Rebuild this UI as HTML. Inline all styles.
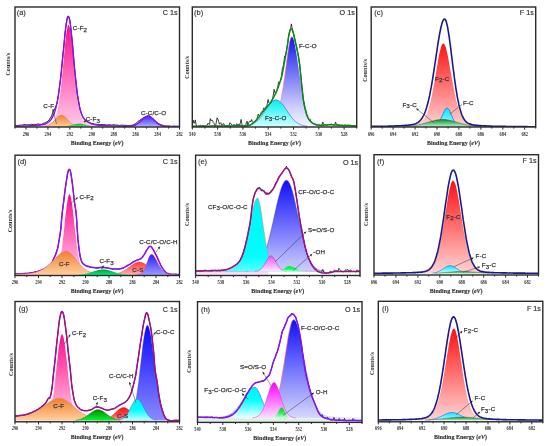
<!DOCTYPE html>
<html><head><meta charset="utf-8"><title>XPS spectra</title>
<style>html,body{margin:0;padding:0;background:#fff;}svg{display:block;}</style></head>
<body><svg width="550" height="446" viewBox="0 0 550 446">
<defs><clipPath id="c0"><rect x="15" y="7" width="164.5" height="120"/></clipPath>
<linearGradient id="g1" x1="0" y1="0" x2="0" y2="1"><stop offset="0" stop-color="#ff0a8c"/><stop offset="1" stop-color="#ffcce8"/></linearGradient>
<linearGradient id="g2" x1="0" y1="0" x2="0" y2="1"><stop offset="0" stop-color="#f08030"/><stop offset="1" stop-color="#ffd0a0"/></linearGradient>
<linearGradient id="g3" x1="0" y1="0" x2="0" y2="1"><stop offset="0" stop-color="#3c32ff"/><stop offset="1" stop-color="#b0b0ff"/></linearGradient>
<linearGradient id="g4" x1="0" y1="0" x2="0" y2="1"><stop offset="0" stop-color="#10b030"/><stop offset="1" stop-color="#50e878"/></linearGradient>
<clipPath id="c5"><rect x="192.3" y="7" width="164.4" height="120"/></clipPath>
<linearGradient id="g5" x1="0" y1="0" x2="0" y2="1"><stop offset="0" stop-color="#1414f0"/><stop offset="0.8" stop-color="#d2d2ff"/><stop offset="1" stop-color="#f4f4ff"/></linearGradient>
<linearGradient id="g6" x1="0" y1="0" x2="0" y2="1"><stop offset="0" stop-color="#00f0f0"/><stop offset="1" stop-color="#d0ffff"/></linearGradient>
<clipPath id="c8"><rect x="371.2" y="7" width="164.5" height="120"/></clipPath>
<linearGradient id="g7" x1="0" y1="0" x2="0" y2="1"><stop offset="0" stop-color="#ff1010"/><stop offset="1" stop-color="#ffd4d4"/></linearGradient>
<linearGradient id="g8" x1="0" y1="0" x2="0" y2="1"><stop offset="0" stop-color="#00e8ff"/><stop offset="1" stop-color="#b0f8ff"/></linearGradient>
<linearGradient id="g9" x1="0" y1="0" x2="0" y2="1"><stop offset="0" stop-color="#108a30"/><stop offset="1" stop-color="#c0f4d0"/></linearGradient>
<clipPath id="c12"><rect x="15" y="155.2" width="164.5" height="120.3"/></clipPath>
<linearGradient id="g10" x1="0" y1="0" x2="0" y2="1"><stop offset="0" stop-color="#ff0a8c"/><stop offset="1" stop-color="#ffcce8"/></linearGradient>
<linearGradient id="g11" x1="0" y1="0" x2="0" y2="1"><stop offset="0" stop-color="#f08030"/><stop offset="1" stop-color="#ffd0a0"/></linearGradient>
<linearGradient id="g12" x1="0" y1="0" x2="0" y2="1"><stop offset="0" stop-color="#ff3838"/><stop offset="1" stop-color="#ffb4b4"/></linearGradient>
<linearGradient id="g13" x1="0" y1="0" x2="0" y2="1"><stop offset="0" stop-color="#00a020"/><stop offset="1" stop-color="#00f090"/></linearGradient>
<linearGradient id="g14" x1="0" y1="0" x2="0" y2="1"><stop offset="0" stop-color="#2a1ef8"/><stop offset="1" stop-color="#9a9aff"/></linearGradient>
<clipPath id="c18"><rect x="195.6" y="155.2" width="164.4" height="120.3"/></clipPath>
<linearGradient id="g15" x1="0" y1="0" x2="0" y2="1"><stop offset="0" stop-color="#0f0ffa"/><stop offset="1" stop-color="#d0d0ff"/></linearGradient>
<linearGradient id="g16" x1="0" y1="0" x2="0" y2="1"><stop offset="0" stop-color="#00f4f4"/><stop offset="0.8" stop-color="#00ffff"/><stop offset="1" stop-color="#60ffff"/></linearGradient>
<linearGradient id="g17" x1="0" y1="0" x2="0" y2="1"><stop offset="0" stop-color="#f050f0"/><stop offset="1" stop-color="#ffe8ff"/></linearGradient>
<linearGradient id="g18" x1="0" y1="0" x2="0" y2="1"><stop offset="0" stop-color="#10f010"/><stop offset="0.5" stop-color="#00ff70"/><stop offset="1" stop-color="#c8ffe0"/></linearGradient>
<clipPath id="c23"><rect x="374" y="154.7" width="164.5" height="120.3"/></clipPath>
<linearGradient id="g19" x1="0" y1="0" x2="0" y2="1"><stop offset="0" stop-color="#ff1010"/><stop offset="1" stop-color="#ffd4d4"/></linearGradient>
<linearGradient id="g20" x1="0" y1="0" x2="0" y2="1"><stop offset="0" stop-color="#00e8ff"/><stop offset="1" stop-color="#d8fcff"/></linearGradient>
<linearGradient id="g21" x1="0" y1="0" x2="0" y2="1"><stop offset="0" stop-color="#208a40"/><stop offset="1" stop-color="#a8e8b8"/></linearGradient>
<clipPath id="c27"><rect x="15" y="301.5" width="164.5" height="120.3"/></clipPath>
<linearGradient id="g22" x1="0" y1="0" x2="0" y2="1"><stop offset="0" stop-color="#ff0a8c"/><stop offset="1" stop-color="#ffcce8"/></linearGradient>
<linearGradient id="g23" x1="0" y1="0" x2="0" y2="1"><stop offset="0" stop-color="#0a0aff"/><stop offset="1" stop-color="#8a8aff"/></linearGradient>
<linearGradient id="g24" x1="0" y1="0" x2="0" y2="1"><stop offset="0" stop-color="#f08030"/><stop offset="1" stop-color="#ffd0a0"/></linearGradient>
<linearGradient id="g25" x1="0" y1="0" x2="0" y2="1"><stop offset="0" stop-color="#ff1010"/><stop offset="0.5" stop-color="#ff4040"/><stop offset="1" stop-color="#ffa8a8"/></linearGradient>
<linearGradient id="g26" x1="0" y1="0" x2="0" y2="1"><stop offset="0" stop-color="#008a00"/><stop offset="1" stop-color="#00f830"/></linearGradient>
<linearGradient id="g27" x1="0" y1="0" x2="0" y2="1"><stop offset="0" stop-color="#00f0f8"/><stop offset="0.5" stop-color="#00ffff"/><stop offset="1" stop-color="#c0ffff"/></linearGradient>
<clipPath id="c34"><rect x="197.5" y="301.7" width="164.5" height="120.7"/></clipPath>
<linearGradient id="g28" x1="0" y1="0" x2="0" y2="1"><stop offset="0" stop-color="#0f0ffa"/><stop offset="1" stop-color="#d8d8ff"/></linearGradient>
<linearGradient id="g29" x1="0" y1="0" x2="0" y2="1"><stop offset="0" stop-color="#00f0f0"/><stop offset="0.4" stop-color="#00ffff"/><stop offset="1" stop-color="#f0ffff"/></linearGradient>
<linearGradient id="g30" x1="0" y1="0" x2="0" y2="1"><stop offset="0" stop-color="#ff00ff"/><stop offset="1" stop-color="#ffe0ff"/></linearGradient>
<linearGradient id="g31" x1="0" y1="0" x2="0" y2="1"><stop offset="0" stop-color="#10d010"/><stop offset="0.5" stop-color="#20f060"/><stop offset="1" stop-color="#d8ffe0"/></linearGradient>
<clipPath id="c39"><rect x="378.3" y="301.3" width="164.5" height="120.5"/></clipPath>
<linearGradient id="g32" x1="0" y1="0" x2="0" y2="1"><stop offset="0" stop-color="#ff1010"/><stop offset="1" stop-color="#ffd4d4"/></linearGradient>
<linearGradient id="g33" x1="0" y1="0" x2="0" y2="1"><stop offset="0" stop-color="#00e8ff"/><stop offset="1" stop-color="#c8faff"/></linearGradient>
<linearGradient id="g34" x1="0" y1="0" x2="0" y2="1"><stop offset="0" stop-color="#208a40"/><stop offset="1" stop-color="#a8e8b8"/></linearGradient></defs>
<rect width="550" height="446" fill="#fff"/>
<g clip-path="url(#c0)">
<path d="M15,126.7 L15,126.3 15.8,126.3 16.5,126.3 17.2,126.2 18,126.2 18.8,126.2 19.5,126.2 20.2,126.2 21,126.2 21.8,126.1 22.5,126.1 23.2,126.1 24,126.1 24.8,126.1 25.5,126 26.2,126 27,126 27.8,126 28.5,125.9 29.2,125.9 30,125.9 30.8,125.9 31.5,125.8 32.2,125.8 33,125.8 33.8,125.7 34.5,125.7 35.2,125.6 36,125.6 36.8,125.5 37.5,125.5 38.2,125.4 39,125.3 39.8,125.3 40.5,125.2 41.2,125.1 42,125 42.8,124.9 43.5,124.8 44.2,124.7 45,124.6 45.8,124.5 46.5,124.3 47.2,124.2 48,124 48.8,123.7 49.5,123.5 50.2,123.2 51,122.8 51.8,122.3 52.5,121.7 53.2,120.9 54,119.9 54.8,118.6 55.5,116.9 56.2,114.8 57,112.2 57.8,109 58.5,105.1 59.2,100.5 60,95.1 60.8,89 61.5,82.1 62.2,74.7 63,66.8 63.8,58.6 64.5,50.6 65.2,42.9 66,36.1 66.8,30.5 67.5,26.7 68.2,24.8 69,25.2 69.8,27.7 70.5,32.2 71.2,38.2 72,45.4 72.8,53.2 73.5,61.4 74.2,69.4 75,77.2 75.8,84.5 76.5,91.1 77.2,97 78,102.1 78.8,106.5 79.5,110.1 80.2,113.1 81,115.6 81.8,117.5 82.5,119 83.2,120.2 84,121.2 84.8,121.9 85.5,122.5 86.2,122.9 87,123.3 87.8,123.6 88.5,123.8 89.2,124 90,124.2 90.8,124.4 91.5,124.5 92.2,124.7 93,124.8 93.8,124.9 94.5,125 95.2,125.1 96,125.2 96.8,125.2 97.5,125.3 98.2,125.4 99,125.4 99.8,125.5 100.5,125.5 101.2,125.6 102,125.6 102.8,125.7 103.5,125.7 104.2,125.8 105,125.8 105.8,125.8 106.5,125.9 107.2,125.9 108,125.9 108.8,126 109.5,126 110.2,126 111,126 111.8,126.1 112.5,126.1 113.2,126.1 114,126.1 114.8,126.1 115.5,126.2 116.2,126.2 117,126.2 117.8,126.2 118.5,126.2 119.2,126.2 120,126.2 120.8,126.3 121.5,126.3 122.2,126.3 123,126.3 123.8,126.3 124.5,126.3 125.2,126.3 126,126.3 126.8,126.3 127.5,126.3 128.2,126.4 129,126.4 129.8,126.4 130.5,126.4 131.2,126.4 132,126.4 132.8,126.4 133.5,126.4 134.2,126.4 135,126.4 135.8,126.4 136.5,126.4 137.2,126.4 138,126.4 138.8,126.5 139.5,126.5 140.2,126.5 141,126.5 141.8,126.5 142.5,126.5 143.2,126.5 144,126.5 144.8,126.5 145.5,126.5 146.2,126.5 147,126.5 147.8,126.5 148.5,126.5 149.2,126.5 150,126.5 150.8,126.5 151.5,126.5 152.2,126.5 153,126.5 153.8,126.5 154.5,126.5 155.2,126.5 156,126.5 156.8,126.5 157.5,126.5 158.2,126.5 159,126.6 159.8,126.6 160.5,126.6 161.2,126.6 162,126.6 162.8,126.6 163.5,126.6 164.2,126.6 165,126.6 165.8,126.6 166.5,126.6 167.2,126.6 168,126.6 168.8,126.6 169.5,126.6 170.2,126.6 171,126.6 171.8,126.6 172.5,126.6 173.2,126.6 174,126.6 174.8,126.6 175.5,126.6 176.2,126.6 177,126.6 177.8,126.6 178.5,126.6 179.2,126.6 L179.2,126.7 Z" fill="url(#g1)"/>
<path d="M27,126.7 L27,126.6 27.8,126.6 28.5,126.6 29.2,126.6 30,126.6 30.8,126.6 31.5,126.6 32.2,126.6 33,126.6 33.8,126.6 34.5,126.6 35.2,126.6 36,126.6 36.8,126.6 37.5,126.6 38.2,126.6 39,126.6 39.8,126.5 40.5,126.5 41.2,126.5 42,126.5 42.8,126.4 43.5,126.3 44.2,126.3 45,126.1 45.8,126 46.5,125.8 47.2,125.6 48,125.3 48.8,125 49.5,124.6 50.2,124.2 51,123.7 51.8,123.1 52.5,122.4 53.2,121.7 54,121 54.8,120.2 55.5,119.4 56.2,118.6 57,117.8 57.8,117.1 58.5,116.4 59.2,115.9 60,115.5 60.8,115.3 61.5,115.2 62.2,115.3 63,115.5 63.8,115.9 64.5,116.4 65.2,117.1 66,117.8 66.8,118.6 67.5,119.4 68.2,120.2 69,121 69.8,121.7 70.5,122.4 71.2,123.1 72,123.7 72.8,124.2 73.5,124.6 74.2,125 75,125.3 75.8,125.6 76.5,125.8 77.2,126 78,126.1 78.8,126.3 79.5,126.3 80.2,126.4 81,126.5 81.8,126.5 82.5,126.5 83.2,126.5 84,126.6 84.8,126.6 85.5,126.6 86.2,126.6 87,126.6 87.8,126.6 88.5,126.6 89.2,126.6 90,126.6 90.8,126.6 91.5,126.6 92.2,126.6 93,126.6 93.8,126.6 94.5,126.6 95.2,126.6 96,126.6 L96,126.7 Z" fill="url(#g2)"/>
<path d="M43.5,126.3 44.2,126.3 45,126.1 45.8,126 46.5,125.8 47.2,125.6 48,125.3 48.8,125 49.5,124.6 50.2,124.2 51,123.7 51.8,123.1 52.5,122.4 53.2,121.7 54,121 54.8,120.2 55.5,119.4 56.2,118.6 57,117.8 57.8,117.1 58.5,116.4 59.2,115.9 60,115.5 60.8,115.3 61.5,115.2 62.2,115.3 63,115.5 63.8,115.9 64.5,116.4 65.2,117.1 66,117.8 66.8,118.6 67.5,119.4 68.2,120.2 69,121 69.8,121.7 70.5,122.4 71.2,123.1 72,123.7 72.8,124.2 73.5,124.6 74.2,125 75,125.3 75.8,125.6 76.5,125.8 77.2,126 78,126.1 78.8,126.3 79.5,126.3" fill="none" stroke="#e07030" stroke-width="0.4"/>
<path d="M115.5,126.7 L115.5,126.6 116.2,126.6 117,126.6 117.8,126.6 118.5,126.6 119.2,126.6 120,126.6 120.8,126.6 121.5,126.6 122.2,126.6 123,126.6 123.8,126.6 124.5,126.6 125.2,126.6 126,126.6 126.8,126.6 127.5,126.5 128.2,126.5 129,126.5 129.8,126.4 130.5,126.3 131.2,126.2 132,126.1 132.8,126 133.5,125.8 134.2,125.6 135,125.3 135.8,125 136.5,124.6 137.2,124.1 138,123.6 138.8,123.1 139.5,122.4 140.2,121.8 141,121.1 141.8,120.4 142.5,119.6 143.2,118.9 144,118.3 144.8,117.7 145.5,117.2 146.2,116.8 147,116.5 147.8,116.4 148.5,116.4 149.2,116.6 150,116.9 150.8,117.3 151.5,117.9 152.2,118.5 153,119.2 153.8,119.9 154.5,120.6 155.2,121.3 156,122 156.8,122.7 157.5,123.3 158.2,123.8 159,124.3 159.8,124.7 160.5,125.1 161.2,125.4 162,125.6 162.8,125.9 163.5,126 164.2,126.2 165,126.3 165.8,126.4 166.5,126.4 167.2,126.5 168,126.5 168.8,126.5 169.5,126.6 170.2,126.6 171,126.6 171.8,126.6 172.5,126.6 173.2,126.6 174,126.6 174.8,126.6 175.5,126.6 176.2,126.6 177,126.6 177.8,126.6 178.5,126.6 179.2,126.6 L179.2,126.7 Z" fill="url(#g3)"/>
<path d="M129.8,126.4 130.5,126.3 131.2,126.2 132,126.1 132.8,126 133.5,125.8 134.2,125.6 135,125.3 135.8,125 136.5,124.6 137.2,124.1 138,123.6 138.8,123.1 139.5,122.4 140.2,121.8 141,121.1 141.8,120.4 142.5,119.6 143.2,118.9 144,118.3 144.8,117.7 145.5,117.2 146.2,116.8 147,116.5 147.8,116.4 148.5,116.4 149.2,116.6 150,116.9 150.8,117.3 151.5,117.9 152.2,118.5 153,119.2 153.8,119.9 154.5,120.6 155.2,121.3 156,122 156.8,122.7 157.5,123.3 158.2,123.8 159,124.3 159.8,124.7 160.5,125.1 161.2,125.4 162,125.6 162.8,125.9 163.5,126 164.2,126.2 165,126.3 165.8,126.4" fill="none" stroke="#3a2ad0" stroke-width="0.5"/>
<path d="M52.5,126.7 L52.5,126.6 53.2,126.6 54,126.6 54.8,126.6 55.5,126.6 56.2,126.6 57,126.6 57.8,126.6 58.5,126.6 59.2,126.6 60,126.6 60.8,126.5 61.5,126.5 62.2,126.5 63,126.4 63.8,126.4 64.5,126.3 65.2,126.2 66,126.2 66.8,126 67.5,125.9 68.2,125.8 69,125.7 69.8,125.5 70.5,125.3 71.2,125.1 72,124.9 72.8,124.8 73.5,124.6 74.2,124.4 75,124.2 75.8,124 76.5,123.9 77.2,123.8 78,123.7 78.8,123.7 79.5,123.7 80.2,123.8 81,123.8 81.8,124 82.5,124.1 83.2,124.3 84,124.4 84.8,124.6 85.5,124.8 86.2,125 87,125.2 87.8,125.4 88.5,125.5 89.2,125.7 90,125.8 90.8,126 91.5,126.1 92.2,126.2 93,126.3 93.8,126.3 94.5,126.4 95.2,126.4 96,126.5 96.8,126.5 97.5,126.5 98.2,126.6 99,126.6 99.8,126.6 100.5,126.6 101.2,126.6 102,126.6 102.8,126.6 103.5,126.6 104.2,126.6 105,126.6 105.8,126.6 L105.8,126.7 Z" fill="url(#g4)"/>
<path d="M15,125.2 15.8,125.3 16.5,125.5 17.2,125.6 18,125.5 18.8,125.3 19.5,125.3 20.2,125.2 21,125.2 21.8,125.2 22.5,125.1 23.2,124.8 24,124.5 24.8,124.5 25.5,124.7 26.2,124.8 27,124.9 27.8,124.9 28.5,124.7 29.2,124.8 30,124.9 30.8,124.6 31.5,124.3 32.2,124.4 33,124.7 33.8,124.6 34.5,124.4 35.2,124.4 36,124.5 36.8,124.3 37.5,124 38.2,123.9 39,124.2 39.8,124.3 40.5,124.3 41.2,124.4 42,124.1 42.8,123.7 43.5,123.3 44.2,123.2 45,123 45.8,122.5 46.5,122.1 47.2,121.8 48,121.1 48.8,120.2 49.5,119.3 50.2,118.2 51,117.1 51.8,115.3 52.5,113.2 53.2,111.3 54,110 54.8,108.5 55.5,107.1 56.2,105.7 57,102.9 57.8,99.1 58.5,94.6 59.2,89.3 60,83.1 60.8,76.5 61.5,69.5 62.2,62.1 63,54.4 63.8,46.6 64.5,39 65.2,31.9 66,25.4 66.8,20.3 67.5,17.3 68.2,16.1 69,17 69.8,20.1 70.5,25.2 71.2,31.8 72,39.4 72.8,47.9 73.5,56.4 74.2,64.7 75,72.8 75.8,80.2 76.5,86.9 77.2,93 78,98.1 78.8,102.5 79.5,106.4 80.2,109.9 81,112.7 81.8,114.6 82.5,116.1 83.2,117.5 84,118.6 84.8,119.4 85.5,120.2 86.2,120.8 87,121.3 87.8,121.9 88.5,122.1 89.2,122.2 90,122.7 90.8,123.3 91.5,123.4 92.2,123.4 93,123.5 93.8,123.8 94.5,124.2 95.2,124.3 96,124.2 96.8,124.3 97.5,124.5 98.2,124.6 99,124.6 99.8,124.6 100.5,124.6 101.2,124.6 102,124.5 102.8,124.6 103.5,124.7 104.2,124.7 105,124.7 105.8,124.8 106.5,125 107.2,125.1 108,124.9 108.8,124.8 109.5,124.8 110.2,124.9 111,125 111.8,125.1 112.5,124.9 113.2,124.6 114,124.8 114.8,125 115.5,125 116.2,125.1 117,125.2 117.8,125.1 118.5,125.3 119.2,125.6 120,125.5 120.8,125.3 121.5,125.2 122.2,125.2 123,125.3 123.8,125.3 124.5,125.3 125.2,125.4 126,125.3 126.8,125.4 127.5,125.5 128.2,125.5 129,125.6 129.8,125.6 130.5,125.4 131.2,125.3 132,125.3 132.8,125.1 133.5,124.7 134.2,124.4 135,124.1 135.8,123.6 136.5,123.1 137.2,122.3 138,121.4 138.8,120.9 139.5,120.6 140.2,119.9 141,119.4 141.8,118.9 142.5,118.3 143.2,118 144,117.6 144.8,117.1 145.5,116.7 146.2,116.6 147,116.3 147.8,115.9 148.5,115.8 149.2,115.9 150,116.1 150.8,116.7 151.5,117.5 152.2,118.3 153,119.2 153.8,119.9 154.5,120.5 155.2,121 156,121.6 156.8,122.5 157.5,123.2 158.2,123.8 159,124.2 159.8,124.4 160.5,124.8 161.2,125.1 162,125.1 162.8,125.3 163.5,125.8 164.2,126.1 165,126.2 165.8,126.2 166.5,126.2 167.2,126.2 168,126.1 168.8,126 169.5,126.1 170.2,126.3 171,126.4 171.8,126.5 172.5,126.4 173.2,126.3 174,126.2 174.8,126.2 175.5,126.4 176.2,126.4 177,126.3 177.8,126.4 178.5,126.5 179.2,126.5" fill="none" stroke="#111" stroke-width="1.0" stroke-linejoin="round"/>
<path d="M15,126.2 15.8,126.2 16.5,126.2 17.2,126.2 18,126.2 18.8,126.2 19.5,126.1 20.2,126.1 21,126.1 21.8,126.1 22.5,126.1 23.2,126 24,126 24.8,126 25.5,126 26.2,125.9 27,125.9 27.8,125.9 28.5,125.9 29.2,125.8 30,125.8 30.8,125.8 31.5,125.7 32.2,125.7 33,125.6 33.8,125.6 34.5,125.6 35.2,125.5 36,125.4 36.8,125.4 37.5,125.3 38.2,125.2 39,125.2 39.8,125.1 40.5,125 41.2,124.9 42,124.7 42.8,124.6 43.5,124.4 44.2,124.2 45,124 45.8,123.7 46.5,123.4 47.2,123 48,122.5 48.8,122 49.5,121.3 50.2,120.5 51,119.6 51.8,118.5 52.5,117.2 53.2,115.7 54,113.9 54.8,111.8 55.5,109.3 56.2,106.4 57,103 57.8,99 58.5,94.4 59.2,89.2 60,83.4 60.8,76.9 61.5,69.9 62.2,62.4 63,54.6 63.8,46.7 64.5,39 65.2,31.9 66,25.6 66.8,20.7 67.5,17.5 68.2,16.3 69,17.3 69.8,20.5 70.5,25.5 71.2,32.1 72,39.7 72.8,48 73.5,56.4 74.2,64.8 75,72.8 75.8,80.3 76.5,87 77.2,93.1 78,98.3 78.8,102.8 79.5,106.6 80.2,109.7 81,112.3 81.8,114.4 82.5,116.1 83.2,117.5 84,118.7 84.8,119.6 85.5,120.4 86.2,121 87,121.6 87.8,122.1 88.5,122.5 89.2,122.9 90,123.2 90.8,123.5 91.5,123.8 92.2,124 93,124.2 93.8,124.4 94.5,124.6 95.2,124.7 96,124.8 96.8,125 97.5,125.1 98.2,125.2 99,125.2 99.8,125.3 100.5,125.4 101.2,125.4 102,125.5 102.8,125.5 103.5,125.6 104.2,125.6 105,125.7 105.8,125.7 106.5,125.7 107.2,125.8 108,125.8 108.8,125.8 109.5,125.9 110.2,125.9 111,125.9 111.8,125.9 112.5,126 113.2,126 114,126 114.8,126 115.5,126 116.2,126.1 117,126.1 117.8,126.1 118.5,126.1 119.2,126.1 120,126.1 120.8,126.1 121.5,126.1 122.2,126.2 123,126.2 123.8,126.2 124.5,126.2 125.2,126.2 126,126.2 126.8,126.2 127.5,126.1 128.2,126.1 129,126.1 129.8,126 130.5,126 131.2,125.9 132,125.8 132.8,125.6 133.5,125.5 134.2,125.2 135,125 135.8,124.6 136.5,124.3 137.2,123.8 138,123.3 138.8,122.8 139.5,122.1 140.2,121.5 141,120.8 141.8,120.1 142.5,119.3 143.2,118.6 144,118 144.8,117.4 145.5,116.9 146.2,116.5 147,116.2 147.8,116.1 148.5,116.1 149.2,116.3 150,116.6 150.8,117.1 151.5,117.6 152.2,118.2 153,118.9 153.8,119.6 154.5,120.4 155.2,121.1 156,121.8 156.8,122.4 157.5,123.1 158.2,123.6 159,124.1 159.8,124.5 160.5,124.9 161.2,125.2 162,125.5 162.8,125.7 163.5,125.9 164.2,126 165,126.1 165.8,126.2 166.5,126.3 167.2,126.3 168,126.4 168.8,126.4 169.5,126.4 170.2,126.4 171,126.5 171.8,126.5 172.5,126.5 173.2,126.5 174,126.5 174.8,126.5 175.5,126.5 176.2,126.5 177,126.5 177.8,126.5 178.5,126.5 179.2,126.5" fill="none" stroke="#8a10f0" stroke-width="1.4" stroke-linejoin="round"/>
</g>
<rect x="15" y="7" width="164.5" height="120" fill="none" stroke="#2a2a2a" stroke-width="1.4"/>
<line x1="15" y1="127" x2="15" y2="128.6" stroke="#2a2a2a" stroke-width="1"/>
<line x1="26" y1="127" x2="26" y2="129.6" stroke="#2a2a2a" stroke-width="1"/>
<text x="26" y="135.5" font-size="5.4" font-family="'Liberation Serif', 'Times New Roman', serif" font-weight="bold" text-anchor="middle" fill="#333" textLength="6.6" lengthAdjust="spacingAndGlyphs">296</text>
<line x1="36.9" y1="127" x2="36.9" y2="128.6" stroke="#2a2a2a" stroke-width="1"/>
<line x1="47.9" y1="127" x2="47.9" y2="129.6" stroke="#2a2a2a" stroke-width="1"/>
<text x="47.9" y="135.5" font-size="5.4" font-family="'Liberation Serif', 'Times New Roman', serif" font-weight="bold" text-anchor="middle" fill="#333" textLength="6.6" lengthAdjust="spacingAndGlyphs">294</text>
<line x1="58.9" y1="127" x2="58.9" y2="128.6" stroke="#2a2a2a" stroke-width="1"/>
<line x1="69.8" y1="127" x2="69.8" y2="129.6" stroke="#2a2a2a" stroke-width="1"/>
<text x="69.8" y="135.5" font-size="5.4" font-family="'Liberation Serif', 'Times New Roman', serif" font-weight="bold" text-anchor="middle" fill="#333" textLength="6.6" lengthAdjust="spacingAndGlyphs">292</text>
<line x1="80.8" y1="127" x2="80.8" y2="128.6" stroke="#2a2a2a" stroke-width="1"/>
<line x1="91.8" y1="127" x2="91.8" y2="129.6" stroke="#2a2a2a" stroke-width="1"/>
<text x="91.8" y="135.5" font-size="5.4" font-family="'Liberation Serif', 'Times New Roman', serif" font-weight="bold" text-anchor="middle" fill="#333" textLength="6.6" lengthAdjust="spacingAndGlyphs">290</text>
<line x1="102.7" y1="127" x2="102.7" y2="128.6" stroke="#2a2a2a" stroke-width="1"/>
<line x1="113.7" y1="127" x2="113.7" y2="129.6" stroke="#2a2a2a" stroke-width="1"/>
<text x="113.7" y="135.5" font-size="5.4" font-family="'Liberation Serif', 'Times New Roman', serif" font-weight="bold" text-anchor="middle" fill="#333" textLength="6.6" lengthAdjust="spacingAndGlyphs">288</text>
<line x1="124.7" y1="127" x2="124.7" y2="128.6" stroke="#2a2a2a" stroke-width="1"/>
<line x1="135.6" y1="127" x2="135.6" y2="129.6" stroke="#2a2a2a" stroke-width="1"/>
<text x="135.6" y="135.5" font-size="5.4" font-family="'Liberation Serif', 'Times New Roman', serif" font-weight="bold" text-anchor="middle" fill="#333" textLength="6.6" lengthAdjust="spacingAndGlyphs">286</text>
<line x1="146.6" y1="127" x2="146.6" y2="128.6" stroke="#2a2a2a" stroke-width="1"/>
<line x1="157.6" y1="127" x2="157.6" y2="129.6" stroke="#2a2a2a" stroke-width="1"/>
<text x="157.6" y="135.5" font-size="5.4" font-family="'Liberation Serif', 'Times New Roman', serif" font-weight="bold" text-anchor="middle" fill="#333" textLength="6.6" lengthAdjust="spacingAndGlyphs">284</text>
<line x1="168.5" y1="127" x2="168.5" y2="128.6" stroke="#2a2a2a" stroke-width="1"/>
<line x1="179.5" y1="127" x2="179.5" y2="129.6" stroke="#2a2a2a" stroke-width="1"/>
<text x="179.5" y="135.5" font-size="5.4" font-family="'Liberation Serif', 'Times New Roman', serif" font-weight="bold" text-anchor="middle" fill="#333" textLength="6.6" lengthAdjust="spacingAndGlyphs">282</text>
<text x="97.2" y="144.5" font-size="5.9" font-family="'Liberation Serif', 'Times New Roman', serif" font-weight="bold" text-anchor="middle" fill="#333" stroke="#333" stroke-width="0.15" letter-spacing="0.06">Binding Energy (<tspan font-style="italic">eV</tspan>)</text>
<text transform="translate(10,64.2) rotate(-90)" font-size="6.1" font-family="'Liberation Serif', 'Times New Roman', serif" font-weight="bold" text-anchor="middle" fill="#333">Counts/s</text>
<text x="16.7" y="15.3" font-size="7.5" font-family="'Liberation Sans', Arial, sans-serif" font-weight="normal" text-anchor="start" fill="#333" stroke="#333" stroke-width="0.15">(a)</text>
<text x="177.6" y="15.1" font-size="7.2" font-family="'Liberation Sans', Arial, sans-serif" font-weight="normal" text-anchor="end" fill="#333" stroke="#333" stroke-width="0.18">C 1s</text>
<text x="72.8" y="30.3" font-size="6.2" font-family="'Liberation Sans', Arial, sans-serif" font-weight="normal" text-anchor="start" fill="#383838" stroke="#383838" stroke-width="0.25" letter-spacing="0.15"><tspan>C-F</tspan><tspan dy="1.5" font-size="6.2">2</tspan></text>
<text x="43.3" y="107.8" font-size="6.2" font-family="'Liberation Sans', Arial, sans-serif" font-weight="normal" text-anchor="start" fill="#383838" stroke="#383838" stroke-width="0.25" letter-spacing="0.15"><tspan>C-F</tspan></text>
<text x="85.7" y="121.2" font-size="6.2" font-family="'Liberation Sans', Arial, sans-serif" font-weight="normal" text-anchor="start" fill="#383838" stroke="#383838" stroke-width="0.25" letter-spacing="0.15"><tspan>C-F</tspan><tspan dy="1.5" font-size="6.2">3</tspan></text>
<text x="141" y="114.8" font-size="6.2" font-family="'Liberation Sans', Arial, sans-serif" font-weight="normal" text-anchor="start" fill="#383838" stroke="#383838" stroke-width="0.25" letter-spacing="0.15"><tspan>C-C/C-O</tspan></text>
<line x1="52.8" y1="109" x2="56.5" y2="124" stroke="#333" stroke-width="0.5"/>
<path d="M52.8,109 L54.4,111 L52.3,111.5 Z" fill="#222"/>
<line x1="85.6" y1="119.8" x2="84.3" y2="122.6" stroke="#333" stroke-width="0.5"/>
<path d="M85.6,119.8 L85.6,122.4 L83.6,121.5 Z" fill="#222"/>
<g clip-path="url(#c5)">
<rect x="235" y="126.3" width="121.7" height="0.3" fill="none"/>
<line x1="235" y1="126.3" x2="356.7" y2="126.3" stroke="#f070c0" stroke-width="0.6"/>
<path d="M192.3,126.5 L192.3,126.3 193.1,126.3 193.8,126.3 194.6,126.3 195.3,126.3 196.1,126.2 196.8,126.2 197.6,126.2 198.3,126.2 199.1,126.2 199.8,126.2 200.6,126.2 201.3,126.2 202.1,126.2 202.8,126.2 203.6,126.2 204.3,126.2 205.1,126.2 205.8,126.2 206.6,126.2 207.3,126.2 208.1,126.2 208.8,126.2 209.6,126.2 210.3,126.2 211.1,126.1 211.8,126.1 212.6,126.1 213.3,126.1 214.1,126.1 214.8,126.1 215.6,126.1 216.3,126.1 217.1,126.1 217.8,126.1 218.6,126.1 219.3,126.1 220.1,126.1 220.8,126 221.6,126 222.3,126 223.1,126 223.8,126 224.6,126 225.3,126 226.1,126 226.8,126 227.6,125.9 228.3,125.9 229.1,125.9 229.8,125.9 230.6,125.9 231.3,125.9 232.1,125.9 232.8,125.8 233.6,125.8 234.3,125.8 235.1,125.8 235.8,125.8 236.6,125.8 237.3,125.7 238.1,125.7 238.8,125.7 239.6,125.7 240.3,125.6 241.1,125.6 241.8,125.6 242.6,125.6 243.3,125.5 244.1,125.5 244.8,125.5 245.6,125.4 246.3,125.4 247.1,125.4 247.8,125.3 248.6,125.3 249.3,125.3 250.1,125.2 250.8,125.2 251.6,125.1 252.3,125.1 253.1,125 253.8,125 254.6,124.9 255.3,124.8 256.1,124.8 256.8,124.7 257.6,124.6 258.3,124.5 259.1,124.5 259.8,124.4 260.6,124.3 261.3,124.2 262.1,124 262.8,123.9 263.6,123.8 264.3,123.6 265.1,123.5 265.8,123.3 266.6,123.1 267.3,122.9 268.1,122.7 268.8,122.4 269.6,122.1 270.3,121.8 271.1,121.4 271.8,120.9 272.6,120.3 273.3,119.6 274.1,118.8 274.8,117.9 275.6,116.7 276.3,115.3 277.1,113.7 277.8,111.7 278.6,109.5 279.3,106.8 280.1,103.8 280.8,100.4 281.6,96.6 282.3,92.3 283.1,87.7 283.8,82.6 284.6,77.3 285.3,71.7 286.1,66 286.8,60.4 287.6,54.8 288.3,49.7 289.1,45.1 289.8,41.3 290.6,38.5 291.3,37 292.1,36.8 292.8,37.7 293.6,39.6 294.3,42.4 295.1,46 295.8,50.2 296.6,54.9 297.3,59.9 298.1,65 298.8,70.1 299.6,75.1 300.3,80 301.1,84.7 301.8,89.1 302.6,93.2 303.3,96.9 304.1,100.4 304.8,103.5 305.6,106.2 306.3,108.7 307.1,110.8 307.8,112.7 308.6,114.3 309.3,115.7 310.1,116.9 310.8,117.9 311.6,118.8 312.3,119.5 313.1,120.2 313.8,120.7 314.6,121.2 315.3,121.6 316.1,121.9 316.8,122.2 317.6,122.5 318.3,122.7 319.1,122.9 319.8,123.1 320.6,123.3 321.3,123.4 322.1,123.6 322.8,123.7 323.6,123.8 324.3,123.9 325.1,124.1 325.8,124.2 326.6,124.3 327.3,124.3 328.1,124.4 328.8,124.5 329.6,124.6 330.3,124.6 331.1,124.7 331.8,124.8 332.6,124.8 333.3,124.9 334.1,124.9 334.8,125 335.6,125 336.3,125.1 337.1,125.1 337.8,125.2 338.6,125.2 339.3,125.3 340.1,125.3 340.8,125.3 341.6,125.4 342.3,125.4 343.1,125.4 343.8,125.5 344.6,125.5 345.3,125.5 346.1,125.5 346.8,125.6 347.6,125.6 348.3,125.6 349.1,125.6 349.8,125.7 350.6,125.7 351.3,125.7 352.1,125.7 352.8,125.7 353.6,125.8 354.3,125.8 355.1,125.8 355.8,125.8 356.6,125.8 L356.6,126.5 Z" fill="url(#g5)"/>
<path d="M204.3,126.2 205.1,126.2 205.8,126.2 206.6,126.2 207.3,126.2 208.1,126.2 208.8,126.2 209.6,126.2 210.3,126.2 211.1,126.1 211.8,126.1 212.6,126.1 213.3,126.1 214.1,126.1 214.8,126.1 215.6,126.1 216.3,126.1 217.1,126.1 217.8,126.1 218.6,126.1 219.3,126.1 220.1,126.1 220.8,126 221.6,126 222.3,126 223.1,126 223.8,126 224.6,126 225.3,126 226.1,126 226.8,126 227.6,125.9 228.3,125.9 229.1,125.9 229.8,125.9 230.6,125.9 231.3,125.9 232.1,125.9 232.8,125.8 233.6,125.8 234.3,125.8 235.1,125.8 235.8,125.8 236.6,125.8 237.3,125.7 238.1,125.7 238.8,125.7 239.6,125.7 240.3,125.6 241.1,125.6 241.8,125.6 242.6,125.6 243.3,125.5 244.1,125.5 244.8,125.5 245.6,125.4 246.3,125.4 247.1,125.4 247.8,125.3 248.6,125.3 249.3,125.3 250.1,125.2 250.8,125.2 251.6,125.1 252.3,125.1 253.1,125 253.8,125 254.6,124.9 255.3,124.8 256.1,124.8 256.8,124.7 257.6,124.6 258.3,124.5 259.1,124.5 259.8,124.4 260.6,124.3 261.3,124.2 262.1,124 262.8,123.9 263.6,123.8 264.3,123.6 265.1,123.5 265.8,123.3 266.6,123.1 267.3,122.9 268.1,122.7 268.8,122.4 269.6,122.1 270.3,121.8 271.1,121.4 271.8,120.9 272.6,120.3 273.3,119.6 274.1,118.8 274.8,117.9 275.6,116.7 276.3,115.3 277.1,113.7 277.8,111.7 278.6,109.5 279.3,106.8 280.1,103.8 280.8,100.4 281.6,96.6 282.3,92.3 283.1,87.7 283.8,82.6 284.6,77.3 285.3,71.7 286.1,66 286.8,60.4 287.6,54.8 288.3,49.7 289.1,45.1 289.8,41.3 290.6,38.5 291.3,37 292.1,36.8 292.8,37.7" fill="none" stroke="#ff7090" stroke-width="0.6"/>
<path d="M238.8,126.5 L238.8,126.4 239.6,126.4 240.3,126.4 241.1,126.4 241.8,126.4 242.6,126.3 243.3,126.3 244.1,126.2 244.8,126.1 245.6,126.1 246.3,126 247.1,125.9 247.8,125.7 248.6,125.6 249.3,125.4 250.1,125.2 250.8,124.9 251.6,124.6 252.3,124.3 253.1,123.9 253.8,123.5 254.6,123 255.3,122.5 256.1,121.9 256.8,121.3 257.6,120.6 258.3,119.9 259.1,119.1 259.8,118.2 260.6,117.3 261.3,116.3 262.1,115.3 262.8,114.2 263.6,113.1 264.3,112 265.1,110.9 265.8,109.7 266.6,108.6 267.3,107.5 268.1,106.4 268.8,105.4 269.6,104.4 270.3,103.5 271.1,102.6 271.8,101.9 272.6,101.3 273.3,100.7 274.1,100.3 274.8,100.1 275.6,99.9 276.3,99.9 277.1,100 277.8,100.3 278.6,100.7 279.3,101.2 280.1,101.8 280.8,102.5 281.6,103.3 282.3,104.2 283.1,105.2 283.8,106.2 284.6,107.3 285.3,108.4 286.1,109.5 286.8,110.6 287.6,111.8 288.3,112.9 289.1,114 289.8,115.1 290.6,116.1 291.3,117.1 292.1,118 292.8,118.9 293.6,119.7 294.3,120.5 295.1,121.2 295.8,121.8 296.6,122.4 297.3,122.9 298.1,123.4 298.8,123.8 299.6,124.2 300.3,124.6 301.1,124.9 301.8,125.1 302.6,125.3 303.3,125.5 304.1,125.7 304.8,125.8 305.6,125.9 306.3,126 307.1,126.1 307.8,126.2 308.6,126.3 309.3,126.3 310.1,126.3 310.8,126.4 311.6,126.4 312.3,126.4 313.1,126.4 L313.1,126.5 Z" fill="url(#g6)"/>
<path d="M244.8,126.1 245.6,126.1 246.3,126 247.1,125.9 247.8,125.7 248.6,125.6 249.3,125.4 250.1,125.2 250.8,124.9 251.6,124.6 252.3,124.3 253.1,123.9 253.8,123.5 254.6,123 255.3,122.5 256.1,121.9 256.8,121.3 257.6,120.6 258.3,119.9 259.1,119.1 259.8,118.2 260.6,117.3 261.3,116.3 262.1,115.3 262.8,114.2 263.6,113.1 264.3,112 265.1,110.9 265.8,109.7 266.6,108.6 267.3,107.5 268.1,106.4 268.8,105.4 269.6,104.4 270.3,103.5 271.1,102.6 271.8,101.9 272.6,101.3 273.3,100.7 274.1,100.3 274.8,100.1 275.6,99.9 276.3,99.9 277.1,100 277.8,100.3 278.6,100.7 279.3,101.2 280.1,101.8 280.8,102.5 281.6,103.3 282.3,104.2 283.1,105.2 283.8,106.2 284.6,107.3 285.3,108.4 286.1,109.5 286.8,110.6 287.6,111.8 288.3,112.9 289.1,114 289.8,115.1 290.6,116.1 291.3,117.1 292.1,118 292.8,118.9 293.6,119.7 294.3,120.5 295.1,121.2 295.8,121.8 296.6,122.4 297.3,122.9 298.1,123.4 298.8,123.8 299.6,124.2 300.3,124.6 301.1,124.9 301.8,125.1 302.6,125.3 303.3,125.5 304.1,125.7 304.8,125.8 305.6,125.9 306.3,126 307.1,126.1" fill="none" stroke="#4848ff" stroke-width="0.6"/>
<path d="M192.3,125 193.1,120 193.8,123.1 194.6,123.1 195.3,119.9 196.1,124.8 196.8,126.6 197.6,126.5 198.3,126.1 199.1,126.1 199.8,125.6 200.6,125.1 201.3,125.9 202.1,125.8 202.8,125.5 203.6,125.8 204.3,126.1 205.1,126.2 205.8,125.8 206.6,125.3 207.3,124.9 208.1,123.2 208.8,124.2 209.6,124.4 210.3,118.6 211.1,120.9 211.8,119.9 212.6,120.7 213.3,122.7 214.1,123.5 214.8,125.8 215.6,126 216.3,122 217.1,117.8 217.8,119 218.6,121.2 219.3,124.1 220.1,123.5 220.8,122.7 221.6,125.2 222.3,125.6 223.1,123.8 223.8,123.6 224.6,125.5 225.3,125.6 226.1,125.7 226.8,126 227.6,125.9 228.3,125.9 229.1,125.6 229.8,122.8 230.6,123.1 231.3,124.4 232.1,124.9 232.8,125.5 233.6,124.7 234.3,124.5 235.1,125.9 235.8,125.5 236.6,123.7 237.3,124.6 238.1,124.2 238.8,124.3 239.6,125.3 240.3,123 241.1,119.4 241.8,123.8 242.6,125.9 243.3,125.8 244.1,125.5 244.8,125.6 245.6,125.9 246.3,122.9 247.1,121.1 247.8,125 248.6,123.2 249.3,121.6 250.1,120.8 250.8,121.8 251.6,119.5 252.3,121.7 253.1,122.8 253.8,122.4 254.6,121.5 255.3,121.2 256.1,120.7 256.8,119.5 257.6,116.5 258.3,114.1 259.1,115.9 259.8,115.5 260.6,114.6 261.3,112.3 262.1,111.3 262.8,111.5 263.6,108.1 264.3,108.5 265.1,107.9 265.8,106.9 266.6,107 267.3,103.6 268.1,99.5 268.8,102.7 269.6,103.6 270.3,103.2 271.1,102.4 271.8,100.7 272.6,98.9 273.3,94.9 274.1,89.4 274.8,92.4 275.6,93.3 276.3,91.7 277.1,89.7 277.8,86.5 278.6,81.8 279.3,82.5 280.1,81.7 280.8,79.6 281.6,76.1 282.3,68.4 283.1,66.5 283.8,63 284.6,56 285.3,55.7 286.1,52.4 286.8,48 287.6,44.4 288.3,38.7 289.1,33.4 289.8,30.1 290.6,28.9 291.3,23.9 292.1,27.7 292.8,31 293.6,33.9 294.3,37.5 295.1,41.1 295.8,44 296.6,47.2 297.3,50.8 298.1,54.5 298.8,58.8 299.6,64.1 300.3,69.5 301.1,77.9 301.8,85.9 302.6,93 303.3,99.3 304.1,103.8 304.8,107.4 305.6,110.4 306.3,113.2 307.1,115.8 307.8,117.6 308.6,119 309.3,119.6 310.1,119.3 310.8,121.7 311.6,122.8 312.3,123.2 313.1,123.6 313.8,124.1 314.6,124.4 315.3,124.7 316.1,125 316.8,124.9 317.6,124.9 318.3,125.2 319.1,125.3 319.8,125.3 320.6,125.6 321.3,125.9 322.1,124.1 322.8,122 323.6,124.4 324.3,124.5 325.1,124.7 325.8,125.1 326.6,125.2 327.3,124.9 328.1,124.5 328.8,124.5 329.6,124.7 330.3,124.6 331.1,124.3 331.8,124.2 332.6,124.6 333.3,125 334.1,125.2 334.8,124.4 335.6,122.1 336.3,124.3 337.1,124.7 337.8,124.7 338.6,124.9 339.3,125.2 340.1,125.3 340.8,125.4 341.6,125.2 342.3,125.1 343.1,125.5 343.8,125.9 344.6,125 345.3,124.7 346.1,126 346.8,125.8 347.6,125.3 348.3,125.2 349.1,125.4 349.8,125.3 350.6,125.4 351.3,125.8 352.1,125.9 352.8,125.7 353.6,125.9 354.3,126.1 355.1,125.9 355.8,125.5 356.6,125.4" fill="none" stroke="#111" stroke-width="0.8" stroke-linejoin="round"/>
<path d="M192.3,126.3 193.1,126.3 193.8,126.3 194.6,126.3 195.3,126.2 196.1,126.2 196.8,126.2 197.6,126.2 198.3,126.2 199.1,126.2 199.8,126.2 200.6,126.2 201.3,126.2 202.1,126.2 202.8,126.2 203.6,126.2 204.3,126.2 205.1,126.2 205.8,126.2 206.6,126.2 207.3,126.2 208.1,126.2 208.8,126.2 209.6,126.2 210.3,126.1 211.1,126.1 211.8,126.1 212.6,126.1 213.3,126.1 214.1,126.1 214.8,126.1 215.6,126.1 216.3,126.1 217.1,126.1 217.8,126.1 218.6,126.1 219.3,126.1 220.1,126 220.8,126 221.6,126 222.3,126 223.1,126 223.8,126 224.6,126 225.3,126 226.1,126 226.8,125.9 227.6,125.9 228.3,125.9 229.1,125.9 229.8,125.9 230.6,125.9 231.3,125.9 232.1,125.8 232.8,125.8 233.6,125.8 234.3,125.8 235.1,125.8 235.8,125.7 236.6,125.7 237.3,125.7 238.1,125.7 238.8,125.6 239.6,125.6 240.3,125.6 241.1,125.8 241.8,125.9 242.6,126 243.3,126 244.1,126 244.8,126 245.6,126 246.3,125.9 247.1,125.8 247.8,125.6 248.6,125.5 249.3,125.2 250.1,125 250.8,124.6 251.6,124.2 252.3,123.7 253.1,123 253.8,122.4 254.6,121.7 255.3,121 256.1,120.3 256.8,119.5 257.6,118.6 258.3,117.8 259.1,116.8 259.8,115.8 260.6,114.8 261.3,113.7 262.1,112.8 262.8,111.9 263.6,111 264.3,110.2 265.1,109.3 265.8,108.4 266.6,107.4 267.3,106.5 268.1,105.6 268.8,104.7 269.6,103.8 270.3,102.8 271.1,101.7 271.8,100.5 272.6,99.2 273.3,97.8 274.1,96.4 274.8,94.9 275.6,93.4 276.3,91.9 277.1,90.2 277.8,88.3 278.6,86.1 279.3,83.8 280.1,81.7 280.8,79.6 281.6,77.1 282.3,73.8 283.1,69.9 283.8,65.6 284.6,61.3 285.3,57.4 286.1,53.7 286.8,49.5 287.6,44 288.3,38.5 289.1,34.4 289.8,31.4 290.6,29.6 291.3,28.9 292.1,29.5 292.8,31.2 293.6,33.8 294.3,37 295.1,40.5 295.8,43.8 296.6,47.2 297.3,51 298.1,54.7 298.8,58.8 299.6,64.2 300.3,71.7 301.1,79 301.8,85.9 302.6,93 303.3,99.5 304.1,104 304.8,107.6 305.6,110.7 306.3,113.4 307.1,115.7 307.8,117.5 308.6,119 309.3,120.1 310.1,121 310.8,121.7 311.6,122.3 312.3,122.8 313.1,123.3 313.8,123.7 314.6,124.1 315.3,124.3 316.1,124.6 316.8,124.8 317.6,124.9 318.3,125 319.1,125.1 319.8,125.2 320.6,125.2 321.3,125.2 322.1,125.2 322.8,125.2 323.6,125.2 324.3,125.1 325.1,125.1 325.8,125 326.6,125 327.3,124.9 328.1,124.8 328.8,124.7 329.6,124.7 330.3,124.6 331.1,124.7 331.8,124.8 332.6,124.8 333.3,124.9 334.1,124.9 334.8,125 335.6,125 336.3,125.1 337.1,125.1 337.8,125.2 338.6,125.2 339.3,125.2 340.1,125.3 340.8,125.3 341.6,125.4 342.3,125.4 343.1,125.4 343.8,125.4 344.6,125.5 345.3,125.5 346.1,125.5 346.8,125.6 347.6,125.6 348.3,125.6 349.1,125.6 349.8,125.6 350.6,125.7 351.3,125.7 352.1,125.7 352.8,125.7 353.6,125.7 354.3,125.8 355.1,125.8 355.8,125.8 356.6,125.8" fill="none" stroke="#0a8a10" stroke-width="1.5" stroke-linejoin="round"/>
</g>
<rect x="192.3" y="7" width="164.4" height="120" fill="none" stroke="#2a2a2a" stroke-width="1.4"/>
<line x1="192.3" y1="127" x2="192.3" y2="129.6" stroke="#2a2a2a" stroke-width="1"/>
<text x="192.3" y="135.5" font-size="5.4" font-family="'Liberation Serif', 'Times New Roman', serif" font-weight="bold" text-anchor="middle" fill="#333" textLength="6.6" lengthAdjust="spacingAndGlyphs">540</text>
<line x1="204.9" y1="127" x2="204.9" y2="128.6" stroke="#2a2a2a" stroke-width="1"/>
<line x1="217.6" y1="127" x2="217.6" y2="129.6" stroke="#2a2a2a" stroke-width="1"/>
<text x="217.6" y="135.5" font-size="5.4" font-family="'Liberation Serif', 'Times New Roman', serif" font-weight="bold" text-anchor="middle" fill="#333" textLength="6.6" lengthAdjust="spacingAndGlyphs">538</text>
<line x1="230.2" y1="127" x2="230.2" y2="128.6" stroke="#2a2a2a" stroke-width="1"/>
<line x1="242.9" y1="127" x2="242.9" y2="129.6" stroke="#2a2a2a" stroke-width="1"/>
<text x="242.9" y="135.5" font-size="5.4" font-family="'Liberation Serif', 'Times New Roman', serif" font-weight="bold" text-anchor="middle" fill="#333" textLength="6.6" lengthAdjust="spacingAndGlyphs">536</text>
<line x1="255.5" y1="127" x2="255.5" y2="128.6" stroke="#2a2a2a" stroke-width="1"/>
<line x1="268.2" y1="127" x2="268.2" y2="129.6" stroke="#2a2a2a" stroke-width="1"/>
<text x="268.2" y="135.5" font-size="5.4" font-family="'Liberation Serif', 'Times New Roman', serif" font-weight="bold" text-anchor="middle" fill="#333" textLength="6.6" lengthAdjust="spacingAndGlyphs">534</text>
<line x1="280.8" y1="127" x2="280.8" y2="128.6" stroke="#2a2a2a" stroke-width="1"/>
<line x1="293.5" y1="127" x2="293.5" y2="129.6" stroke="#2a2a2a" stroke-width="1"/>
<text x="293.5" y="135.5" font-size="5.4" font-family="'Liberation Serif', 'Times New Roman', serif" font-weight="bold" text-anchor="middle" fill="#333" textLength="6.6" lengthAdjust="spacingAndGlyphs">532</text>
<line x1="306.1" y1="127" x2="306.1" y2="128.6" stroke="#2a2a2a" stroke-width="1"/>
<line x1="318.8" y1="127" x2="318.8" y2="129.6" stroke="#2a2a2a" stroke-width="1"/>
<text x="318.8" y="135.5" font-size="5.4" font-family="'Liberation Serif', 'Times New Roman', serif" font-weight="bold" text-anchor="middle" fill="#333" textLength="6.6" lengthAdjust="spacingAndGlyphs">530</text>
<line x1="331.4" y1="127" x2="331.4" y2="128.6" stroke="#2a2a2a" stroke-width="1"/>
<line x1="344.1" y1="127" x2="344.1" y2="129.6" stroke="#2a2a2a" stroke-width="1"/>
<text x="344.1" y="135.5" font-size="5.4" font-family="'Liberation Serif', 'Times New Roman', serif" font-weight="bold" text-anchor="middle" fill="#333" textLength="6.6" lengthAdjust="spacingAndGlyphs">528</text>
<line x1="356.7" y1="127" x2="356.7" y2="128.6" stroke="#2a2a2a" stroke-width="1"/>
<text x="274.5" y="144.5" font-size="5.9" font-family="'Liberation Serif', 'Times New Roman', serif" font-weight="bold" text-anchor="middle" fill="#333" stroke="#333" stroke-width="0.15" letter-spacing="0.06">Binding Energy (<tspan font-style="italic">eV</tspan>)</text>
<text transform="translate(189.1,67.4) rotate(-90)" font-size="6.1" font-family="'Liberation Serif', 'Times New Roman', serif" font-weight="bold" text-anchor="middle" fill="#333">Counts/s</text>
<text x="194.1" y="15.3" font-size="7.5" font-family="'Liberation Sans', Arial, sans-serif" font-weight="normal" text-anchor="start" fill="#333" stroke="#333" stroke-width="0.15">(b)</text>
<text x="354.8" y="15.1" font-size="7.2" font-family="'Liberation Sans', Arial, sans-serif" font-weight="normal" text-anchor="end" fill="#333" stroke="#333" stroke-width="0.18">O 1s</text>
<text x="298.9" y="47.6" font-size="6.2" font-family="'Liberation Sans', Arial, sans-serif" font-weight="normal" text-anchor="start" fill="#383838" stroke="#383838" stroke-width="0.25" letter-spacing="0.15"><tspan>F-C-O</tspan></text>
<text x="264.9" y="119.6" font-size="6.2" font-family="'Liberation Sans', Arial, sans-serif" font-weight="normal" text-anchor="start" fill="#383838" stroke="#383838" stroke-width="0.25" letter-spacing="0.15"><tspan>F</tspan><tspan dy="1.5" font-size="6.2">3</tspan><tspan dy="-1.5">-C-O</tspan></text>
<g clip-path="url(#c8)">
<path d="M371.2,126.9 L371.2,126.4 371.9,126.4 372.7,126.4 373.4,126.4 374.2,126.4 374.9,126.4 375.7,126.4 376.4,126.4 377.2,126.4 377.9,126.3 378.7,126.3 379.4,126.3 380.2,126.3 380.9,126.3 381.7,126.3 382.4,126.3 383.2,126.2 383.9,126.2 384.7,126.2 385.4,126.2 386.2,126.2 386.9,126.2 387.7,126.1 388.4,126.1 389.2,126.1 389.9,126.1 390.7,126 391.4,126 392.2,126 392.9,126 393.7,125.9 394.4,125.9 395.2,125.9 395.9,125.9 396.7,125.8 397.4,125.8 398.2,125.8 398.9,125.7 399.7,125.7 400.4,125.6 401.2,125.6 401.9,125.5 402.7,125.5 403.4,125.4 404.2,125.4 404.9,125.3 405.7,125.3 406.4,125.2 407.2,125.1 407.9,125.1 408.7,125 409.4,124.9 410.2,124.8 410.9,124.7 411.7,124.6 412.4,124.5 413.2,124.4 413.9,124.3 414.7,124.1 415.4,124 416.2,123.8 416.9,123.5 417.7,123.3 418.4,123 419.2,122.7 419.9,122.3 420.7,121.8 421.4,121.3 422.2,120.6 422.9,119.9 423.7,119 424.4,118 425.2,116.8 425.9,115.4 426.7,113.8 427.4,111.9 428.2,109.9 428.9,107.5 429.7,104.9 430.4,102 431.2,98.8 431.9,95.3 432.7,91.6 433.4,87.6 434.2,83.5 434.9,79.1 435.7,74.7 436.4,70.2 437.2,65.7 437.9,61.4 438.7,57.3 439.4,53.5 440.2,50.2 440.9,47.4 441.7,45.3 442.4,43.9 443.2,43.4 443.9,43.7 444.7,44.7 445.4,46.5 446.2,48.9 446.9,51.9 447.7,55.3 448.4,59.1 449.2,63.2 449.9,67.4 450.7,71.7 451.4,76 452.2,80.2 452.9,84.3 453.7,88.3 454.4,92.1 455.2,95.6 455.9,98.9 456.7,102 457.4,104.8 458.2,107.3 458.9,109.6 459.7,111.6 460.4,113.4 461.2,115 461.9,116.4 462.7,117.6 463.4,118.6 464.2,119.5 464.9,120.3 465.7,121 466.4,121.5 467.2,122 467.9,122.4 468.7,122.8 469.4,123.1 470.2,123.4 470.9,123.6 471.7,123.8 472.4,124 473.2,124.1 473.9,124.3 474.7,124.4 475.4,124.5 476.2,124.6 476.9,124.7 477.7,124.8 478.4,124.9 479.2,125 479.9,125.1 480.7,125.1 481.4,125.2 482.2,125.3 482.9,125.3 483.7,125.4 484.4,125.4 485.2,125.5 485.9,125.5 486.7,125.6 487.4,125.6 488.2,125.6 488.9,125.7 489.7,125.7 490.4,125.8 491.2,125.8 491.9,125.8 492.7,125.9 493.4,125.9 494.2,125.9 494.9,125.9 495.7,126 496.4,126 497.2,126 497.9,126 498.7,126.1 499.4,126.1 500.2,126.1 500.9,126.1 501.7,126.1 502.4,126.2 503.2,126.2 503.9,126.2 504.7,126.2 505.4,126.2 506.2,126.2 506.9,126.3 507.7,126.3 508.4,126.3 509.2,126.3 509.9,126.3 510.7,126.3 511.4,126.3 512.2,126.4 513,126.4 513.7,126.4 514.5,126.4 515.2,126.4 516,126.4 516.7,126.4 517.5,126.4 518.2,126.4 519,126.4 519.7,126.5 520.5,126.5 521.2,126.5 522,126.5 522.7,126.5 523.5,126.5 524.2,126.5 525,126.5 525.7,126.5 526.5,126.5 527.2,126.5 528,126.5 528.7,126.5 529.5,126.5 530.2,126.6 531,126.6 531.7,126.6 532.5,126.6 533.2,126.6 534,126.6 534.7,126.6 535.5,126.6 L535.5,126.9 Z" fill="url(#g7)"/>
<path d="M424.4,126.9 L424.4,126.8 425.2,126.8 425.9,126.8 426.7,126.8 427.4,126.8 428.2,126.8 428.9,126.8 429.7,126.8 430.4,126.8 431.2,126.7 431.9,126.7 432.7,126.6 433.4,126.5 434.2,126.3 434.9,126.1 435.7,125.8 436.4,125.3 437.2,124.7 437.9,123.9 438.7,122.9 439.4,121.7 440.2,120.3 440.9,118.7 441.7,117 442.4,115.2 443.2,113.4 443.9,111.7 444.7,110.2 445.4,109 446.2,108.3 446.9,108 447.7,108.2 448.4,108.9 449.2,110 449.9,111.5 450.7,113.1 451.4,114.9 452.2,116.7 452.9,118.5 453.7,120.1 454.4,121.5 455.2,122.8 455.9,123.8 456.7,124.6 457.4,125.2 458.2,125.7 458.9,126.1 459.7,126.3 460.4,126.5 461.2,126.6 461.9,126.7 462.7,126.7 463.4,126.8 464.2,126.8 464.9,126.8 465.7,126.8 466.4,126.8 467.2,126.8 467.9,126.8 468.7,126.8 469.4,126.8 470.2,126.8 L470.2,126.9 Z" fill="url(#g8)"/>
<path d="M433.4,126.5 434.2,126.3 434.9,126.1 435.7,125.8 436.4,125.3 437.2,124.7 437.9,123.9 438.7,122.9 439.4,121.7 440.2,120.3 440.9,118.7 441.7,117 442.4,115.2 443.2,113.4 443.9,111.7 444.7,110.2 445.4,109 446.2,108.3 446.9,108 447.7,108.2 448.4,108.9 449.2,110 449.9,111.5 450.7,113.1 451.4,114.9 452.2,116.7 452.9,118.5 453.7,120.1 454.4,121.5 455.2,122.8 455.9,123.8 456.7,124.6 457.4,125.2 458.2,125.7 458.9,126.1 459.7,126.3 460.4,126.5 461.2,126.6" fill="none" stroke="#2040ff" stroke-width="0.6"/>
<path d="M389.9,126.9 L389.9,126.8 390.7,126.8 391.4,126.8 392.2,126.8 392.9,126.8 393.7,126.8 394.4,126.8 395.2,126.8 395.9,126.8 396.7,126.8 397.4,126.8 398.2,126.8 398.9,126.8 399.7,126.7 400.4,126.7 401.2,126.7 401.9,126.7 402.7,126.6 403.4,126.6 404.2,126.6 404.9,126.5 405.7,126.5 406.4,126.5 407.2,126.4 407.9,126.4 408.7,126.3 409.4,126.2 410.2,126.2 410.9,126.1 411.7,126 412.4,125.9 413.2,125.8 413.9,125.7 414.7,125.6 415.4,125.4 416.2,125.3 416.9,125.2 417.7,125 418.4,124.9 419.2,124.7 419.9,124.5 420.7,124.4 421.4,124.2 422.2,124 422.9,123.8 423.7,123.6 424.4,123.4 425.2,123.1 425.9,122.9 426.7,122.7 427.4,122.5 428.2,122.3 428.9,122 429.7,121.8 430.4,121.6 431.2,121.4 431.9,121.2 432.7,121 433.4,120.8 434.2,120.6 434.9,120.4 435.7,120.2 436.4,120.1 437.2,120 437.9,119.8 438.7,119.7 439.4,119.7 440.2,119.6 440.9,119.5 441.7,119.5 442.4,119.5 443.2,119.5 443.9,119.5 444.7,119.6 445.4,119.6 446.2,119.7 446.9,119.8 447.7,119.9 448.4,120.1 449.2,120.2 449.9,120.4 450.7,120.6 451.4,120.7 452.2,120.9 452.9,121.1 453.7,121.3 454.4,121.6 455.2,121.8 455.9,122 456.7,122.2 457.4,122.4 458.2,122.7 458.9,122.9 459.7,123.1 460.4,123.3 461.2,123.5 461.9,123.7 462.7,123.9 463.4,124.1 464.2,124.3 464.9,124.5 465.7,124.7 466.4,124.9 467.2,125 467.9,125.2 468.7,125.3 469.4,125.4 470.2,125.6 470.9,125.7 471.7,125.8 472.4,125.9 473.2,126 473.9,126.1 474.7,126.1 475.4,126.2 476.2,126.3 476.9,126.3 477.7,126.4 478.4,126.5 479.2,126.5 479.9,126.5 480.7,126.6 481.4,126.6 482.2,126.6 482.9,126.7 483.7,126.7 484.4,126.7 485.2,126.7 485.9,126.8 486.7,126.8 487.4,126.8 488.2,126.8 488.9,126.8 489.7,126.8 490.4,126.8 491.2,126.8 491.9,126.8 492.7,126.8 493.4,126.8 494.2,126.8 494.9,126.8 L494.9,126.9 Z" fill="url(#g9)"/>
<path d="M404.2,126.6 404.9,126.5 405.7,126.5 406.4,126.5 407.2,126.4 407.9,126.4 408.7,126.3 409.4,126.2 410.2,126.2 410.9,126.1 411.7,126 412.4,125.9 413.2,125.8 413.9,125.7 414.7,125.6 415.4,125.4 416.2,125.3 416.9,125.2 417.7,125 418.4,124.9 419.2,124.7 419.9,124.5 420.7,124.4 421.4,124.2 422.2,124 422.9,123.8 423.7,123.6 424.4,123.4 425.2,123.1 425.9,122.9 426.7,122.7 427.4,122.5 428.2,122.3 428.9,122 429.7,121.8 430.4,121.6 431.2,121.4 431.9,121.2 432.7,121 433.4,120.8 434.2,120.6 434.9,120.4 435.7,120.2 436.4,120.1 437.2,120 437.9,119.8 438.7,119.7 439.4,119.7 440.2,119.6 440.9,119.5 441.7,119.5 442.4,119.5 443.2,119.5 443.9,119.5 444.7,119.6 445.4,119.6 446.2,119.7 446.9,119.8 447.7,119.9 448.4,120.1 449.2,120.2 449.9,120.4 450.7,120.6 451.4,120.7 452.2,120.9 452.9,121.1 453.7,121.3 454.4,121.6 455.2,121.8 455.9,122 456.7,122.2 457.4,122.4 458.2,122.7 458.9,122.9 459.7,123.1 460.4,123.3 461.2,123.5 461.9,123.7 462.7,123.9 463.4,124.1 464.2,124.3 464.9,124.5 465.7,124.7 466.4,124.9 467.2,125 467.9,125.2 468.7,125.3 469.4,125.4 470.2,125.6 470.9,125.7 471.7,125.8 472.4,125.9 473.2,126 473.9,126.1 474.7,126.1 475.4,126.2 476.2,126.3 476.9,126.3 477.7,126.4 478.4,126.5 479.2,126.5 479.9,126.5 480.7,126.6" fill="none" stroke="#1a5a20" stroke-width="0.5"/>
<path d="M371.2,126.4 371.9,126.4 372.7,126.4 373.4,126.4 374.2,126.4 374.9,126.4 375.7,126.4 376.4,126.4 377.2,126.4 377.9,126.4 378.7,126.3 379.4,126.3 380.2,126.3 380.9,126.3 381.7,126.3 382.4,126.3 383.2,126.3 383.9,126.2 384.7,126.2 385.4,126.2 386.2,126.2 386.9,126.2 387.7,126.2 388.4,126.1 389.2,126.1 389.9,126.1 390.7,126.1 391.4,126.1 392.2,126 392.9,126 393.7,126 394.4,126 395.2,125.9 395.9,125.9 396.7,125.9 397.4,125.8 398.2,125.8 398.9,125.8 399.7,125.7 400.4,125.7 401.2,125.7 401.9,125.6 402.7,125.6 403.4,125.5 404.2,125.5 404.9,125.4 405.7,125.4 406.4,125.3 407.2,125.2 407.9,125.2 408.7,125.1 409.4,125 410.2,124.9 410.9,124.8 411.7,124.7 412.4,124.5 413.2,124.4 413.9,124.2 414.7,123.9 415.4,123.7 416.2,123.4 416.9,123 417.7,122.6 418.4,122.1 419.2,121.5 419.9,120.8 420.7,120 421.4,119.1 422.2,118 422.9,116.7 423.7,115.3 424.4,113.7 425.2,111.8 425.9,109.7 426.7,107.3 427.4,104.7 428.2,101.8 428.9,98.6 429.7,95.2 430.4,91.4 431.2,87.4 431.9,83.1 432.7,78.6 433.4,73.9 434.2,69 434.9,64 435.7,59 436.4,53.9 437.2,48.9 437.9,44 438.7,39.4 439.4,35 440.2,31 440.9,27.5 441.7,24.4 442.4,22 443.2,20.3 443.9,19.3 444.7,19 445.4,19.7 446.2,21.4 446.9,24.1 447.7,27.7 448.4,32 449.2,37 449.9,42.4 450.7,48.2 451.4,54.2 452.2,60.3 452.9,66.3 453.7,72.2 454.4,77.9 455.2,83.3 455.9,88.3 456.7,93 457.4,97.3 458.2,101.2 458.9,104.7 459.7,107.8 460.4,110.6 461.2,112.9 461.9,115 462.7,116.7 463.4,118.2 464.2,119.4 464.9,120.5 465.7,121.3 466.4,122.1 467.2,122.7 467.9,123.1 468.7,123.5 469.4,123.9 470.2,124.1 470.9,124.4 471.7,124.6 472.4,124.7 473.2,124.9 473.9,125 474.7,125.1 475.4,125.2 476.2,125.3 476.9,125.3 477.7,125.4 478.4,125.5 479.2,125.5 479.9,125.6 480.7,125.6 481.4,125.7 482.2,125.7 482.9,125.8 483.7,125.8 484.4,125.9 485.2,125.9 485.9,125.9 486.7,126 487.4,126 488.2,126 488.9,126.1 489.7,126.1 490.4,126.1 491.2,126.1 491.9,126.2 492.7,126.2 493.4,126.2 494.2,126.2 494.9,126.2 495.7,126.3 496.4,126.3 497.2,126.3 497.9,126.3 498.7,126.3 499.4,126.3 500.2,126.4 500.9,126.4 501.7,126.4 502.4,126.4 503.2,126.4 503.9,126.4 504.7,126.4 505.4,126.4 506.2,126.5 506.9,126.5 507.7,126.5 508.4,126.5 509.2,126.5 509.9,126.5 510.7,126.5 511.4,126.5 512.2,126.5 513,126.5 513.7,126.5 514.5,126.6 515.2,126.6 516,126.6 516.7,126.6 517.5,126.6 518.2,126.6 519,126.6 519.7,126.6 520.5,126.6 521.2,126.6 522,126.6 522.7,126.6 523.5,126.6 524.2,126.6 525,126.6 525.7,126.6 526.5,126.6 527.2,126.6 528,126.7 528.7,126.7 529.5,126.7 530.2,126.7 531,126.7 531.7,126.7 532.5,126.7 533.2,126.7 534,126.7 534.7,126.7 535.5,126.7" fill="none" stroke="#1a1a8c" stroke-width="1.6" stroke-linejoin="round"/>
</g>
<rect x="371.2" y="7" width="164.5" height="120" fill="none" stroke="#2a2a2a" stroke-width="1.4"/>
<line x1="371.2" y1="127" x2="371.2" y2="129.6" stroke="#2a2a2a" stroke-width="1"/>
<text x="371.2" y="135.5" font-size="5.4" font-family="'Liberation Serif', 'Times New Roman', serif" font-weight="bold" text-anchor="middle" fill="#333" textLength="6.6" lengthAdjust="spacingAndGlyphs">696</text>
<line x1="382.2" y1="127" x2="382.2" y2="128.6" stroke="#2a2a2a" stroke-width="1"/>
<line x1="393.1" y1="127" x2="393.1" y2="129.6" stroke="#2a2a2a" stroke-width="1"/>
<text x="393.1" y="135.5" font-size="5.4" font-family="'Liberation Serif', 'Times New Roman', serif" font-weight="bold" text-anchor="middle" fill="#333" textLength="6.6" lengthAdjust="spacingAndGlyphs">694</text>
<line x1="404.1" y1="127" x2="404.1" y2="128.6" stroke="#2a2a2a" stroke-width="1"/>
<line x1="415.1" y1="127" x2="415.1" y2="129.6" stroke="#2a2a2a" stroke-width="1"/>
<text x="415.1" y="135.5" font-size="5.4" font-family="'Liberation Serif', 'Times New Roman', serif" font-weight="bold" text-anchor="middle" fill="#333" textLength="6.6" lengthAdjust="spacingAndGlyphs">692</text>
<line x1="426" y1="127" x2="426" y2="128.6" stroke="#2a2a2a" stroke-width="1"/>
<line x1="437" y1="127" x2="437" y2="129.6" stroke="#2a2a2a" stroke-width="1"/>
<text x="437" y="135.5" font-size="5.4" font-family="'Liberation Serif', 'Times New Roman', serif" font-weight="bold" text-anchor="middle" fill="#333" textLength="6.6" lengthAdjust="spacingAndGlyphs">690</text>
<line x1="448" y1="127" x2="448" y2="128.6" stroke="#2a2a2a" stroke-width="1"/>
<line x1="458.9" y1="127" x2="458.9" y2="129.6" stroke="#2a2a2a" stroke-width="1"/>
<text x="458.9" y="135.5" font-size="5.4" font-family="'Liberation Serif', 'Times New Roman', serif" font-weight="bold" text-anchor="middle" fill="#333" textLength="6.6" lengthAdjust="spacingAndGlyphs">688</text>
<line x1="469.9" y1="127" x2="469.9" y2="128.6" stroke="#2a2a2a" stroke-width="1"/>
<line x1="480.9" y1="127" x2="480.9" y2="129.6" stroke="#2a2a2a" stroke-width="1"/>
<text x="480.9" y="135.5" font-size="5.4" font-family="'Liberation Serif', 'Times New Roman', serif" font-weight="bold" text-anchor="middle" fill="#333" textLength="6.6" lengthAdjust="spacingAndGlyphs">686</text>
<line x1="491.8" y1="127" x2="491.8" y2="128.6" stroke="#2a2a2a" stroke-width="1"/>
<line x1="502.8" y1="127" x2="502.8" y2="129.6" stroke="#2a2a2a" stroke-width="1"/>
<text x="502.8" y="135.5" font-size="5.4" font-family="'Liberation Serif', 'Times New Roman', serif" font-weight="bold" text-anchor="middle" fill="#333" textLength="6.6" lengthAdjust="spacingAndGlyphs">684</text>
<line x1="513.8" y1="127" x2="513.8" y2="128.6" stroke="#2a2a2a" stroke-width="1"/>
<line x1="524.7" y1="127" x2="524.7" y2="129.6" stroke="#2a2a2a" stroke-width="1"/>
<text x="524.7" y="135.5" font-size="5.4" font-family="'Liberation Serif', 'Times New Roman', serif" font-weight="bold" text-anchor="middle" fill="#333" textLength="6.6" lengthAdjust="spacingAndGlyphs">682</text>
<line x1="535.7" y1="127" x2="535.7" y2="128.6" stroke="#2a2a2a" stroke-width="1"/>
<text x="453.5" y="144.5" font-size="5.9" font-family="'Liberation Serif', 'Times New Roman', serif" font-weight="bold" text-anchor="middle" fill="#333" stroke="#333" stroke-width="0.15" letter-spacing="0.06">Binding Energy (<tspan font-style="italic">eV</tspan>)</text>
<text transform="translate(366.6,70.5) rotate(-90)" font-size="6.1" font-family="'Liberation Serif', 'Times New Roman', serif" font-weight="bold" text-anchor="middle" fill="#333">Counts/s</text>
<text x="374.3" y="15.3" font-size="7.5" font-family="'Liberation Sans', Arial, sans-serif" font-weight="normal" text-anchor="start" fill="#333" stroke="#333" stroke-width="0.15">(c)</text>
<text x="533.8" y="15.3" font-size="7.2" font-family="'Liberation Sans', Arial, sans-serif" font-weight="normal" text-anchor="end" fill="#333" stroke="#333" stroke-width="0.18">F 1s</text>
<text x="435" y="80.5" font-size="6.2" font-family="'Liberation Sans', Arial, sans-serif" font-weight="normal" text-anchor="start" fill="#383838" stroke="#383838" stroke-width="0.25" letter-spacing="0.15"><tspan>F</tspan><tspan dy="1.5" font-size="6.2">2</tspan><tspan dy="-1.5">-C</tspan></text>
<text x="462.9" y="105.2" font-size="6.2" font-family="'Liberation Sans', Arial, sans-serif" font-weight="normal" text-anchor="start" fill="#383838" stroke="#383838" stroke-width="0.25" letter-spacing="0.15"><tspan>F-C</tspan></text>
<text x="402.4" y="106.8" font-size="6.2" font-family="'Liberation Sans', Arial, sans-serif" font-weight="normal" text-anchor="start" fill="#383838" stroke="#383838" stroke-width="0.25" letter-spacing="0.15"><tspan>F</tspan><tspan dy="1.5" font-size="6.2">3</tspan><tspan dy="-1.5">-C</tspan></text>
<line x1="462" y1="104.4" x2="449.8" y2="114.2" stroke="#333" stroke-width="0.5"/>
<line x1="416.3" y1="108.5" x2="433.5" y2="122.4" stroke="#333" stroke-width="0.5"/>
<path d="M416.3,108.5 L418.8,109.1 L417.4,110.8 Z" fill="#222"/>
<g clip-path="url(#c12)">
<path d="M15,273.9 15.8,273.9 16.5,273.7 17.2,273.9 18,274.1 18.8,274 19.5,273.9 20.2,273.8 21,273.7 21.8,273.5 22.5,273.6 23.2,273.6 24,273.4 24.8,273.5 25.5,273.4 26.2,273.3 27,273.4 27.8,273.5 28.5,273.5 29.2,273.5 30,273.1 30.8,272.7 31.5,272.8 32.2,272.9 33,272.8 33.8,272.5 34.5,271.9 35.2,271.8 36,271.9 36.8,271.8 37.5,271.7 38.2,271.6 39,271.4 39.8,271 40.5,270.5 41.2,270 42,269.8 42.8,269.7 43.5,269.4 44.2,269 45,268.5 45.8,267.9 46.5,267.3 47.2,266.9 48,266.7 48.8,266.3 49.5,265.3 50.2,264.6 51,264.2 51.8,263.1 52.5,261.5 53.2,259.7 54,257.8 54.8,256.4 55.5,254.9 56.2,252.7 57,250.5 57.8,247.7 58.5,243.9 59.2,239.6 60,234.8 60.8,229.2 61.5,220.7 62.2,213 63,206.8 63.8,200.6 64.5,194.6 65.2,189 66,183.7 66.8,178.5 67.5,174.1 68.2,171.1 69,169.5 69.8,169.5 70.5,171.5 71.2,175.3 72,180.8 72.8,187.3 73.5,193.8 74.2,200.1 75,205.6 75.8,210.6 76.5,217.3 77.2,228.9 78,240.2 78.8,247.1 79.5,252.2 80.2,256.3 81,259.6 81.8,261.9 82.5,263 83.2,263.7 84,264.3 84.8,265 85.5,265.6 86.2,265.9 87,266 87.8,265.9 88.5,266.2 89.2,266.8 90,267.1 90.8,267.2 91.5,267.3 92.2,267.3 93,267.4 93.8,267.4 94.5,267.5 95.2,267.8 96,268.1 96.8,268.2 97.5,268.1 98.2,268.1 99,268 99.8,267.6 100.5,267.4 101.2,267.6 102,267.8 102.8,267.9 103.5,267.6 104.2,267.5 105,267.8 105.8,267.8 106.5,267.7 107.2,267.9 108,268.1 108.8,268.2 109.5,268.5 110.2,268.4 111,268.5 111.8,268.9 112.5,269.1 113.2,268.9 114,268.7 114.8,268.6 115.5,268.8 116.2,269.2 117,269.2 117.8,269 118.5,269 119.2,269.1 120,268.9 120.8,268.5 121.5,268.3 122.2,268.3 123,268.1 123.8,267.8 124.5,267.5 125.2,266.8 126,266 126.8,265.4 127.5,265.3 128.2,265 129,264.7 129.8,264.4 130.5,263.9 131.2,263.3 132,262.5 132.8,261.9 133.5,261.8 134.2,261.4 135,260.8 135.8,260.5 136.5,260.3 137.2,260.1 138,260.1 138.8,259.6 139.5,259.2 140.2,258.9 141,258.5 141.8,257.9 142.5,256.9 143.2,255.9 144,254.9 144.8,253.6 145.5,252.1 146.2,250.6 147,249.5 147.8,248.3 148.5,247.2 149.2,246.4 150,246.2 150.8,246.4 151.5,247.1 152.2,248 153,249.1 153.8,250.4 154.5,252 155.2,253.5 156,254.9 156.8,256.3 157.5,257.9 158.2,259.7 159,261.5 159.8,263.2 160.5,264.6 161.2,265.8 162,267.2 162.8,268.7 163.5,269.9 164.2,270.8 165,271.3 165.8,272 166.5,272.9 167.2,273.5 168,273.7 168.8,274 169.5,274.3 170.2,274.2 171,274.2 171.8,274.5 172.5,274.4 173.2,274.1 174,274.2 174.8,274.3 175.5,274.1 176.2,274.3 177,274.6 177.8,274.6 178.5,274.6 179.2,274.6" fill="none" stroke="#111" stroke-width="0.9" stroke-linejoin="round"/>
<path d="M15,274.2 15.8,274.2 16.5,274.1 17.2,274.1 18,274 18.8,274 19.5,273.9 20.2,273.9 21,273.8 21.8,273.8 22.5,273.7 23.2,273.7 24,273.6 24.8,273.6 25.5,273.5 26.2,273.4 27,273.4 27.8,273.3 28.5,273.2 29.2,273.1 30,273 30.8,272.9 31.5,272.8 32.2,272.7 33,272.5 33.8,272.4 34.5,272.2 35.2,272.1 36,271.9 36.8,271.7 37.5,271.5 38.2,271.3 39,271 39.8,270.8 40.5,270.5 41.2,270.2 42,269.9 42.8,269.5 43.5,269.2 44.2,268.8 45,268.4 45.8,268 46.5,267.5 47.2,267 48,266.5 48.8,266 49.5,265.4 50.2,264.8 51,264.1 51.8,263.1 52.5,261.6 53.2,259.8 54,258 54.8,256.4 55.5,254.8 56.2,252.9 57,250.6 57.8,247.7 58.5,243.8 59.2,239.5 60,234.8 60.8,229.2 61.5,220.6 62.2,213 63,207 63.8,200.7 64.5,194.6 65.2,189 66,183.7 66.8,178.4 67.5,173.9 68.2,170.8 69,169.3 69.8,169.6 70.5,171.7 71.2,175.5 72,180.9 72.8,187 73.5,193.3 74.2,199.9 75,205.6 75.8,210.5 76.5,217.3 77.2,228.9 78,239.9 78.8,246.7 79.5,252.3 80.2,256.7 81,259.8 81.8,261.8 82.5,263.1 83.2,263.9 84,264.5 84.8,264.9 85.5,265.5 86.2,265.9 87,266.2 87.8,266.4 88.5,266.6 89.2,266.8 90,267 90.8,267.1 91.5,267.3 92.2,267.4 93,267.5 93.8,267.6 94.5,267.7 95.2,267.8 96,267.8 96.8,267.8 97.5,267.7 98.2,267.7 99,267.6 99.8,267.5 100.5,267.5 101.2,267.5 102,267.4 102.8,267.5 103.5,267.5 104.2,267.5 105,267.6 105.8,267.7 106.5,267.8 107.2,267.9 108,268.1 108.8,268.2 109.5,268.4 110.2,268.6 111,268.7 111.8,268.8 112.5,268.9 113.2,268.9 114,269 114.8,269 115.5,269 116.2,269 117,269 117.8,269 118.5,269 119.2,268.9 120,268.8 120.8,268.7 121.5,268.5 122.2,268.2 123,268 123.8,267.6 124.5,267.3 125.2,266.9 126,266.5 126.8,266.1 127.5,265.7 128.2,265.2 129,264.8 129.8,264.3 130.5,263.8 131.2,263.3 132,262.9 132.8,262.4 133.5,261.9 134.2,261.5 135,261.1 135.8,260.7 136.5,260.4 137.2,260.1 138,259.9 138.8,259.6 139.5,259.4 140.2,259 141,258.5 141.8,257.8 142.5,257 143.2,256 144,254.9 144.8,253.6 145.5,252.3 146.2,251 147,249.8 147.8,248.6 148.5,247.6 149.2,246.8 150,246.3 150.8,246.4 151.5,247 152.2,248.1 153,249.3 153.8,250.6 154.5,252 155.2,253.4 156,254.9 156.8,256.4 157.5,257.9 158.2,259.6 159,261.3 159.8,263 160.5,264.6 161.2,266.1 162,267.4 162.8,268.6 163.5,269.7 164.2,270.6 165,271.5 165.8,272.2 166.5,272.8 167.2,273.2 168,273.5 168.8,273.8 169.5,273.9 170.2,274.1 171,274.2 171.8,274.3 172.5,274.4 173.2,274.4 174,274.5 174.8,274.5 175.5,274.5 176.2,274.5 177,274.6 177.8,274.6 178.5,274.6 179.2,274.6" fill="none" stroke="#9010f0" stroke-width="1.5" stroke-linejoin="round"/>
<path d="M15,275 L15,274.9 15.8,274.9 16.5,274.9 17.2,274.9 18,274.9 18.8,274.9 19.5,274.9 20.2,274.9 21,274.9 21.8,274.8 22.5,274.8 23.2,274.8 24,274.8 24.8,274.8 25.5,274.8 26.2,274.8 27,274.8 27.8,274.8 28.5,274.8 29.2,274.8 30,274.8 30.8,274.8 31.5,274.8 32.2,274.8 33,274.7 33.8,274.7 34.5,274.7 35.2,274.7 36,274.7 36.8,274.7 37.5,274.7 38.2,274.7 39,274.6 39.8,274.6 40.5,274.6 41.2,274.6 42,274.6 42.8,274.5 43.5,274.5 44.2,274.5 45,274.5 45.8,274.4 46.5,274.4 47.2,274.3 48,274.3 48.8,274.2 49.5,274.2 50.2,274.1 51,274 51.8,273.8 52.5,273.7 53.2,273.4 54,273 54.8,272.5 55.5,271.9 56.2,270.9 57,269.7 57.8,268 58.5,265.9 59.2,263.1 60,259.7 60.8,255.6 61.5,250.8 62.2,245.2 63,239 63.8,232.3 64.5,225.3 65.2,218.3 66,211.6 66.8,205.5 67.5,200.4 68.2,196.7 69,194.6 69.8,194.3 70.5,195.8 71.2,199 72,203.7 72.8,209.5 73.5,216 74.2,223 75,230 75.8,236.8 76.5,243.2 77.2,249 78,254.1 78.8,258.4 79.5,262.1 80.2,265 81,267.4 81.8,269.2 82.5,270.6 83.2,271.6 84,272.3 84.8,272.9 85.5,273.3 86.2,273.6 87,273.8 87.8,273.9 88.5,274.1 89.2,274.1 90,274.2 90.8,274.3 91.5,274.3 92.2,274.4 93,274.4 93.8,274.4 94.5,274.5 95.2,274.5 96,274.5 96.8,274.6 97.5,274.6 98.2,274.6 99,274.6 99.8,274.6 100.5,274.6 101.2,274.7 102,274.7 102.8,274.7 103.5,274.7 104.2,274.7 105,274.7 105.8,274.7 106.5,274.8 107.2,274.8 108,274.8 108.8,274.8 109.5,274.8 110.2,274.8 111,274.8 111.8,274.8 112.5,274.8 113.2,274.8 114,274.8 114.8,274.8 115.5,274.8 116.2,274.8 117,274.8 117.8,274.9 118.5,274.9 119.2,274.9 120,274.9 120.8,274.9 121.5,274.9 122.2,274.9 123,274.9 123.8,274.9 124.5,274.9 125.2,274.9 126,274.9 126.8,274.9 127.5,274.9 128.2,274.9 129,274.9 129.8,274.9 130.5,274.9 131.2,274.9 132,274.9 132.8,274.9 133.5,274.9 134.2,274.9 135,274.9 135.8,274.9 136.5,274.9 137.2,274.9 138,274.9 138.8,274.9 139.5,274.9 140.2,274.9 141,274.9 141.8,274.9 142.5,274.9 143.2,274.9 144,274.9 144.8,274.9 145.5,274.9 146.2,274.9 147,274.9 147.8,274.9 148.5,274.9 149.2,274.9 150,274.9 150.8,274.9 151.5,274.9 152.2,274.9 L152.2,275 Z" fill="url(#g10)"/>
<path d="M15,275 L15,274.3 15.8,274.3 16.5,274.3 17.2,274.3 18,274.2 18.8,274.2 19.5,274.2 20.2,274.2 21,274.1 21.8,274.1 22.5,274.1 23.2,274 24,274 24.8,273.9 25.5,273.9 26.2,273.8 27,273.7 27.8,273.7 28.5,273.6 29.2,273.5 30,273.4 30.8,273.3 31.5,273.2 32.2,273 33,272.9 33.8,272.7 34.5,272.6 35.2,272.4 36,272.2 36.8,271.9 37.5,271.7 38.2,271.4 39,271.1 39.8,270.8 40.5,270.5 41.2,270.1 42,269.7 42.8,269.3 43.5,268.8 44.2,268.3 45,267.8 45.8,267.2 46.5,266.7 47.2,266.1 48,265.4 48.8,264.8 49.5,264.1 50.2,263.4 51,262.7 51.8,261.9 52.5,261.2 53.2,260.4 54,259.6 54.8,258.9 55.5,258.1 56.2,257.3 57,256.6 57.8,255.9 58.5,255.2 59.2,254.5 60,253.9 60.8,253.3 61.5,252.8 62.2,252.4 63,252 63.8,251.7 64.5,251.5 65.2,251.3 66,251.3 66.8,251.4 67.5,251.6 68.2,251.9 69,252.3 69.8,252.8 70.5,253.5 71.2,254.2 72,255 72.8,255.8 73.5,256.7 74.2,257.6 75,258.5 75.8,259.5 76.5,260.4 77.2,261.3 78,262.3 78.8,263.1 79.5,264 80.2,264.8 81,265.6 81.8,266.4 82.5,267.1 83.2,267.8 84,268.4 84.8,269 85.5,269.5 86.2,270 87,270.5 87.8,270.9 88.5,271.3 89.2,271.6 90,271.9 90.8,272.2 91.5,272.4 92.2,272.7 93,272.9 93.8,273 94.5,273.2 95.2,273.3 96,273.5 96.8,273.6 97.5,273.7 98.2,273.8 99,273.8 99.8,273.9 100.5,274 101.2,274 102,274.1 102.8,274.1 103.5,274.2 104.2,274.2 105,274.2 105.8,274.3 106.5,274.3 107.2,274.3 108,274.3 108.8,274.4 109.5,274.4 110.2,274.4 111,274.4 111.8,274.4 112.5,274.5 113.2,274.5 114,274.5 114.8,274.5 115.5,274.5 116.2,274.5 117,274.5 117.8,274.6 118.5,274.6 119.2,274.6 120,274.6 120.8,274.6 121.5,274.6 122.2,274.6 123,274.6 123.8,274.6 124.5,274.6 125.2,274.7 126,274.7 126.8,274.7 127.5,274.7 128.2,274.7 129,274.7 129.8,274.7 130.5,274.7 131.2,274.7 132,274.7 132.8,274.7 133.5,274.7 134.2,274.7 135,274.7 135.8,274.7 136.5,274.8 137.2,274.8 138,274.8 138.8,274.8 139.5,274.8 140.2,274.8 141,274.8 141.8,274.8 142.5,274.8 143.2,274.8 144,274.8 144.8,274.8 145.5,274.8 146.2,274.8 147,274.8 147.8,274.8 148.5,274.8 149.2,274.8 150,274.8 150.8,274.8 151.5,274.8 152.2,274.8 153,274.8 153.8,274.8 154.5,274.8 155.2,274.8 156,274.8 156.8,274.8 157.5,274.9 158.2,274.9 159,274.9 159.8,274.9 160.5,274.9 161.2,274.9 162,274.9 162.8,274.9 163.5,274.9 164.2,274.9 165,274.9 165.8,274.9 166.5,274.9 167.2,274.9 168,274.9 168.8,274.9 169.5,274.9 170.2,274.9 171,274.9 171.8,274.9 172.5,274.9 173.2,274.9 174,274.9 174.8,274.9 175.5,274.9 176.2,274.9 177,274.9 177.8,274.9 178.5,274.9 179.2,274.9 L179.2,275 Z" fill="url(#g11)"/>
<path d="M15,274.3 15.8,274.3 16.5,274.3 17.2,274.3 18,274.2 18.8,274.2 19.5,274.2 20.2,274.2 21,274.1 21.8,274.1 22.5,274.1 23.2,274 24,274 24.8,273.9 25.5,273.9 26.2,273.8 27,273.7 27.8,273.7 28.5,273.6 29.2,273.5 30,273.4 30.8,273.3 31.5,273.2 32.2,273 33,272.9 33.8,272.7 34.5,272.6 35.2,272.4 36,272.2 36.8,271.9 37.5,271.7 38.2,271.4 39,271.1 39.8,270.8 40.5,270.5 41.2,270.1 42,269.7 42.8,269.3 43.5,268.8 44.2,268.3 45,267.8 45.8,267.2 46.5,266.7 47.2,266.1 48,265.4 48.8,264.8 49.5,264.1 50.2,263.4 51,262.7 51.8,261.9 52.5,261.2 53.2,260.4 54,259.6 54.8,258.9 55.5,258.1 56.2,257.3 57,256.6 57.8,255.9 58.5,255.2 59.2,254.5 60,253.9 60.8,253.3 61.5,252.8 62.2,252.4 63,252 63.8,251.7 64.5,251.5 65.2,251.3 66,251.3 66.8,251.4 67.5,251.6 68.2,251.9 69,252.3 69.8,252.8 70.5,253.5 71.2,254.2 72,255 72.8,255.8 73.5,256.7 74.2,257.6 75,258.5 75.8,259.5 76.5,260.4 77.2,261.3 78,262.3 78.8,263.1 79.5,264 80.2,264.8 81,265.6 81.8,266.4 82.5,267.1 83.2,267.8 84,268.4 84.8,269 85.5,269.5 86.2,270 87,270.5 87.8,270.9 88.5,271.3 89.2,271.6 90,271.9 90.8,272.2 91.5,272.4 92.2,272.7 93,272.9 93.8,273 94.5,273.2 95.2,273.3 96,273.5 96.8,273.6 97.5,273.7 98.2,273.8 99,273.8 99.8,273.9 100.5,274 101.2,274 102,274.1 102.8,274.1 103.5,274.2 104.2,274.2 105,274.2 105.8,274.3 106.5,274.3 107.2,274.3 108,274.3 108.8,274.4 109.5,274.4 110.2,274.4 111,274.4 111.8,274.4 112.5,274.5 113.2,274.5 114,274.5 114.8,274.5 115.5,274.5 116.2,274.5 117,274.5 117.8,274.6 118.5,274.6 119.2,274.6 120,274.6 120.8,274.6 121.5,274.6 122.2,274.6 123,274.6 123.8,274.6 124.5,274.6 125.2,274.7 126,274.7 126.8,274.7 127.5,274.7 128.2,274.7 129,274.7 129.8,274.7" fill="none" stroke="#f06070" stroke-width="0.5"/>
<path d="M79.5,275 L79.5,274.9 80.2,274.9 81,274.9 81.8,274.9 82.5,274.9 83.2,274.9 84,274.9 84.8,274.9 85.5,274.9 86.2,274.9 87,274.9 87.8,274.9 88.5,274.9 89.2,274.9 90,274.9 90.8,274.9 91.5,274.9 92.2,274.9 93,274.9 93.8,274.9 94.5,274.9 95.2,274.9 96,274.9 96.8,274.9 97.5,274.9 98.2,274.9 99,274.9 99.8,274.9 100.5,274.9 101.2,274.9 102,274.9 102.8,274.9 103.5,274.8 104.2,274.8 105,274.8 105.8,274.8 106.5,274.8 107.2,274.8 108,274.7 108.8,274.7 109.5,274.7 110.2,274.6 111,274.5 111.8,274.5 112.5,274.4 113.2,274.3 114,274.2 114.8,274.1 115.5,274 116.2,273.8 117,273.6 117.8,273.4 118.5,273.2 119.2,272.9 120,272.7 120.8,272.4 121.5,272 122.2,271.7 123,271.3 123.8,270.8 124.5,270.4 125.2,269.9 126,269.4 126.8,268.9 127.5,268.3 128.2,267.8 129,267.2 129.8,266.7 130.5,266.1 131.2,265.5 132,265 132.8,264.5 133.5,264 134.2,263.6 135,263.2 135.8,262.8 136.5,262.6 137.2,262.3 138,262.2 138.8,262.1 139.5,262.1 140.2,262.2 141,262.3 141.8,262.5 142.5,262.8 143.2,263.1 144,263.5 144.8,263.9 145.5,264.4 146.2,264.9 147,265.4 147.8,266 148.5,266.5 149.2,267.1 150,267.7 150.8,268.2 151.5,268.8 152.2,269.3 153,269.8 153.8,270.3 154.5,270.7 155.2,271.2 156,271.6 156.8,272 157.5,272.3 158.2,272.6 159,272.9 159.8,273.2 160.5,273.4 161.2,273.6 162,273.8 162.8,273.9 163.5,274.1 164.2,274.2 165,274.3 165.8,274.4 166.5,274.5 167.2,274.5 168,274.6 168.8,274.6 169.5,274.7 170.2,274.7 171,274.7 171.8,274.8 172.5,274.8 173.2,274.8 174,274.8 174.8,274.8 175.5,274.9 176.2,274.9 177,274.9 177.8,274.9 178.5,274.9 179.2,274.9 L179.2,275 Z" fill="url(#g12)"/>
<path d="M108.8,274.7 109.5,274.7 110.2,274.6 111,274.5 111.8,274.5 112.5,274.4 113.2,274.3 114,274.2 114.8,274.1 115.5,274 116.2,273.8 117,273.6 117.8,273.4 118.5,273.2 119.2,272.9 120,272.7 120.8,272.4 121.5,272 122.2,271.7 123,271.3 123.8,270.8 124.5,270.4 125.2,269.9 126,269.4 126.8,268.9 127.5,268.3 128.2,267.8 129,267.2 129.8,266.7 130.5,266.1 131.2,265.5 132,265 132.8,264.5 133.5,264 134.2,263.6 135,263.2 135.8,262.8 136.5,262.6 137.2,262.3 138,262.2 138.8,262.1 139.5,262.1 140.2,262.2 141,262.3 141.8,262.5 142.5,262.8 143.2,263.1 144,263.5 144.8,263.9 145.5,264.4 146.2,264.9 147,265.4 147.8,266 148.5,266.5 149.2,267.1 150,267.7 150.8,268.2 151.5,268.8 152.2,269.3 153,269.8 153.8,270.3 154.5,270.7 155.2,271.2 156,271.6 156.8,272 157.5,272.3 158.2,272.6 159,272.9 159.8,273.2 160.5,273.4 161.2,273.6 162,273.8 162.8,273.9 163.5,274.1 164.2,274.2 165,274.3 165.8,274.4 166.5,274.5 167.2,274.5 168,274.6 168.8,274.6 169.5,274.7" fill="none" stroke="#d04040" stroke-width="0.4"/>
<path d="M72,275 L72,274.9 72.8,274.9 73.5,274.9 74.2,274.9 75,274.9 75.8,274.8 76.5,274.8 77.2,274.8 78,274.7 78.8,274.7 79.5,274.6 80.2,274.5 81,274.5 81.8,274.4 82.5,274.3 83.2,274.2 84,274 84.8,273.9 85.5,273.7 86.2,273.6 87,273.4 87.8,273.2 88.5,273 89.2,272.8 90,272.6 90.8,272.3 91.5,272.1 92.2,271.8 93,271.6 93.8,271.4 94.5,271.1 95.2,270.9 96,270.7 96.8,270.4 97.5,270.2 98.2,270.1 99,269.9 99.8,269.8 100.5,269.7 101.2,269.6 102,269.5 102.8,269.5 103.5,269.5 104.2,269.5 105,269.6 105.8,269.7 106.5,269.8 107.2,270 108,270.1 108.8,270.3 109.5,270.5 110.2,270.7 111,271 111.8,271.2 112.5,271.4 113.2,271.7 114,271.9 114.8,272.2 115.5,272.4 116.2,272.6 117,272.9 117.8,273.1 118.5,273.3 119.2,273.5 120,273.6 120.8,273.8 121.5,273.9 122.2,274.1 123,274.2 123.8,274.3 124.5,274.4 125.2,274.5 126,274.6 126.8,274.6 127.5,274.7 128.2,274.7 129,274.8 129.8,274.8 130.5,274.9 131.2,274.9 132,274.9 132.8,274.9 133.5,274.9 L133.5,275 Z" fill="url(#g13)"/>
<path d="M120,275 L120,274.9 120.8,274.9 121.5,274.9 122.2,274.9 123,274.9 123.8,274.9 124.5,274.9 125.2,274.9 126,274.9 126.8,274.9 127.5,274.9 128.2,274.9 129,274.9 129.8,274.9 130.5,274.9 131.2,274.9 132,274.9 132.8,274.9 133.5,274.8 134.2,274.8 135,274.8 135.8,274.8 136.5,274.7 137.2,274.7 138,274.6 138.8,274.5 139.5,274.3 140.2,274 141,273.6 141.8,273.1 142.5,272.3 143.2,271.4 144,270.1 144.8,268.6 145.5,266.8 146.2,264.8 147,262.7 147.8,260.6 148.5,258.5 149.2,256.7 150,255.4 150.8,254.6 151.5,254.4 152.2,254.6 153,255.1 153.8,255.9 154.5,256.9 155.2,258.1 156,259.4 156.8,260.8 157.5,262.2 158.2,263.7 159,265.1 159.8,266.4 160.5,267.6 161.2,268.8 162,269.8 162.8,270.7 163.5,271.5 164.2,272.1 165,272.7 165.8,273.1 166.5,273.5 167.2,273.8 168,274.1 168.8,274.2 169.5,274.4 170.2,274.5 171,274.6 171.8,274.6 172.5,274.7 173.2,274.7 174,274.8 174.8,274.8 175.5,274.8 176.2,274.8 177,274.8 177.8,274.8 178.5,274.9 179.2,274.9 L179.2,275 Z" fill="url(#g14)"/>
<path d="M137.2,274.7 138,274.6 138.8,274.5 139.5,274.3 140.2,274 141,273.6 141.8,273.1 142.5,272.3 143.2,271.4 144,270.1 144.8,268.6 145.5,266.8 146.2,264.8 147,262.7 147.8,260.6 148.5,258.5 149.2,256.7 150,255.4 150.8,254.6 151.5,254.4 152.2,254.6 153,255.1 153.8,255.9 154.5,256.9 155.2,258.1 156,259.4 156.8,260.8 157.5,262.2 158.2,263.7 159,265.1 159.8,266.4 160.5,267.6 161.2,268.8 162,269.8 162.8,270.7 163.5,271.5 164.2,272.1 165,272.7 165.8,273.1 166.5,273.5 167.2,273.8 168,274.1 168.8,274.2 169.5,274.4 170.2,274.5 171,274.6 171.8,274.6 172.5,274.7" fill="none" stroke="#e04080" stroke-width="0.5"/>
</g>
<rect x="15" y="155.2" width="164.5" height="120.3" fill="none" stroke="#2a2a2a" stroke-width="1.4"/>
<line x1="15" y1="275.5" x2="15" y2="278.1" stroke="#2a2a2a" stroke-width="1"/>
<text x="15" y="284" font-size="5.4" font-family="'Liberation Serif', 'Times New Roman', serif" font-weight="bold" text-anchor="middle" fill="#333" textLength="6.6" lengthAdjust="spacingAndGlyphs">296</text>
<line x1="26.8" y1="275.5" x2="26.8" y2="277.1" stroke="#2a2a2a" stroke-width="1"/>
<line x1="38.5" y1="275.5" x2="38.5" y2="278.1" stroke="#2a2a2a" stroke-width="1"/>
<text x="38.5" y="284" font-size="5.4" font-family="'Liberation Serif', 'Times New Roman', serif" font-weight="bold" text-anchor="middle" fill="#333" textLength="6.6" lengthAdjust="spacingAndGlyphs">294</text>
<line x1="50.2" y1="275.5" x2="50.2" y2="277.1" stroke="#2a2a2a" stroke-width="1"/>
<line x1="62" y1="275.5" x2="62" y2="278.1" stroke="#2a2a2a" stroke-width="1"/>
<text x="62" y="284" font-size="5.4" font-family="'Liberation Serif', 'Times New Roman', serif" font-weight="bold" text-anchor="middle" fill="#333" textLength="6.6" lengthAdjust="spacingAndGlyphs">292</text>
<line x1="73.8" y1="275.5" x2="73.8" y2="277.1" stroke="#2a2a2a" stroke-width="1"/>
<line x1="85.5" y1="275.5" x2="85.5" y2="278.1" stroke="#2a2a2a" stroke-width="1"/>
<text x="85.5" y="284" font-size="5.4" font-family="'Liberation Serif', 'Times New Roman', serif" font-weight="bold" text-anchor="middle" fill="#333" textLength="6.6" lengthAdjust="spacingAndGlyphs">290</text>
<line x1="97.2" y1="275.5" x2="97.2" y2="277.1" stroke="#2a2a2a" stroke-width="1"/>
<line x1="109" y1="275.5" x2="109" y2="278.1" stroke="#2a2a2a" stroke-width="1"/>
<text x="109" y="284" font-size="5.4" font-family="'Liberation Serif', 'Times New Roman', serif" font-weight="bold" text-anchor="middle" fill="#333" textLength="6.6" lengthAdjust="spacingAndGlyphs">288</text>
<line x1="120.8" y1="275.5" x2="120.8" y2="277.1" stroke="#2a2a2a" stroke-width="1"/>
<line x1="132.5" y1="275.5" x2="132.5" y2="278.1" stroke="#2a2a2a" stroke-width="1"/>
<text x="132.5" y="284" font-size="5.4" font-family="'Liberation Serif', 'Times New Roman', serif" font-weight="bold" text-anchor="middle" fill="#333" textLength="6.6" lengthAdjust="spacingAndGlyphs">286</text>
<line x1="144.2" y1="275.5" x2="144.2" y2="277.1" stroke="#2a2a2a" stroke-width="1"/>
<line x1="156" y1="275.5" x2="156" y2="278.1" stroke="#2a2a2a" stroke-width="1"/>
<text x="156" y="284" font-size="5.4" font-family="'Liberation Serif', 'Times New Roman', serif" font-weight="bold" text-anchor="middle" fill="#333" textLength="6.6" lengthAdjust="spacingAndGlyphs">284</text>
<line x1="167.8" y1="275.5" x2="167.8" y2="277.1" stroke="#2a2a2a" stroke-width="1"/>
<line x1="179.5" y1="275.5" x2="179.5" y2="278.1" stroke="#2a2a2a" stroke-width="1"/>
<text x="179.5" y="284" font-size="5.4" font-family="'Liberation Serif', 'Times New Roman', serif" font-weight="bold" text-anchor="middle" fill="#333" textLength="6.6" lengthAdjust="spacingAndGlyphs">282</text>
<text x="97.2" y="293" font-size="5.9" font-family="'Liberation Serif', 'Times New Roman', serif" font-weight="bold" text-anchor="middle" fill="#333" stroke="#333" stroke-width="0.15" letter-spacing="0.06">Binding Energy (<tspan font-style="italic">eV</tspan>)</text>
<text transform="translate(12.1,221) rotate(-90)" font-size="6.1" font-family="'Liberation Serif', 'Times New Roman', serif" font-weight="bold" text-anchor="middle" fill="#333">Counts/s</text>
<text x="17.4" y="164.2" font-size="7.5" font-family="'Liberation Sans', Arial, sans-serif" font-weight="normal" text-anchor="start" fill="#333" stroke="#333" stroke-width="0.15">(d)</text>
<text x="177.6" y="164" font-size="7.2" font-family="'Liberation Sans', Arial, sans-serif" font-weight="normal" text-anchor="end" fill="#333" stroke="#333" stroke-width="0.18">C 1s</text>
<text x="79.4" y="198.5" font-size="6.2" font-family="'Liberation Sans', Arial, sans-serif" font-weight="normal" text-anchor="start" fill="#383838" stroke="#383838" stroke-width="0.25" letter-spacing="0.15"><tspan>C-F</tspan><tspan dy="1.5" font-size="6.2">2</tspan></text>
<text x="59" y="266" font-size="6.2" font-family="'Liberation Sans', Arial, sans-serif" font-weight="normal" text-anchor="start" fill="#383838" stroke="#383838" stroke-width="0.25" letter-spacing="0.15"><tspan>C-F</tspan></text>
<text x="99.5" y="263" font-size="6.2" font-family="'Liberation Sans', Arial, sans-serif" font-weight="normal" text-anchor="start" fill="#383838" stroke="#383838" stroke-width="0.25" letter-spacing="0.15"><tspan>C-F</tspan><tspan dy="1.5" font-size="6.2">3</tspan></text>
<text x="132.3" y="272.3" font-size="6.2" font-family="'Liberation Sans', Arial, sans-serif" font-weight="normal" text-anchor="start" fill="#383838" stroke="#383838" stroke-width="0.25" letter-spacing="0.15"><tspan>C-S</tspan></text>
<text x="139.2" y="244" font-size="6.2" font-family="'Liberation Sans', Arial, sans-serif" font-weight="normal" text-anchor="start" fill="#383838" stroke="#383838" stroke-width="0.25" letter-spacing="0.15"><tspan>C-C/C-O/C-H</tspan></text>
<line x1="77.8" y1="197.4" x2="70" y2="204.4" stroke="#333" stroke-width="0.5"/>
<path d="M77.8,197.4 L76.8,199.8 L75.3,198.1 Z" fill="#222"/>
<line x1="103.8" y1="265.6" x2="101.2" y2="269" stroke="#333" stroke-width="0.5"/>
<path d="M103.8,265.6 L103.3,268.1 L101.5,266.8 Z" fill="#222"/>
<line x1="160" y1="246.6" x2="155.6" y2="252.6" stroke="#333" stroke-width="0.5"/>
<path d="M160,246.6 L159.5,249.2 L157.7,247.8 Z" fill="#222"/>
<g clip-path="url(#c18)">
<rect x="195.6" y="271.6" width="72.4" height="3.4" fill="#fbe0f6"/>
<line x1="195.6" y1="271.6" x2="268" y2="271.6" stroke="#d050b0" stroke-width="0.6"/>
<path d="M239.8,271.6 L239.8,271.5 240.6,271.5 241.3,271.5 242.1,271.5 242.8,271.5 243.6,271.4 244.3,271.4 245.1,271.3 245.8,271.2 246.6,271.2 247.3,271.1 248.1,271 248.8,270.8 249.6,270.7 250.3,270.5 251.1,270.3 251.8,270 252.6,269.7 253.3,269.3 254.1,268.9 254.8,268.5 255.6,267.9 256.4,267.3 257.1,266.6 257.9,265.8 258.6,265 259.4,264 260.1,262.9 260.9,261.6 261.6,260.3 262.4,258.8 263.1,257.2 263.9,255.4 264.6,253.5 265.4,251.4 266.1,249.1 266.9,246.7 267.6,244.2 268.4,241.5 269.1,238.7 269.9,235.7 270.6,232.7 271.4,229.5 272.1,226.2 272.9,222.9 273.6,219.5 274.4,216.1 275.1,212.7 275.9,209.3 276.6,206 277.4,202.8 278.1,199.7 278.9,196.7 279.6,193.9 280.4,191.3 281.1,188.9 281.9,186.8 282.6,185 283.4,183.4 284.1,182.2 284.9,181.2 285.6,180.6 286.4,180.4 287.1,180.5 287.9,181 288.6,181.9 289.4,183.2 290.1,184.8 290.9,186.7 291.6,189 292.4,191.5 293.1,194.3 293.9,197.3 294.6,200.5 295.4,203.9 296.1,207.4 296.9,210.9 297.6,214.5 298.4,218.1 299.1,221.7 299.9,225.3 300.6,228.8 301.4,232.2 302.1,235.5 302.9,238.6 303.6,241.6 304.4,244.5 305.1,247.1 305.9,249.6 306.6,252 307.4,254.1 308.1,256.1 308.9,258 309.6,259.6 310.4,261.1 311.1,262.5 311.9,263.7 312.6,264.8 313.4,265.7 314.1,266.6 314.9,267.3 315.6,268 316.4,268.5 317.1,269 317.9,269.4 318.6,269.8 319.4,270.1 320.1,270.4 320.9,270.6 321.6,270.8 322.4,270.9 323.1,271 323.9,271.1 324.6,271.2 325.4,271.3 326.1,271.4 326.9,271.4 327.6,271.5 328.4,271.5 329.1,271.5 329.9,271.5 330.6,271.5 L330.6,271.6 Z" fill="url(#g15)"/>
<path d="M245.8,271.2 246.6,271.2 247.3,271.1 248.1,271 248.8,270.8 249.6,270.7 250.3,270.5 251.1,270.3 251.8,270 252.6,269.7 253.3,269.3 254.1,268.9 254.8,268.5 255.6,267.9 256.4,267.3 257.1,266.6 257.9,265.8 258.6,265 259.4,264 260.1,262.9 260.9,261.6 261.6,260.3 262.4,258.8 263.1,257.2 263.9,255.4 264.6,253.5 265.4,251.4 266.1,249.1 266.9,246.7 267.6,244.2 268.4,241.5 269.1,238.7 269.9,235.7 270.6,232.7 271.4,229.5 272.1,226.2 272.9,222.9 273.6,219.5 274.4,216.1 275.1,212.7 275.9,209.3 276.6,206 277.4,202.8 278.1,199.7 278.9,196.7 279.6,193.9 280.4,191.3 281.1,188.9 281.9,186.8 282.6,185 283.4,183.4 284.1,182.2 284.9,181.2 285.6,180.6 286.4,180.4 287.1,180.5 287.9,181 288.6,181.9 289.4,183.2 290.1,184.8 290.9,186.7 291.6,189 292.4,191.5 293.1,194.3 293.9,197.3 294.6,200.5 295.4,203.9 296.1,207.4 296.9,210.9 297.6,214.5 298.4,218.1 299.1,221.7 299.9,225.3 300.6,228.8 301.4,232.2 302.1,235.5 302.9,238.6 303.6,241.6 304.4,244.5 305.1,247.1 305.9,249.6 306.6,252 307.4,254.1 308.1,256.1 308.9,258 309.6,259.6 310.4,261.1 311.1,262.5 311.9,263.7 312.6,264.8 313.4,265.7 314.1,266.6 314.9,267.3 315.6,268 316.4,268.5 317.1,269 317.9,269.4 318.6,269.8 319.4,270.1 320.1,270.4 320.9,270.6 321.6,270.8 322.4,270.9 323.1,271 323.9,271.1 324.6,271.2" fill="none" stroke="#4030c0" stroke-width="0.5"/>
<path d="M195.6,271.6 L195.6,271 196.3,271 197.1,271 197.8,271 198.6,271 199.3,271 200.1,270.9 200.8,270.9 201.6,270.9 202.3,270.9 203.1,270.9 203.8,270.9 204.6,270.8 205.3,270.8 206.1,270.8 206.8,270.8 207.6,270.7 208.3,270.7 209.1,270.7 209.8,270.7 210.6,270.6 211.3,270.6 212.1,270.6 212.8,270.5 213.6,270.5 214.3,270.5 215.1,270.4 215.8,270.4 216.6,270.4 217.3,270.3 218.1,270.3 218.8,270.2 219.6,270.2 220.3,270.1 221.1,270 221.8,270 222.6,269.9 223.3,269.8 224.1,269.8 224.8,269.7 225.6,269.6 226.3,269.5 227.1,269.4 227.8,269.2 228.6,269.1 229.3,268.9 230.1,268.7 230.8,268.5 231.6,268.2 232.3,267.9 233.1,267.6 233.8,267.2 234.6,266.7 235.3,266.1 236.1,265.5 236.8,264.7 237.6,263.8 238.3,262.8 239.1,261.6 239.8,260.3 240.6,258.8 241.3,257 242.1,255.1 242.8,252.9 243.6,250.6 244.3,248 245.1,245.2 245.8,242.1 246.6,238.9 247.3,235.5 248.1,232 248.8,228.3 249.6,224.6 250.3,220.8 251.1,217.2 251.8,213.6 252.6,210.2 253.3,207 254.1,204.3 254.8,201.9 255.6,200 256.4,198.8 257.1,198.1 257.9,198.1 258.6,199.4 259.4,201.9 260.1,205.4 260.9,209.7 261.6,214.5 262.4,219.7 263.1,225.1 263.9,230.4 264.6,235.5 265.4,240.3 266.1,244.7 266.9,248.7 267.6,252.3 268.4,255.4 269.1,258 269.9,260.3 270.6,262.1 271.4,263.7 272.1,264.9 272.9,266 273.6,266.8 274.4,267.4 275.1,267.9 275.9,268.4 276.6,268.7 277.4,269 278.1,269.2 278.9,269.4 279.6,269.5 280.4,269.7 281.1,269.8 281.9,269.9 282.6,270 283.4,270.1 284.1,270.2 284.9,270.2 285.6,270.3 286.4,270.4 287.1,270.4 287.9,270.5 288.6,270.5 289.4,270.6 290.1,270.6 290.9,270.7 291.6,270.7 292.4,270.7 293.1,270.8 293.9,270.8 294.6,270.8 295.4,270.9 296.1,270.9 296.9,270.9 297.6,270.9 298.4,271 299.1,271 299.9,271 300.6,271 301.4,271.1 302.1,271.1 302.9,271.1 303.6,271.1 304.4,271.1 305.1,271.1 305.9,271.1 306.6,271.2 307.4,271.2 308.1,271.2 308.9,271.2 309.6,271.2 310.4,271.2 311.1,271.2 311.9,271.2 312.6,271.2 313.4,271.3 314.1,271.3 314.9,271.3 315.6,271.3 316.4,271.3 317.1,271.3 317.9,271.3 318.6,271.3 319.4,271.3 320.1,271.3 320.9,271.3 321.6,271.3 322.4,271.3 323.1,271.4 323.9,271.4 324.6,271.4 325.4,271.4 326.1,271.4 326.9,271.4 327.6,271.4 328.4,271.4 329.1,271.4 329.9,271.4 330.6,271.4 331.4,271.4 332.1,271.4 332.9,271.4 333.6,271.4 334.4,271.4 335.1,271.4 335.9,271.4 336.6,271.4 337.4,271.4 338.1,271.4 338.9,271.4 339.6,271.4 340.4,271.4 341.1,271.4 341.9,271.4 342.6,271.5 343.4,271.5 344.1,271.5 344.9,271.5 345.6,271.5 346.4,271.5 347.1,271.5 347.9,271.5 348.6,271.5 349.4,271.5 350.1,271.5 350.9,271.5 351.6,271.5 352.4,271.5 353.1,271.5 353.9,271.5 354.6,271.5 355.4,271.5 356.1,271.5 356.9,271.5 357.6,271.5 358.4,271.5 359.1,271.5 359.9,271.5 L359.9,271.6 Z" fill="url(#g16)"/>
<path d="M195.6,271 196.3,271 197.1,271 197.8,271 198.6,271 199.3,271 200.1,270.9 200.8,270.9 201.6,270.9 202.3,270.9 203.1,270.9 203.8,270.9 204.6,270.8 205.3,270.8 206.1,270.8 206.8,270.8 207.6,270.7 208.3,270.7 209.1,270.7 209.8,270.7 210.6,270.6 211.3,270.6 212.1,270.6 212.8,270.5 213.6,270.5 214.3,270.5 215.1,270.4 215.8,270.4 216.6,270.4 217.3,270.3 218.1,270.3 218.8,270.2 219.6,270.2 220.3,270.1 221.1,270 221.8,270 222.6,269.9 223.3,269.8 224.1,269.8 224.8,269.7 225.6,269.6 226.3,269.5 227.1,269.4 227.8,269.2 228.6,269.1 229.3,268.9 230.1,268.7 230.8,268.5 231.6,268.2 232.3,267.9 233.1,267.6 233.8,267.2 234.6,266.7 235.3,266.1 236.1,265.5 236.8,264.7 237.6,263.8 238.3,262.8 239.1,261.6 239.8,260.3 240.6,258.8 241.3,257 242.1,255.1 242.8,252.9 243.6,250.6 244.3,248 245.1,245.2 245.8,242.1 246.6,238.9 247.3,235.5 248.1,232 248.8,228.3 249.6,224.6 250.3,220.8 251.1,217.2 251.8,213.6 252.6,210.2 253.3,207 254.1,204.3 254.8,201.9 255.6,200 256.4,198.8 257.1,198.1 257.9,198.1 258.6,199.4 259.4,201.9 260.1,205.4 260.9,209.7 261.6,214.5 262.4,219.7 263.1,225.1 263.9,230.4 264.6,235.5 265.4,240.3 266.1,244.7 266.9,248.7 267.6,252.3 268.4,255.4 269.1,258 269.9,260.3 270.6,262.1 271.4,263.7 272.1,264.9 272.9,266 273.6,266.8 274.4,267.4 275.1,267.9 275.9,268.4 276.6,268.7 277.4,269 278.1,269.2 278.9,269.4 279.6,269.5 280.4,269.7 281.1,269.8 281.9,269.9 282.6,270 283.4,270.1 284.1,270.2 284.9,270.2 285.6,270.3 286.4,270.4 287.1,270.4 287.9,270.5 288.6,270.5 289.4,270.6 290.1,270.6 290.9,270.7 291.6,270.7 292.4,270.7 293.1,270.8 293.9,270.8 294.6,270.8 295.4,270.9 296.1,270.9 296.9,270.9 297.6,270.9 298.4,271 299.1,271 299.9,271 300.6,271 301.4,271.1 302.1,271.1 302.9,271.1 303.6,271.1 304.4,271.1 305.1,271.1 305.9,271.1 306.6,271.2 307.4,271.2 308.1,271.2 308.9,271.2 309.6,271.2 310.4,271.2 311.1,271.2 311.9,271.2 312.6,271.2 313.4,271.3 314.1,271.3 314.9,271.3 315.6,271.3 316.4,271.3 317.1,271.3" fill="none" stroke="#e08080" stroke-width="0.5"/>
<path d="M238.3,271.6 L238.3,271.5 239.1,271.5 239.8,271.5 240.6,271.5 241.3,271.5 242.1,271.5 242.8,271.5 243.6,271.5 244.3,271.5 245.1,271.5 245.8,271.5 246.6,271.5 247.3,271.5 248.1,271.5 248.8,271.5 249.6,271.5 250.3,271.5 251.1,271.5 251.8,271.4 252.6,271.4 253.3,271.4 254.1,271.4 254.8,271.3 255.6,271.2 256.4,271.1 257.1,271 257.9,270.8 258.6,270.5 259.4,270.1 260.1,269.7 260.9,269.1 261.6,268.3 262.4,267.5 263.1,266.5 263.9,265.3 264.6,264.1 265.4,262.7 266.1,261.3 266.9,260 267.6,258.7 268.4,257.6 269.1,256.7 269.9,256.1 270.6,255.8 271.4,255.9 272.1,256.3 272.9,257.1 273.6,258.1 274.4,259.3 275.1,260.6 275.9,262 276.6,263.3 277.4,264.7 278.1,265.9 278.9,267 279.6,267.9 280.4,268.7 281.1,269.4 281.9,269.9 282.6,270.3 283.4,270.6 284.1,270.9 284.9,271 285.6,271.2 286.4,271.3 287.1,271.3 287.9,271.4 288.6,271.4 289.4,271.4 290.1,271.4 290.9,271.5 291.6,271.5 292.4,271.5 293.1,271.5 293.9,271.5 294.6,271.5 295.4,271.5 296.1,271.5 296.9,271.5 297.6,271.5 298.4,271.5 299.1,271.5 299.9,271.5 300.6,271.5 301.4,271.5 302.1,271.5 302.9,271.5 303.6,271.5 L303.6,271.6 Z" fill="url(#g17)"/>
<path d="M254.8,271.3 255.6,271.2 256.4,271.1 257.1,271 257.9,270.8 258.6,270.5 259.4,270.1 260.1,269.7 260.9,269.1 261.6,268.3 262.4,267.5 263.1,266.5 263.9,265.3 264.6,264.1 265.4,262.7 266.1,261.3 266.9,260 267.6,258.7 268.4,257.6 269.1,256.7 269.9,256.1 270.6,255.8 271.4,255.9 272.1,256.3 272.9,257.1 273.6,258.1 274.4,259.3 275.1,260.6 275.9,262 276.6,263.3 277.4,264.7 278.1,265.9 278.9,267 279.6,267.9 280.4,268.7 281.1,269.4 281.9,269.9 282.6,270.3 283.4,270.6 284.1,270.9 284.9,271 285.6,271.2 286.4,271.3" fill="none" stroke="#8040c0" stroke-width="0.5"/>
<path d="M275.1,271.6 L275.1,271.5 275.9,271.5 276.6,271.5 277.4,271.4 278.1,271.4 278.9,271.2 279.6,271.1 280.4,270.9 281.1,270.6 281.9,270.2 282.6,269.8 283.4,269.3 284.1,268.8 284.9,268.2 285.6,267.6 286.4,267.1 287.1,266.6 287.9,266.3 288.6,266.1 289.4,266.1 290.1,266.2 290.9,266.3 291.6,266.5 292.4,266.7 293.1,267 293.9,267.3 294.6,267.7 295.4,268.1 296.1,268.4 296.9,268.8 297.6,269.1 298.4,269.5 299.1,269.8 299.9,270 300.6,270.3 301.4,270.5 302.1,270.7 302.9,270.9 303.6,271 304.4,271.1 305.1,271.2 305.9,271.3 306.6,271.4 307.4,271.4 308.1,271.5 308.9,271.5 309.6,271.5 310.4,271.5 311.1,271.5 L311.1,271.6 Z" fill="url(#g18)"/>
<path d="M195.6,271.2 196.3,271 197.1,270.9 197.8,270.7 198.6,270.7 199.3,270.8 200.1,270.8 200.8,270.9 201.6,271.1 202.3,270.9 203.1,270.7 203.8,270.6 204.6,270.2 205.3,270 206.1,270.3 206.8,270.6 207.6,270.5 208.3,270.6 209.1,270.8 209.8,270.6 210.6,270.8 211.3,271.2 212.1,271 212.8,270.7 213.6,270.5 214.3,270.4 215.1,270.3 215.8,270.4 216.6,270.7 217.3,270.9 218.1,270.5 218.8,270.2 219.6,270.6 220.3,270.9 221.1,270.6 221.8,270.1 222.6,270.2 223.3,270.4 224.1,270.2 224.8,269.9 225.6,269.9 226.3,269.9 227.1,269.7 227.8,269.2 228.6,268.6 229.3,268.4 230.1,268 230.8,267.7 231.6,267.4 232.3,267 233.1,266.5 233.8,265.9 234.6,265.6 235.3,265.2 236.1,264.7 236.8,264 237.6,263.3 238.3,262.5 239.1,261.8 239.8,260.9 240.6,259.4 241.3,257.8 242.1,256.2 242.8,254 243.6,251.7 244.3,249.5 245.1,246.8 245.8,243.6 246.6,240.4 247.3,237 248.1,233.3 248.8,229.7 249.6,226 250.3,221.6 251.1,215.3 251.8,208.6 252.6,202.7 253.3,198.8 254.1,196 254.8,193.8 255.6,191.7 256.4,190.1 257.1,188.6 257.9,187.7 258.6,188.3 259.4,187.2 260.1,188.5 260.9,189.8 261.6,189.5 262.4,189.6 263.1,190.4 263.9,190.5 264.6,191.1 265.4,193.2 266.1,193.7 266.9,192.4 267.6,193.7 268.4,193.5 269.1,192.4 269.9,192.9 270.6,192.4 271.4,190.1 272.1,190.1 272.9,189.3 273.6,187.8 274.4,186.5 275.1,184.3 275.9,182.6 276.6,182.1 277.4,180.9 278.1,178.4 278.9,176.4 279.6,176.1 280.4,175.1 281.1,174.2 281.9,173.2 282.6,172 283.4,171 284.1,170.1 284.9,169.1 285.6,167.8 286.4,166.1 287.1,167.7 287.9,168.9 288.6,169.2 289.4,170.4 290.1,172.8 290.9,174.7 291.6,176.7 292.4,178.1 293.1,179.6 293.9,182.1 294.6,186 295.4,190.7 296.1,195.3 296.9,200 297.6,205.2 298.4,210.6 299.1,215.6 299.9,219.9 300.6,224.3 301.4,228.3 302.1,232.1 302.9,235.9 303.6,239.4 304.4,243 305.1,246.7 305.9,250 306.6,252.9 307.4,255.1 308.1,256.9 308.9,258.8 309.6,260.6 310.4,262 311.1,263.6 311.9,265.1 312.6,266.2 313.4,267.3 314.1,268.4 314.9,269 315.6,269.3 316.4,270.2 317.1,271.5 317.9,271.9 318.6,271.8 319.4,272 320.1,272.2 320.9,272.5 321.6,272.4 322.4,269.5 323.1,269.6 323.9,272.6 324.6,272.9 325.4,273 326.1,273.1 326.9,273.1 327.6,272.9 328.4,272.9 329.1,272.8 329.9,271.3 330.6,271 331.4,271.8 332.1,272 332.9,271.9 333.6,271.5 334.4,269.8 335.1,270.5 335.9,271.2 336.6,270.5 337.4,270.9 338.1,271 338.9,268.3 339.6,269.4 340.4,270.1 341.1,270.9 341.9,271.6 342.6,271.7 343.4,271.8 344.1,271.7 344.9,271.1 345.6,269.7 346.4,270.2 347.1,269.7 347.9,269.5 348.6,271.3 349.4,271.1 350.1,270 350.9,270.1 351.6,271.2 352.4,271.5 353.1,271.3 353.9,271.2 354.6,271.5 355.4,271.9 356.1,271.7 356.9,270 357.6,270 358.4,271.1 359.1,271.1 359.9,271.1" fill="none" stroke="#111" stroke-width="0.8" stroke-linejoin="round"/>
<path d="M195.6,271 196.3,271 197.1,271 197.8,271 198.6,271 199.3,271 200.1,270.9 200.8,270.9 201.6,270.9 202.3,270.9 203.1,270.9 203.8,270.8 204.6,270.8 205.3,270.8 206.1,270.8 206.8,270.8 207.6,270.7 208.3,270.7 209.1,270.7 209.8,270.7 210.6,270.6 211.3,270.6 212.1,270.6 212.8,270.5 213.6,270.5 214.3,270.5 215.1,270.4 215.8,270.5 216.6,270.5 217.3,270.5 218.1,270.5 218.8,270.4 219.6,270.4 220.3,270.4 221.1,270.3 221.8,270.3 222.6,270.2 223.3,270.1 224.1,270 224.8,269.9 225.6,269.8 226.3,269.6 227.1,269.3 227.8,269.1 228.6,268.8 229.3,268.5 230.1,268.2 230.8,267.9 231.6,267.5 232.3,267.1 233.1,266.7 233.8,266.2 234.6,265.7 235.3,265.2 236.1,264.6 236.8,264.1 237.6,263.4 238.3,262.6 239.1,261.7 239.8,260.7 240.6,259.4 241.3,257.9 242.1,256.2 242.8,254.2 243.6,251.9 244.3,249.3 245.1,246.5 245.8,243.5 246.6,240.3 247.3,236.8 248.1,233.2 248.8,229.4 249.6,225.6 250.3,221.2 251.1,215.2 251.8,208.7 252.6,202.9 253.3,198.9 254.1,196 254.8,193.7 255.6,191.8 256.4,190.5 257.1,189.6 257.9,188.7 258.6,188.2 259.4,188.2 260.1,188.7 260.9,189.7 261.6,190.4 262.4,190.6 263.1,190.7 263.9,191.2 264.6,192.4 265.4,193.4 266.1,194 266.9,194.2 267.6,194 268.4,193.9 269.1,193.6 269.9,193.1 270.6,192.3 271.4,191.4 272.1,190.5 272.9,189.5 273.6,188.1 274.4,186.6 275.1,185.1 275.9,183.6 276.6,182.1 277.4,180.6 278.1,179.1 278.9,177.6 279.6,176.4 280.4,175.3 281.1,174.3 281.9,173.3 282.6,172.1 283.4,170.9 284.1,169.8 284.9,169 285.6,168.4 286.4,168.1 287.1,168.3 287.9,168.9 288.6,169.9 289.4,171.2 290.1,172.8 290.9,174.7 291.6,176.9 292.4,178.2 293.1,179.6 293.9,182.2 294.6,186.1 295.4,190.5 296.1,195.2 296.9,200 297.6,205.1 298.4,210.3 299.1,215.3 299.9,219.9 300.6,224.1 301.4,228.1 302.1,231.9 302.9,235.7 303.6,239.5 304.4,243.3 305.1,246.8 305.9,249.9 306.6,252.4 307.4,254.8 308.1,256.9 308.9,258.8 309.6,260.6 310.4,262.2 311.1,263.7 311.9,265 312.6,266.1 313.4,267.2 314.1,268.1 314.9,268.9 315.6,269.6 316.4,270.2 317.1,270.8 317.9,271.2 318.6,271.6 319.4,272 320.1,272.3 320.9,272.5 321.6,272.7 322.4,272.9 323.1,273 323.9,273.1 324.6,273.1 325.4,273.1 326.1,273.1 326.9,273.1 327.6,273 328.4,272.9 329.1,272.8 329.9,272.7 330.6,272.5 331.4,272.4 332.1,272.2 332.9,272 333.6,271.8 334.4,271.6 335.1,271.4 335.9,271.4 336.6,271.4 337.4,271.4 338.1,271.4 338.9,271.4 339.6,271.4 340.4,271.4 341.1,271.4 341.9,271.4 342.6,271.4 343.4,271.4 344.1,271.4 344.9,271.4 345.6,271.4 346.4,271.4 347.1,271.5 347.9,271.5 348.6,271.5 349.4,271.5 350.1,271.5 350.9,271.5 351.6,271.5 352.4,271.5 353.1,271.5 353.9,271.5 354.6,271.5 355.4,271.5 356.1,271.5 356.9,271.5 357.6,271.5 358.4,271.5 359.1,271.5 359.9,271.5" fill="none" stroke="#a01080" stroke-width="1.5" stroke-linejoin="round"/>
</g>
<rect x="195.6" y="155.2" width="164.4" height="120.3" fill="none" stroke="#2a2a2a" stroke-width="1.4"/>
<line x1="195.6" y1="275.5" x2="195.6" y2="278.1" stroke="#2a2a2a" stroke-width="1"/>
<text x="195.6" y="284" font-size="5.4" font-family="'Liberation Serif', 'Times New Roman', serif" font-weight="bold" text-anchor="middle" fill="#333" textLength="6.6" lengthAdjust="spacingAndGlyphs">540</text>
<line x1="208.2" y1="275.5" x2="208.2" y2="277.1" stroke="#2a2a2a" stroke-width="1"/>
<line x1="220.9" y1="275.5" x2="220.9" y2="278.1" stroke="#2a2a2a" stroke-width="1"/>
<text x="220.9" y="284" font-size="5.4" font-family="'Liberation Serif', 'Times New Roman', serif" font-weight="bold" text-anchor="middle" fill="#333" textLength="6.6" lengthAdjust="spacingAndGlyphs">538</text>
<line x1="233.5" y1="275.5" x2="233.5" y2="277.1" stroke="#2a2a2a" stroke-width="1"/>
<line x1="246.2" y1="275.5" x2="246.2" y2="278.1" stroke="#2a2a2a" stroke-width="1"/>
<text x="246.2" y="284" font-size="5.4" font-family="'Liberation Serif', 'Times New Roman', serif" font-weight="bold" text-anchor="middle" fill="#333" textLength="6.6" lengthAdjust="spacingAndGlyphs">536</text>
<line x1="258.8" y1="275.5" x2="258.8" y2="277.1" stroke="#2a2a2a" stroke-width="1"/>
<line x1="271.5" y1="275.5" x2="271.5" y2="278.1" stroke="#2a2a2a" stroke-width="1"/>
<text x="271.5" y="284" font-size="5.4" font-family="'Liberation Serif', 'Times New Roman', serif" font-weight="bold" text-anchor="middle" fill="#333" textLength="6.6" lengthAdjust="spacingAndGlyphs">534</text>
<line x1="284.1" y1="275.5" x2="284.1" y2="277.1" stroke="#2a2a2a" stroke-width="1"/>
<line x1="296.8" y1="275.5" x2="296.8" y2="278.1" stroke="#2a2a2a" stroke-width="1"/>
<text x="296.8" y="284" font-size="5.4" font-family="'Liberation Serif', 'Times New Roman', serif" font-weight="bold" text-anchor="middle" fill="#333" textLength="6.6" lengthAdjust="spacingAndGlyphs">532</text>
<line x1="309.4" y1="275.5" x2="309.4" y2="277.1" stroke="#2a2a2a" stroke-width="1"/>
<line x1="322.1" y1="275.5" x2="322.1" y2="278.1" stroke="#2a2a2a" stroke-width="1"/>
<text x="322.1" y="284" font-size="5.4" font-family="'Liberation Serif', 'Times New Roman', serif" font-weight="bold" text-anchor="middle" fill="#333" textLength="6.6" lengthAdjust="spacingAndGlyphs">530</text>
<line x1="334.7" y1="275.5" x2="334.7" y2="277.1" stroke="#2a2a2a" stroke-width="1"/>
<line x1="347.4" y1="275.5" x2="347.4" y2="278.1" stroke="#2a2a2a" stroke-width="1"/>
<text x="347.4" y="284" font-size="5.4" font-family="'Liberation Serif', 'Times New Roman', serif" font-weight="bold" text-anchor="middle" fill="#333" textLength="6.6" lengthAdjust="spacingAndGlyphs">528</text>
<line x1="360" y1="275.5" x2="360" y2="277.1" stroke="#2a2a2a" stroke-width="1"/>
<text x="277.8" y="293" font-size="5.9" font-family="'Liberation Serif', 'Times New Roman', serif" font-weight="bold" text-anchor="middle" fill="#333" stroke="#333" stroke-width="0.15" letter-spacing="0.06">Binding Energy (<tspan font-style="italic">eV</tspan>)</text>
<text transform="translate(189.1,214.6) rotate(-90)" font-size="6.1" font-family="'Liberation Serif', 'Times New Roman', serif" font-weight="bold" text-anchor="middle" fill="#333">Counts/s</text>
<text x="197.9" y="164.2" font-size="7.5" font-family="'Liberation Sans', Arial, sans-serif" font-weight="normal" text-anchor="start" fill="#333" stroke="#333" stroke-width="0.15">(e)</text>
<text x="358.1" y="164.8" font-size="7.2" font-family="'Liberation Sans', Arial, sans-serif" font-weight="normal" text-anchor="end" fill="#333" stroke="#333" stroke-width="0.18">O 1s</text>
<text x="207.9" y="208.5" font-size="6.2" font-family="'Liberation Sans', Arial, sans-serif" font-weight="normal" text-anchor="start" fill="#383838" stroke="#383838" stroke-width="0.25" letter-spacing="0.15"><tspan>CF</tspan><tspan dy="1.5" font-size="6.2">3</tspan><tspan dy="-1.5">-O/C-O-C</tspan></text>
<text x="298.2" y="193.5" font-size="6.2" font-family="'Liberation Sans', Arial, sans-serif" font-weight="normal" text-anchor="start" fill="#383838" stroke="#383838" stroke-width="0.25" letter-spacing="0.15"><tspan>CF-O/C-O-C</tspan></text>
<text x="308.1" y="231.8" font-size="6.2" font-family="'Liberation Sans', Arial, sans-serif" font-weight="normal" text-anchor="start" fill="#383838" stroke="#383838" stroke-width="0.25" letter-spacing="0.15"><tspan>S=O/S-O</tspan></text>
<text x="313.3" y="253.8" font-size="6.2" font-family="'Liberation Sans', Arial, sans-serif" font-weight="normal" text-anchor="start" fill="#383838" stroke="#383838" stroke-width="0.25" letter-spacing="0.15"><tspan>-OH</tspan></text>
<line x1="306.2" y1="231.6" x2="275.1" y2="261.8" stroke="#333" stroke-width="0.5"/>
<path d="M306.2,231.6 L305.3,234 L303.7,232.4 Z" fill="#222"/>
<line x1="312.2" y1="254" x2="293.2" y2="270.5" stroke="#333" stroke-width="0.5"/>
<path d="M312.2,254 L311.2,256.4 L309.7,254.7 Z" fill="#222"/>
<g clip-path="url(#c23)">
<path d="M374,273.4 L374,273 374.8,273 375.5,272.9 376.2,272.9 377,272.9 377.8,272.9 378.5,272.9 379.2,272.9 380,272.9 380.8,272.9 381.5,272.9 382.2,272.9 383,272.8 383.8,272.8 384.5,272.8 385.2,272.8 386,272.8 386.8,272.8 387.5,272.8 388.2,272.8 389,272.7 389.8,272.7 390.5,272.7 391.2,272.7 392,272.7 392.8,272.7 393.5,272.6 394.2,272.6 395,272.6 395.8,272.6 396.5,272.6 397.2,272.5 398,272.5 398.8,272.5 399.5,272.5 400.2,272.4 401,272.4 401.8,272.4 402.5,272.4 403.2,272.3 404,272.3 404.8,272.3 405.5,272.2 406.2,272.2 407,272.2 407.8,272.1 408.5,272.1 409.2,272 410,272 410.8,271.9 411.5,271.9 412.2,271.8 413,271.8 413.8,271.7 414.5,271.6 415.2,271.6 416,271.5 416.8,271.4 417.5,271.4 418.2,271.3 419,271.2 419.8,271.1 420.5,271 421.2,270.8 422,270.7 422.8,270.6 423.5,270.4 424.2,270.2 425,270 425.8,269.8 426.5,269.5 427.2,269.1 428,268.8 428.8,268.3 429.5,267.8 430.2,267.2 431,266.5 431.8,265.6 432.5,264.7 433.2,263.5 434,262.2 434.8,260.7 435.5,259 436.2,257.1 437,254.9 437.8,252.4 438.5,249.7 439.2,246.7 440,243.4 440.8,239.8 441.5,236 442.2,231.9 443,227.6 443.8,223.2 444.5,218.6 445.2,213.9 446,209.2 446.8,204.5 447.5,200 448.2,195.8 449,191.8 449.8,188.4 450.5,185.4 451.2,183.1 452,181.6 452.8,180.8 453.5,180.8 454.2,181.7 455,183.3 455.8,185.6 456.5,188.6 457.2,192.1 458,196 458.8,200.3 459.5,204.8 460.2,209.5 461,214.2 461.8,218.9 462.5,223.5 463.2,227.9 464,232.2 464.8,236.3 465.5,240.1 466.2,243.6 467,246.9 467.8,249.9 468.5,252.6 469.2,255.1 470,257.2 470.8,259.2 471.5,260.8 472.2,262.3 473,263.6 473.8,264.7 474.5,265.7 475.2,266.5 476,267.2 476.8,267.8 477.5,268.4 478.2,268.8 479,269.2 479.8,269.5 480.5,269.8 481.2,270 482,270.2 482.8,270.4 483.5,270.6 484.2,270.7 485,270.9 485.8,271 486.5,271.1 487.2,271.2 488,271.3 488.8,271.4 489.5,271.4 490.2,271.5 491,271.6 491.8,271.7 492.5,271.7 493.2,271.8 494,271.8 494.8,271.9 495.5,271.9 496.2,272 497,272 497.8,272.1 498.5,272.1 499.2,272.2 500,272.2 500.8,272.2 501.5,272.3 502.2,272.3 503,272.3 503.8,272.4 504.5,272.4 505.2,272.4 506,272.4 506.8,272.5 507.5,272.5 508.2,272.5 509,272.5 509.8,272.6 510.5,272.6 511.2,272.6 512,272.6 512.8,272.6 513.5,272.7 514.2,272.7 515,272.7 515.8,272.7 516.5,272.7 517.2,272.7 518,272.8 518.8,272.8 519.5,272.8 520.2,272.8 521,272.8 521.8,272.8 522.5,272.8 523.2,272.8 524,272.9 524.8,272.9 525.5,272.9 526.2,272.9 527,272.9 527.8,272.9 528.5,272.9 529.2,272.9 530,272.9 530.8,272.9 531.5,273 532.2,273 533,273 533.8,273 534.5,273 535.2,273 536,273 536.8,273 537.5,273 538.2,273 L538.2,273.4 Z" fill="url(#g19)"/>
<path d="M425.8,273.4 L425.8,273.3 426.5,273.3 427.2,273.3 428,273.3 428.8,273.3 429.5,273.3 430.2,273.2 431,273.2 431.8,273.1 432.5,273.1 433.2,273 434,272.9 434.8,272.7 435.5,272.6 436.2,272.4 437,272.1 437.8,271.8 438.5,271.5 439.2,271.2 440,270.8 440.8,270.3 441.5,269.9 442.2,269.4 443,268.9 443.8,268.4 444.5,267.9 445.2,267.4 446,266.9 446.8,266.5 447.5,266.2 448.2,266 449,265.8 449.8,265.7 450.5,265.7 451.2,265.8 452,266 452.8,266.3 453.5,266.7 454.2,267.1 455,267.5 455.8,268 456.5,268.5 457.2,269 458,269.5 458.8,270 459.5,270.5 460.2,270.9 461,271.3 461.8,271.6 462.5,271.9 463.2,272.2 464,272.4 464.8,272.6 465.5,272.8 466.2,272.9 467,273 467.8,273.1 468.5,273.2 469.2,273.2 470,273.3 470.8,273.3 471.5,273.3 472.2,273.3 473,273.3 473.8,273.3 L473.8,273.4 Z" fill="url(#g20)"/>
<path d="M432.5,273.1 433.2,273 434,272.9 434.8,272.7 435.5,272.6 436.2,272.4 437,272.1 437.8,271.8 438.5,271.5 439.2,271.2 440,270.8 440.8,270.3 441.5,269.9 442.2,269.4 443,268.9 443.8,268.4 444.5,267.9 445.2,267.4 446,266.9 446.8,266.5 447.5,266.2 448.2,266 449,265.8 449.8,265.7 450.5,265.7 451.2,265.8 452,266 452.8,266.3 453.5,266.7 454.2,267.1 455,267.5 455.8,268 456.5,268.5 457.2,269 458,269.5 458.8,270 459.5,270.5 460.2,270.9 461,271.3 461.8,271.6 462.5,271.9 463.2,272.2 464,272.4 464.8,272.6 465.5,272.8 466.2,272.9 467,273 467.8,273.1" fill="none" stroke="#2040ff" stroke-width="0.5"/>
<path d="M416.8,273.4 L416.8,273.3 417.5,273.3 418.2,273.3 419,273.3 419.8,273.3 420.5,273.3 421.2,273.3 422,273.3 422.8,273.3 423.5,273.3 424.2,273.3 425,273.3 425.8,273.3 426.5,273.3 427.2,273.3 428,273.3 428.8,273.2 429.5,273.2 430.2,273.2 431,273.2 431.8,273.2 432.5,273.2 433.2,273.1 434,273.1 434.8,273.1 435.5,273.1 436.2,273 437,273 437.8,273 438.5,272.9 439.2,272.9 440,272.8 440.8,272.8 441.5,272.7 442.2,272.7 443,272.6 443.8,272.6 444.5,272.5 445.2,272.5 446,272.4 446.8,272.3 447.5,272.3 448.2,272.2 449,272.1 449.8,272.1 450.5,272 451.2,272 452,271.9 452.8,271.8 453.5,271.8 454.2,271.7 455,271.7 455.8,271.6 456.5,271.6 457.2,271.5 458,271.5 458.8,271.5 459.5,271.4 460.2,271.4 461,271.4 461.8,271.4 462.5,271.4 463.2,271.4 464,271.4 464.8,271.4 465.5,271.5 466.2,271.5 467,271.5 467.8,271.6 468.5,271.6 469.2,271.7 470,271.7 470.8,271.8 471.5,271.9 472.2,271.9 473,272 473.8,272 474.5,272.1 475.2,272.2 476,272.2 476.8,272.3 477.5,272.4 478.2,272.4 479,272.5 479.8,272.5 480.5,272.6 481.2,272.6 482,272.7 482.8,272.8 483.5,272.8 484.2,272.8 485,272.9 485.8,272.9 486.5,273 487.2,273 488,273 488.8,273.1 489.5,273.1 490.2,273.1 491,273.1 491.8,273.2 492.5,273.2 493.2,273.2 494,273.2 494.8,273.2 495.5,273.2 496.2,273.3 497,273.3 497.8,273.3 498.5,273.3 499.2,273.3 500,273.3 500.8,273.3 501.5,273.3 502.2,273.3 503,273.3 503.8,273.3 504.5,273.3 505.2,273.3 506,273.3 506.8,273.3 L506.8,273.4 Z" fill="url(#g21)"/>
<path d="M434.8,273.1 435.5,273.1 436.2,273 437,273 437.8,273 438.5,272.9 439.2,272.9 440,272.8 440.8,272.8 441.5,272.7 442.2,272.7 443,272.6 443.8,272.6 444.5,272.5 445.2,272.5 446,272.4 446.8,272.3 447.5,272.3 448.2,272.2 449,272.1 449.8,272.1 450.5,272 451.2,272 452,271.9 452.8,271.8 453.5,271.8 454.2,271.7 455,271.7 455.8,271.6 456.5,271.6 457.2,271.5 458,271.5 458.8,271.5 459.5,271.4 460.2,271.4 461,271.4 461.8,271.4 462.5,271.4 463.2,271.4 464,271.4 464.8,271.4 465.5,271.5 466.2,271.5 467,271.5 467.8,271.6 468.5,271.6 469.2,271.7 470,271.7 470.8,271.8 471.5,271.9 472.2,271.9 473,272 473.8,272 474.5,272.1 475.2,272.2 476,272.2 476.8,272.3 477.5,272.4 478.2,272.4 479,272.5 479.8,272.5 480.5,272.6 481.2,272.6 482,272.7 482.8,272.8 483.5,272.8 484.2,272.8 485,272.9 485.8,272.9 486.5,273 487.2,273 488,273 488.8,273.1 489.5,273.1" fill="none" stroke="#206030" stroke-width="0.4"/>
<path d="M374,273.2 374.8,273.2 375.5,273.2 376.2,273.2 377,273.2 377.8,273.2 378.5,273.2 379.2,273.2 380,273.2 380.8,273.2 381.5,273.2 382.2,273.1 383,273.1 383.8,273.1 384.5,273.1 385.2,273.1 386,273.1 386.8,273.1 387.5,273.1 388.2,273.1 389,273.1 389.8,273.1 390.5,273.1 391.2,273.1 392,273.1 392.8,273.1 393.5,273 394.2,273 395,273 395.8,273 396.5,273 397.2,273 398,273 398.8,273 399.5,273 400.2,273 401,272.9 401.8,272.9 402.5,272.9 403.2,272.9 404,272.9 404.8,272.9 405.5,272.9 406.2,272.8 407,272.8 407.8,272.8 408.5,272.8 409.2,272.8 410,272.7 410.8,272.7 411.5,272.7 412.2,272.7 413,272.6 413.8,272.6 414.5,272.6 415.2,272.6 416,272.5 416.8,272.5 417.5,272.4 418.2,272.4 419,272.3 419.8,272.3 420.5,272.2 421.2,272.1 422,272.1 422.8,272 423.5,271.8 424.2,271.7 425,271.5 425.8,271.3 426.5,271 427.2,270.7 428,270.3 428.8,269.9 429.5,269.3 430.2,268.6 431,267.8 431.8,266.9 432.5,265.7 433.2,264.4 434,262.9 434.8,261.1 435.5,259.1 436.2,256.7 437,254.1 437.8,251.2 438.5,247.9 439.2,244.4 440,240.5 440.8,236.2 441.5,231.8 442.2,227 443,222 443.8,216.9 444.5,211.7 445.2,206.4 446,201.1 446.8,196 447.5,191.1 448.2,186.5 449,182.3 449.8,178.6 450.5,175.4 451.2,173 452,171.2 452.8,170.2 453.5,170 454.2,170.6 455,172.1 455.8,174.2 456.5,177 457.2,180.5 458,184.5 458.8,188.9 459.5,193.7 460.2,198.7 461,203.9 461.8,209.2 462.5,214.5 463.2,219.7 464,224.7 464.8,229.6 465.5,234.2 466.2,238.5 467,242.6 467.8,246.3 468.5,249.7 469.2,252.8 470,255.6 470.8,258 471.5,260.2 472.2,262.1 473,263.7 473.8,265.1 474.5,266.4 475.2,267.4 476,268.3 476.8,269 477.5,269.6 478.2,270.1 479,270.5 479.8,270.9 480.5,271.2 481.2,271.4 482,271.6 482.8,271.8 483.5,271.9 484.2,272 485,272.1 485.8,272.2 486.5,272.3 487.2,272.3 488,272.4 488.8,272.4 489.5,272.5 490.2,272.5 491,272.5 491.8,272.6 492.5,272.6 493.2,272.6 494,272.7 494.8,272.7 495.5,272.7 496.2,272.7 497,272.8 497.8,272.8 498.5,272.8 499.2,272.8 500,272.8 500.8,272.8 501.5,272.9 502.2,272.9 503,272.9 503.8,272.9 504.5,272.9 505.2,272.9 506,272.9 506.8,273 507.5,273 508.2,273 509,273 509.8,273 510.5,273 511.2,273 512,273 512.8,273 513.5,273.1 514.2,273.1 515,273.1 515.8,273.1 516.5,273.1 517.2,273.1 518,273.1 518.8,273.1 519.5,273.1 520.2,273.1 521,273.1 521.8,273.1 522.5,273.1 523.2,273.1 524,273.1 524.8,273.1 525.5,273.2 526.2,273.2 527,273.2 527.8,273.2 528.5,273.2 529.2,273.2 530,273.2 530.8,273.2 531.5,273.2 532.2,273.2 533,273.2 533.8,273.2 534.5,273.2 535.2,273.2 536,273.2 536.8,273.2 537.5,273.2 538.2,273.2" fill="none" stroke="#1a1a8c" stroke-width="1.6" stroke-linejoin="round"/>
</g>
<rect x="374" y="154.7" width="164.5" height="120.3" fill="none" stroke="#2a2a2a" stroke-width="1.4"/>
<line x1="374" y1="275" x2="374" y2="277.6" stroke="#2a2a2a" stroke-width="1"/>
<text x="374" y="283.5" font-size="5.4" font-family="'Liberation Serif', 'Times New Roman', serif" font-weight="bold" text-anchor="middle" fill="#333" textLength="6.6" lengthAdjust="spacingAndGlyphs">696</text>
<line x1="385" y1="275" x2="385" y2="276.6" stroke="#2a2a2a" stroke-width="1"/>
<line x1="395.9" y1="275" x2="395.9" y2="277.6" stroke="#2a2a2a" stroke-width="1"/>
<text x="395.9" y="283.5" font-size="5.4" font-family="'Liberation Serif', 'Times New Roman', serif" font-weight="bold" text-anchor="middle" fill="#333" textLength="6.6" lengthAdjust="spacingAndGlyphs">694</text>
<line x1="406.9" y1="275" x2="406.9" y2="276.6" stroke="#2a2a2a" stroke-width="1"/>
<line x1="417.9" y1="275" x2="417.9" y2="277.6" stroke="#2a2a2a" stroke-width="1"/>
<text x="417.9" y="283.5" font-size="5.4" font-family="'Liberation Serif', 'Times New Roman', serif" font-weight="bold" text-anchor="middle" fill="#333" textLength="6.6" lengthAdjust="spacingAndGlyphs">692</text>
<line x1="428.8" y1="275" x2="428.8" y2="276.6" stroke="#2a2a2a" stroke-width="1"/>
<line x1="439.8" y1="275" x2="439.8" y2="277.6" stroke="#2a2a2a" stroke-width="1"/>
<text x="439.8" y="283.5" font-size="5.4" font-family="'Liberation Serif', 'Times New Roman', serif" font-weight="bold" text-anchor="middle" fill="#333" textLength="6.6" lengthAdjust="spacingAndGlyphs">690</text>
<line x1="450.8" y1="275" x2="450.8" y2="276.6" stroke="#2a2a2a" stroke-width="1"/>
<line x1="461.7" y1="275" x2="461.7" y2="277.6" stroke="#2a2a2a" stroke-width="1"/>
<text x="461.7" y="283.5" font-size="5.4" font-family="'Liberation Serif', 'Times New Roman', serif" font-weight="bold" text-anchor="middle" fill="#333" textLength="6.6" lengthAdjust="spacingAndGlyphs">688</text>
<line x1="472.7" y1="275" x2="472.7" y2="276.6" stroke="#2a2a2a" stroke-width="1"/>
<line x1="483.7" y1="275" x2="483.7" y2="277.6" stroke="#2a2a2a" stroke-width="1"/>
<text x="483.7" y="283.5" font-size="5.4" font-family="'Liberation Serif', 'Times New Roman', serif" font-weight="bold" text-anchor="middle" fill="#333" textLength="6.6" lengthAdjust="spacingAndGlyphs">686</text>
<line x1="494.6" y1="275" x2="494.6" y2="276.6" stroke="#2a2a2a" stroke-width="1"/>
<line x1="505.6" y1="275" x2="505.6" y2="277.6" stroke="#2a2a2a" stroke-width="1"/>
<text x="505.6" y="283.5" font-size="5.4" font-family="'Liberation Serif', 'Times New Roman', serif" font-weight="bold" text-anchor="middle" fill="#333" textLength="6.6" lengthAdjust="spacingAndGlyphs">684</text>
<line x1="516.6" y1="275" x2="516.6" y2="276.6" stroke="#2a2a2a" stroke-width="1"/>
<line x1="527.5" y1="275" x2="527.5" y2="277.6" stroke="#2a2a2a" stroke-width="1"/>
<text x="527.5" y="283.5" font-size="5.4" font-family="'Liberation Serif', 'Times New Roman', serif" font-weight="bold" text-anchor="middle" fill="#333" textLength="6.6" lengthAdjust="spacingAndGlyphs">682</text>
<line x1="538.5" y1="275" x2="538.5" y2="276.6" stroke="#2a2a2a" stroke-width="1"/>
<text x="456.2" y="292.5" font-size="5.9" font-family="'Liberation Serif', 'Times New Roman', serif" font-weight="bold" text-anchor="middle" fill="#333" stroke="#333" stroke-width="0.15" letter-spacing="0.06">Binding Energy (<tspan font-style="italic">eV</tspan>)</text>
<text transform="translate(368.1,214.6) rotate(-90)" font-size="6.1" font-family="'Liberation Serif', 'Times New Roman', serif" font-weight="bold" text-anchor="middle" fill="#333">Counts/s</text>
<text x="377.1" y="163.7" font-size="7.5" font-family="'Liberation Sans', Arial, sans-serif" font-weight="normal" text-anchor="start" fill="#333" stroke="#333" stroke-width="0.15">(f)</text>
<text x="536.6" y="163" font-size="7.2" font-family="'Liberation Sans', Arial, sans-serif" font-weight="normal" text-anchor="end" fill="#333" stroke="#333" stroke-width="0.18">F 1s</text>
<text x="446.2" y="218.5" font-size="6.2" font-family="'Liberation Sans', Arial, sans-serif" font-weight="normal" text-anchor="start" fill="#383838" stroke="#383838" stroke-width="0.25" letter-spacing="0.15"><tspan>F</tspan><tspan dy="1.5" font-size="6.2">2</tspan><tspan dy="-1.5">-C</tspan></text>
<text x="475.5" y="258" font-size="6.2" font-family="'Liberation Sans', Arial, sans-serif" font-weight="normal" text-anchor="start" fill="#383838" stroke="#383838" stroke-width="0.25" letter-spacing="0.15"><tspan>F-C</tspan></text>
<text x="481.8" y="267" font-size="6.2" font-family="'Liberation Sans', Arial, sans-serif" font-weight="normal" text-anchor="start" fill="#383838" stroke="#383838" stroke-width="0.25" letter-spacing="0.15"><tspan>F</tspan><tspan dy="1.5" font-size="6.2">3</tspan><tspan dy="-1.5">-C</tspan></text>
<line x1="473.6" y1="257.7" x2="453.6" y2="266.8" stroke="#333" stroke-width="0.5"/>
<path d="M473.6,257.7 L471.9,259.7 L471,257.7 Z" fill="#222"/>
<line x1="480" y1="266.8" x2="462.7" y2="272.3" stroke="#333" stroke-width="0.5"/>
<path d="M480,266.8 L478.1,268.6 L477.4,266.5 Z" fill="#222"/>
<g clip-path="url(#c27)">
<path d="M15,420.5 L15,420.4 15.8,420.4 16.5,420.4 17.2,420.4 18,420.4 18.8,420.4 19.5,420.4 20.2,420.4 21,420.4 21.8,420.4 22.5,420.4 23.2,420.4 24,420.4 24.8,420.4 25.5,420.4 26.2,420.4 27,420.4 27.8,420.3 28.5,420.3 29.2,420.3 30,420.3 30.8,420.3 31.5,420.3 32.2,420.3 33,420.3 33.8,420.3 34.5,420.3 35.2,420.3 36,420.2 36.8,420.2 37.5,420.2 38.2,420.2 39,420.2 39.8,420.1 40.5,420.1 41.2,420 42,420 42.8,419.9 43.5,419.7 44.2,419.5 45,419.2 45.8,418.8 46.5,418.3 47.2,417.5 48,416.4 48.8,415.1 49.5,413.3 50.2,411 51,408.1 51.8,404.6 52.5,400.5 53.2,395.6 54,390.1 54.8,384 55.5,377.4 56.2,370.4 57,363.4 57.8,356.5 58.5,350.1 59.2,344.4 60,339.8 60.8,336.4 61.5,334.6 62.2,334.3 63,335.6 63.8,338.5 64.5,342.7 65.2,348.1 66,354.3 66.8,361.1 67.5,368.1 68.2,375.1 69,381.8 69.8,388.1 70.5,393.8 71.2,398.9 72,403.3 72.8,407 73.5,410.1 74.2,412.6 75,414.5 75.8,416 76.5,417.2 77.2,418 78,418.7 78.8,419.1 79.5,419.4 80.2,419.7 81,419.8 81.8,419.9 82.5,420 83.2,420.1 84,420.1 84.8,420.2 85.5,420.2 86.2,420.2 87,420.2 87.8,420.2 88.5,420.3 89.2,420.3 90,420.3 90.8,420.3 91.5,420.3 92.2,420.3 93,420.3 93.8,420.3 94.5,420.3 95.2,420.3 96,420.3 96.8,420.4 97.5,420.4 98.2,420.4 99,420.4 99.8,420.4 100.5,420.4 101.2,420.4 102,420.4 102.8,420.4 103.5,420.4 104.2,420.4 105,420.4 105.8,420.4 106.5,420.4 107.2,420.4 108,420.4 108.8,420.4 109.5,420.4 110.2,420.4 111,420.4 111.8,420.4 112.5,420.4 113.2,420.4 114,420.4 114.8,420.4 115.5,420.4 116.2,420.4 117,420.4 117.8,420.4 118.5,420.4 119.2,420.4 120,420.4 120.8,420.4 121.5,420.4 L121.5,420.5 Z" fill="url(#g22)"/>
<path d="M122.2,420.5 L122.2,420.4 123,420.4 123.8,420.4 124.5,420.3 125.2,420.2 126,420.1 126.8,419.9 127.5,419.6 128.2,419.3 129,418.8 129.8,418.1 130.5,417.3 131.2,416.2 132,414.8 132.8,413 133.5,410.9 134.2,408.2 135,405.1 135.8,401.4 136.5,397.2 137.2,392.4 138,387.1 138.8,381.3 139.5,375.1 140.2,368.6 141,362 141.8,355.3 142.5,348.9 143.2,342.9 144,337.6 144.8,333 145.5,329.4 146.2,326.9 147,325.6 147.8,325.5 148.5,326.6 149.2,328.8 150,332 150.8,336.2 151.5,341.1 152.2,346.6 153,352.5 153.8,358.7 154.5,365 155.2,371.3 156,377.4 156.8,383.2 157.5,388.6 158.2,393.5 159,398 159.8,401.9 160.5,405.3 161.2,408.3 162,410.8 162.8,412.9 163.5,414.6 164.2,415.9 165,417 165.8,417.9 166.5,418.6 167.2,419.1 168,419.5 168.8,419.8 169.5,420 170.2,420.1 171,420.3 171.8,420.3 172.5,420.4 173.2,420.4 L173.2,420.5 Z" fill="url(#g23)"/>
<path d="M126,420.1 126.8,419.9 127.5,419.6 128.2,419.3 129,418.8 129.8,418.1 130.5,417.3 131.2,416.2 132,414.8 132.8,413 133.5,410.9 134.2,408.2 135,405.1 135.8,401.4 136.5,397.2 137.2,392.4 138,387.1 138.8,381.3 139.5,375.1 140.2,368.6 141,362 141.8,355.3 142.5,348.9 143.2,342.9 144,337.6 144.8,333 145.5,329.4 146.2,326.9 147,325.6 147.8,325.5 148.5,326.6 149.2,328.8 150,332 150.8,336.2 151.5,341.1 152.2,346.6 153,352.5 153.8,358.7 154.5,365 155.2,371.3 156,377.4 156.8,383.2 157.5,388.6 158.2,393.5 159,398 159.8,401.9 160.5,405.3 161.2,408.3 162,410.8 162.8,412.9 163.5,414.6 164.2,415.9 165,417 165.8,417.9 166.5,418.6 167.2,419.1 168,419.5 168.8,419.8 169.5,420 170.2,420.1" fill="none" stroke="#4030c0" stroke-width="0.4"/>
<path d="M15,420.5 L15,416.1 15.8,416 16.5,416 17.2,415.9 18,415.9 18.8,415.8 19.5,415.7 20.2,415.7 21,415.6 21.8,415.5 22.5,415.3 23.2,415.2 24,415.1 24.8,414.9 25.5,414.8 26.2,414.6 27,414.4 27.8,414.2 28.5,414 29.2,413.7 30,413.5 30.8,413.2 31.5,412.9 32.2,412.6 33,412.2 33.8,411.9 34.5,411.5 35.2,411.1 36,410.7 36.8,410.3 37.5,409.8 38.2,409.4 39,408.9 39.8,408.5 40.5,408 41.2,407.5 42,407 42.8,406.5 43.5,406 44.2,405.5 45,404.9 45.8,404.4 46.5,403.9 47.2,403.4 48,402.9 48.8,402.4 49.5,401.9 50.2,401.5 51,401 51.8,400.6 52.5,400.2 53.2,399.8 54,399.5 54.8,399.2 55.5,398.9 56.2,398.7 57,398.5 57.8,398.4 58.5,398.3 59.2,398.3 60,398.3 60.8,398.4 61.5,398.6 62.2,398.7 63,399 63.8,399.3 64.5,399.6 65.2,400 66,400.4 66.8,400.9 67.5,401.4 68.2,401.9 69,402.4 69.8,403 70.5,403.6 71.2,404.2 72,404.8 72.8,405.5 73.5,406.1 74.2,406.7 75,407.4 75.8,408 76.5,408.7 77.2,409.3 78,409.9 78.8,410.5 79.5,411.1 80.2,411.7 81,412.2 81.8,412.8 82.5,413.3 83.2,413.8 84,414.2 84.8,414.7 85.5,415.1 86.2,415.5 87,415.9 87.8,416.3 88.5,416.6 89.2,416.9 90,417.2 90.8,417.5 91.5,417.8 92.2,418 93,418.2 93.8,418.4 94.5,418.6 95.2,418.8 96,418.9 96.8,419.1 97.5,419.2 98.2,419.3 99,419.4 99.8,419.5 100.5,419.6 101.2,419.7 102,419.7 102.8,419.8 103.5,419.9 104.2,419.9 105,420 105.8,420 106.5,420 107.2,420.1 108,420.1 108.8,420.1 109.5,420.2 110.2,420.2 111,420.2 111.8,420.2 112.5,420.2 113.2,420.2 114,420.2 114.8,420.3 115.5,420.3 116.2,420.3 117,420.3 117.8,420.3 118.5,420.3 119.2,420.3 120,420.3 120.8,420.3 121.5,420.3 122.2,420.3 123,420.3 123.8,420.3 124.5,420.3 125.2,420.3 126,420.3 126.8,420.4 127.5,420.4 128.2,420.4 129,420.4 129.8,420.4 130.5,420.4 131.2,420.4 132,420.4 132.8,420.4 133.5,420.4 134.2,420.4 135,420.4 135.8,420.4 136.5,420.4 137.2,420.4 138,420.4 138.8,420.4 139.5,420.4 140.2,420.4 141,420.4 141.8,420.4 142.5,420.4 143.2,420.4 144,420.4 144.8,420.4 145.5,420.4 146.2,420.4 147,420.4 147.8,420.4 148.5,420.4 149.2,420.4 150,420.4 150.8,420.4 151.5,420.4 152.2,420.4 153,420.4 153.8,420.4 154.5,420.4 155.2,420.4 156,420.4 156.8,420.4 157.5,420.4 158.2,420.4 159,420.4 159.8,420.4 160.5,420.4 161.2,420.4 162,420.4 162.8,420.4 163.5,420.4 164.2,420.4 165,420.4 165.8,420.4 166.5,420.4 167.2,420.4 168,420.4 168.8,420.4 169.5,420.4 170.2,420.4 171,420.4 171.8,420.4 172.5,420.4 173.2,420.4 174,420.4 174.8,420.4 175.5,420.4 176.2,420.4 177,420.4 L177,420.5 Z" fill="url(#g24)"/>
<path d="M15,416.1 15.8,416 16.5,416 17.2,415.9 18,415.9 18.8,415.8 19.5,415.7 20.2,415.7 21,415.6 21.8,415.5 22.5,415.3 23.2,415.2 24,415.1 24.8,414.9 25.5,414.8 26.2,414.6 27,414.4 27.8,414.2 28.5,414 29.2,413.7 30,413.5 30.8,413.2 31.5,412.9 32.2,412.6 33,412.2 33.8,411.9 34.5,411.5 35.2,411.1 36,410.7 36.8,410.3 37.5,409.8 38.2,409.4 39,408.9 39.8,408.5 40.5,408 41.2,407.5 42,407 42.8,406.5 43.5,406 44.2,405.5 45,404.9 45.8,404.4 46.5,403.9 47.2,403.4 48,402.9 48.8,402.4 49.5,401.9 50.2,401.5 51,401 51.8,400.6 52.5,400.2 53.2,399.8 54,399.5 54.8,399.2 55.5,398.9 56.2,398.7 57,398.5 57.8,398.4 58.5,398.3 59.2,398.3 60,398.3 60.8,398.4 61.5,398.6 62.2,398.7 63,399 63.8,399.3 64.5,399.6 65.2,400 66,400.4 66.8,400.9 67.5,401.4 68.2,401.9 69,402.4 69.8,403 70.5,403.6 71.2,404.2 72,404.8 72.8,405.5 73.5,406.1 74.2,406.7 75,407.4 75.8,408 76.5,408.7 77.2,409.3 78,409.9 78.8,410.5 79.5,411.1 80.2,411.7 81,412.2 81.8,412.8 82.5,413.3 83.2,413.8 84,414.2 84.8,414.7 85.5,415.1 86.2,415.5 87,415.9 87.8,416.3 88.5,416.6 89.2,416.9 90,417.2 90.8,417.5 91.5,417.8 92.2,418 93,418.2 93.8,418.4 94.5,418.6 95.2,418.8 96,418.9 96.8,419.1 97.5,419.2 98.2,419.3 99,419.4 99.8,419.5 100.5,419.6 101.2,419.7 102,419.7 102.8,419.8 103.5,419.9 104.2,419.9 105,420 105.8,420 106.5,420 107.2,420.1 108,420.1 108.8,420.1 109.5,420.2 110.2,420.2 111,420.2" fill="none" stroke="#e08040" stroke-width="0.4"/>
<path d="M76.5,420.5 L76.5,420.4 77.2,420.4 78,420.4 78.8,420.4 79.5,420.4 80.2,420.4 81,420.4 81.8,420.4 82.5,420.4 83.2,420.4 84,420.4 84.8,420.4 85.5,420.4 86.2,420.4 87,420.4 87.8,420.4 88.5,420.4 89.2,420.4 90,420.4 90.8,420.4 91.5,420.4 92.2,420.4 93,420.4 93.8,420.4 94.5,420.4 95.2,420.3 96,420.3 96.8,420.3 97.5,420.3 98.2,420.3 99,420.2 99.8,420.2 100.5,420.1 101.2,420 102,420 102.8,419.8 103.5,419.7 104.2,419.6 105,419.4 105.8,419.2 106.5,418.9 107.2,418.6 108,418.3 108.8,417.9 109.5,417.5 110.2,417 111,416.5 111.8,415.9 112.5,415.3 113.2,414.7 114,414 114.8,413.3 115.5,412.6 116.2,411.9 117,411.2 117.8,410.5 118.5,409.8 119.2,409.2 120,408.7 120.8,408.3 121.5,407.9 122.2,407.7 123,407.5 123.8,407.5 124.5,407.6 125.2,407.8 126,408.1 126.8,408.5 127.5,409 128.2,409.6 129,410.3 129.8,410.9 130.5,411.6 131.2,412.3 132,413.1 132.8,413.8 133.5,414.5 134.2,415.1 135,415.7 135.8,416.3 136.5,416.9 137.2,417.3 138,417.8 138.8,418.2 139.5,418.5 140.2,418.8 141,419.1 141.8,419.3 142.5,419.5 143.2,419.7 144,419.8 144.8,419.9 145.5,420 146.2,420.1 147,420.1 147.8,420.2 148.5,420.2 149.2,420.3 150,420.3 150.8,420.3 151.5,420.3 152.2,420.4 153,420.4 153.8,420.4 154.5,420.4 155.2,420.4 156,420.4 156.8,420.4 157.5,420.4 158.2,420.4 159,420.4 159.8,420.4 160.5,420.4 161.2,420.4 162,420.4 162.8,420.4 163.5,420.4 164.2,420.4 165,420.4 165.8,420.4 166.5,420.4 167.2,420.4 168,420.4 168.8,420.4 169.5,420.4 170.2,420.4 171,420.4 L171,420.5 Z" fill="url(#g25)"/>
<path d="M99.8,420.2 100.5,420.1 101.2,420 102,420 102.8,419.8 103.5,419.7 104.2,419.6 105,419.4 105.8,419.2 106.5,418.9 107.2,418.6 108,418.3 108.8,417.9 109.5,417.5 110.2,417 111,416.5 111.8,415.9 112.5,415.3 113.2,414.7 114,414 114.8,413.3 115.5,412.6 116.2,411.9 117,411.2 117.8,410.5 118.5,409.8 119.2,409.2 120,408.7 120.8,408.3 121.5,407.9 122.2,407.7 123,407.5 123.8,407.5 124.5,407.6 125.2,407.8 126,408.1 126.8,408.5 127.5,409 128.2,409.6 129,410.3 129.8,410.9 130.5,411.6 131.2,412.3 132,413.1 132.8,413.8 133.5,414.5 134.2,415.1 135,415.7 135.8,416.3 136.5,416.9 137.2,417.3 138,417.8 138.8,418.2 139.5,418.5 140.2,418.8 141,419.1 141.8,419.3 142.5,419.5 143.2,419.7 144,419.8 144.8,419.9 145.5,420 146.2,420.1 147,420.1 147.8,420.2" fill="none" stroke="#d03030" stroke-width="0.4"/>
<path d="M70.5,420.5 L70.5,420.4 71.2,420.4 72,420.4 72.8,420.4 73.5,420.3 74.2,420.3 75,420.2 75.8,420.2 76.5,420.1 77.2,420 78,419.8 78.8,419.7 79.5,419.5 80.2,419.3 81,419 81.8,418.8 82.5,418.5 83.2,418.1 84,417.7 84.8,417.3 85.5,416.8 86.2,416.4 87,415.8 87.8,415.3 88.5,414.7 89.2,414.1 90,413.6 90.8,413 91.5,412.4 92.2,411.9 93,411.4 93.8,411 94.5,410.6 95.2,410.3 96,410 96.8,409.8 97.5,409.7 98.2,409.7 99,409.8 99.8,409.9 100.5,410.2 101.2,410.5 102,410.8 102.8,411.3 103.5,411.7 104.2,412.3 105,412.8 105.8,413.4 106.5,414 107.2,414.5 108,415.1 108.8,415.7 109.5,416.2 110.2,416.7 111,417.2 111.8,417.6 112.5,418 113.2,418.3 114,418.7 114.8,419 115.5,419.2 116.2,419.4 117,419.6 117.8,419.8 118.5,419.9 119.2,420 120,420.1 120.8,420.2 121.5,420.3 122.2,420.3 123,420.4 123.8,420.4 124.5,420.4 125.2,420.4 L125.2,420.5 Z" fill="url(#g26)"/>
<path d="M75.8,420.2 76.5,420.1 77.2,420 78,419.8 78.8,419.7 79.5,419.5 80.2,419.3 81,419 81.8,418.8 82.5,418.5 83.2,418.1 84,417.7 84.8,417.3 85.5,416.8 86.2,416.4 87,415.8 87.8,415.3 88.5,414.7 89.2,414.1 90,413.6 90.8,413 91.5,412.4 92.2,411.9 93,411.4 93.8,411 94.5,410.6 95.2,410.3 96,410 96.8,409.8 97.5,409.7 98.2,409.7 99,409.8 99.8,409.9 100.5,410.2 101.2,410.5 102,410.8 102.8,411.3 103.5,411.7 104.2,412.3 105,412.8 105.8,413.4 106.5,414 107.2,414.5 108,415.1 108.8,415.7 109.5,416.2 110.2,416.7 111,417.2 111.8,417.6 112.5,418 113.2,418.3 114,418.7 114.8,419 115.5,419.2 116.2,419.4 117,419.6 117.8,419.8 118.5,419.9 119.2,420 120,420.1" fill="none" stroke="#106010" stroke-width="0.4"/>
<path d="M102.8,420.5 L102.8,420.4 103.5,420.4 104.2,420.4 105,420.4 105.8,420.4 106.5,420.4 107.2,420.4 108,420.4 108.8,420.4 109.5,420.4 110.2,420.4 111,420.4 111.8,420.4 112.5,420.4 113.2,420.4 114,420.4 114.8,420.3 115.5,420.3 116.2,420.3 117,420.2 117.8,420.1 118.5,420 119.2,419.9 120,419.7 120.8,419.5 121.5,419.2 122.2,418.9 123,418.5 123.8,417.9 124.5,417.3 125.2,416.6 126,415.7 126.8,414.7 127.5,413.6 128.2,412.3 129,411 129.8,409.6 130.5,408.1 131.2,406.7 132,405.2 132.8,403.8 133.5,402.5 134.2,401.4 135,400.4 135.8,399.7 136.5,399.3 137.2,399.1 138,399.2 138.8,399.6 139.5,400.3 140.2,401.2 141,402.3 141.8,403.6 142.5,405 143.2,406.5 144,407.9 144.8,409.4 145.5,410.8 146.2,412.2 147,413.4 147.8,414.5 148.5,415.6 149.2,416.4 150,417.2 150.8,417.9 151.5,418.4 152.2,418.8 153,419.2 153.8,419.5 154.5,419.7 155.2,419.9 156,420 156.8,420.1 157.5,420.2 158.2,420.3 159,420.3 159.8,420.3 160.5,420.4 161.2,420.4 162,420.4 162.8,420.4 163.5,420.4 164.2,420.4 165,420.4 165.8,420.4 166.5,420.4 167.2,420.4 168,420.4 168.8,420.4 169.5,420.4 170.2,420.4 171,420.4 171.8,420.4 L171.8,420.5 Z" fill="url(#g27)"/>
<path d="M117.8,420.1 118.5,420 119.2,419.9 120,419.7 120.8,419.5 121.5,419.2 122.2,418.9 123,418.5 123.8,417.9 124.5,417.3 125.2,416.6 126,415.7 126.8,414.7 127.5,413.6 128.2,412.3 129,411 129.8,409.6 130.5,408.1 131.2,406.7 132,405.2 132.8,403.8 133.5,402.5 134.2,401.4 135,400.4 135.8,399.7 136.5,399.3 137.2,399.1 138,399.2 138.8,399.6 139.5,400.3 140.2,401.2 141,402.3 141.8,403.6 142.5,405 143.2,406.5 144,407.9 144.8,409.4 145.5,410.8 146.2,412.2 147,413.4 147.8,414.5 148.5,415.6 149.2,416.4 150,417.2 150.8,417.9 151.5,418.4 152.2,418.8 153,419.2 153.8,419.5 154.5,419.7 155.2,419.9 156,420 156.8,420.1" fill="none" stroke="#3060f0" stroke-width="0.5"/>
<path d="M15,415.9 15.8,415.9 16.5,416.1 17.2,416 18,415.9 18.8,415.8 19.5,415.5 20.2,415.2 21,415.3 21.8,415.5 22.5,415.3 23.2,415 24,415 24.8,414.9 25.5,414.7 26.2,414.4 27,414.1 27.8,414.1 28.5,414 29.2,413.4 30,413 30.8,412.8 31.5,412.5 32.2,412.1 33,411.6 33.8,411.3 34.5,411.2 35.2,410.9 36,410.4 36.8,409.9 37.5,409.5 38.2,409.3 39,409 39.8,408.1 40.5,407.3 41.2,406.7 42,406 42.8,405.6 43.5,405.1 44.2,404.3 45,403.5 45.8,402.5 46.5,401.5 47.2,400.2 48,398.7 48.8,398.1 49.5,398.6 50.2,397.3 51,394.1 51.8,389.6 52.5,383.8 53.2,376 54,369 54.8,362.8 55.5,355.7 56.2,348.2 57,341 57.8,334.1 58.5,327.7 59.2,321.8 60,316.8 60.8,313.5 61.5,311.8 62.2,311.7 63,312.8 63.8,315.3 64.5,319.4 65.2,324.8 66,331 66.8,337.7 67.5,344.4 68.2,351.5 69,358.7 69.8,365.4 70.5,371.7 71.2,379.9 72,386.9 72.8,391.9 73.5,396.4 74.2,399.6 75,402.1 75.8,404.2 76.5,405.5 77.2,406.4 78,407.1 78.8,407.8 79.5,408.7 80.2,409.6 81,410 81.8,410.1 82.5,410.2 83.2,410.4 84,410.6 84.8,410.6 85.5,410.4 86.2,410.6 87,410.8 87.8,410.6 88.5,410.3 89.2,410.3 90,410.2 90.8,409.9 91.5,409.6 92.2,409.2 93,408.8 93.8,408.1 94.5,407.7 95.2,407.6 96,407.3 96.8,407.3 97.5,407 98.2,407 99,407.3 99.8,407.5 100.5,407.6 101.2,408 102,408.4 102.8,408.5 103.5,408.8 104.2,409.3 105,409.5 105.8,409.8 106.5,410.3 107.2,410.4 108,410.6 108.8,410.3 109.5,409.6 110.2,409.3 111,409.2 111.8,409.1 112.5,409.1 113.2,408.9 114,408.7 114.8,408.2 115.5,407.6 116.2,407.1 117,406.7 117.8,406.3 118.5,405.9 119.2,405.5 120,405 120.8,404.5 121.5,404.1 122.2,403.8 123,403.4 123.8,402.8 124.5,402.4 125.2,402 126,401.4 126.8,400.6 127.5,399.7 128.2,398.6 129,397.3 129.8,395.9 130.5,394.6 131.2,392.7 132,389.9 132.8,387 133.5,384.5 134.2,381.9 135,378.8 135.8,374.9 136.5,369.8 137.2,364.9 138,360 138.8,354.7 139.5,349.3 140.2,344.6 141,339.8 141.8,334.8 142.5,329.9 143.2,325.5 144,321.6 144.8,318.3 145.5,315 146.2,312.9 147,312.8 147.8,314.4 148.5,317.1 149.2,320.5 150,324.1 150.8,328.2 151.5,333.2 152.2,339 153,346 153.8,353.7 154.5,363.7 155.2,371.1 156,375.8 156.8,379.7 157.5,384.3 158.2,390.1 159,395.8 159.8,400.3 160.5,403.4 161.2,406.2 162,409.1 162.8,411.5 163.5,413.7 164.2,415.6 165,417.3 165.8,418.6 166.5,419.5 167.2,419.9 168,419.9 168.8,420.2 169.5,420.5 170.2,420.6 171,420.7 171.8,420.9 172.5,421 173.2,421.1 174,420.7 174.8,420.3 175.5,420.4 176.2,420.4 177,420.4 177.8,420.6 178.5,420.5 179.2,420.4" fill="none" stroke="#111" stroke-width="0.9" stroke-linejoin="round"/>
<path d="M15,416 15.8,415.9 16.5,415.9 17.2,415.8 18,415.8 18.8,415.7 19.5,415.6 20.2,415.5 21,415.4 21.8,415.3 22.5,415.2 23.2,415.1 24,414.9 24.8,414.8 25.5,414.6 26.2,414.4 27,414.2 27.8,414 28.5,413.8 29.2,413.5 30,413.3 30.8,413 31.5,412.7 32.2,412.3 33,412 33.8,411.6 34.5,411.2 35.2,410.8 36,410.4 36.8,410 37.5,409.5 38.2,409.1 39,408.6 39.8,408.1 40.5,407.5 41.2,407 42,406.4 42.8,405.8 43.5,405.2 44.2,404.5 45,403.7 45.8,402.7 46.5,401.7 47.2,400.4 48,398.8 48.8,398 49.5,398.3 50.2,397 51,393.7 51.8,389.6 52.5,384.2 53.2,376.4 54,369.2 54.8,362.5 55.5,355.5 56.2,348.3 57,341 57.8,333.9 58.5,327.4 59.2,321.6 60,317 60.8,313.6 61.5,311.7 62.2,311.4 63,312.7 63.8,315.5 64.5,319.6 65.2,324.8 66,330.9 66.8,337.6 67.5,344.6 68.2,351.7 69,358.7 69.8,365.4 70.5,371.9 71.2,380 72,387.3 72.8,392.3 73.5,396.5 74.2,399.9 75,402.4 75.8,404.2 76.5,405.5 77.2,406.4 78,407.2 78.8,407.9 79.5,408.6 80.2,409.2 81,409.6 81.8,410 82.5,410.3 83.2,410.5 84,410.6 84.8,410.7 85.5,410.7 86.2,410.7 87,410.7 87.8,410.6 88.5,410.5 89.2,410.3 90,410.1 90.8,409.8 91.5,409.5 92.2,409.1 93,408.6 93.8,408.1 94.5,407.7 95.2,407.3 96,407.1 96.8,407 97.5,407 98.2,407.1 99,407.2 99.8,407.4 100.5,407.7 101.2,408 102,408.3 102.8,408.7 103.5,409.1 104.2,409.4 105,409.6 105.8,409.8 106.5,409.9 107.2,410 108,410 108.8,410 109.5,409.8 110.2,409.6 111,409.4 111.8,409.3 112.5,409.1 113.2,408.8 114,408.5 114.8,408.2 115.5,407.8 116.2,407.3 117,406.9 117.8,406.4 118.5,405.9 119.2,405.4 120,404.9 120.8,404.5 121.5,404.1 122.2,403.8 123,403.4 123.8,403 124.5,402.6 125.2,402.1 126,401.5 126.8,400.7 127.5,399.9 128.2,398.9 129,397.7 129.8,396.3 130.5,394.7 131.2,392.7 132,390.2 132.8,387.5 133.5,384.6 134.2,381.6 135,378.4 135.8,374.7 136.5,369.9 137.2,364.9 138,359.8 138.8,354.5 139.5,349.4 140.2,344.5 141,339.7 141.8,334.7 142.5,329.8 143.2,325.4 144,321.5 144.8,318.1 145.5,315 146.2,313 147,312.8 147.8,314.4 148.5,317 149.2,320.4 150,324.1 150.8,328 151.5,332.6 152.2,338.5 153,345.7 153.8,353.8 154.5,363.7 155.2,370.8 156,375.7 156.8,379.9 157.5,384.5 158.2,390 159,395.5 159.8,399.9 160.5,403.5 161.2,406.6 162,409.2 162.8,411.5 163.5,413.7 164.2,415.7 165,417.3 165.8,418.3 166.5,419.1 167.2,419.6 168,420 168.8,420.3 169.5,420.5 170.2,420.7 171,420.7 171.8,420.7 172.5,420.7 173.2,420.6 174,420.5 174.8,420.4 175.5,420.3 176.2,420.3 177,420.3 177.8,420.4 178.5,420.4 179.2,420.4" fill="none" stroke="#a01090" stroke-width="1.5" stroke-linejoin="round"/>
</g>
<rect x="15" y="301.5" width="164.5" height="120.3" fill="none" stroke="#2a2a2a" stroke-width="1.4"/>
<line x1="15" y1="421.8" x2="15" y2="424.4" stroke="#2a2a2a" stroke-width="1"/>
<text x="15" y="430.3" font-size="5.4" font-family="'Liberation Serif', 'Times New Roman', serif" font-weight="bold" text-anchor="middle" fill="#333" textLength="6.6" lengthAdjust="spacingAndGlyphs">296</text>
<line x1="26.8" y1="421.8" x2="26.8" y2="423.4" stroke="#2a2a2a" stroke-width="1"/>
<line x1="38.5" y1="421.8" x2="38.5" y2="424.4" stroke="#2a2a2a" stroke-width="1"/>
<text x="38.5" y="430.3" font-size="5.4" font-family="'Liberation Serif', 'Times New Roman', serif" font-weight="bold" text-anchor="middle" fill="#333" textLength="6.6" lengthAdjust="spacingAndGlyphs">294</text>
<line x1="50.2" y1="421.8" x2="50.2" y2="423.4" stroke="#2a2a2a" stroke-width="1"/>
<line x1="62" y1="421.8" x2="62" y2="424.4" stroke="#2a2a2a" stroke-width="1"/>
<text x="62" y="430.3" font-size="5.4" font-family="'Liberation Serif', 'Times New Roman', serif" font-weight="bold" text-anchor="middle" fill="#333" textLength="6.6" lengthAdjust="spacingAndGlyphs">292</text>
<line x1="73.8" y1="421.8" x2="73.8" y2="423.4" stroke="#2a2a2a" stroke-width="1"/>
<line x1="85.5" y1="421.8" x2="85.5" y2="424.4" stroke="#2a2a2a" stroke-width="1"/>
<text x="85.5" y="430.3" font-size="5.4" font-family="'Liberation Serif', 'Times New Roman', serif" font-weight="bold" text-anchor="middle" fill="#333" textLength="6.6" lengthAdjust="spacingAndGlyphs">290</text>
<line x1="97.2" y1="421.8" x2="97.2" y2="423.4" stroke="#2a2a2a" stroke-width="1"/>
<line x1="109" y1="421.8" x2="109" y2="424.4" stroke="#2a2a2a" stroke-width="1"/>
<text x="109" y="430.3" font-size="5.4" font-family="'Liberation Serif', 'Times New Roman', serif" font-weight="bold" text-anchor="middle" fill="#333" textLength="6.6" lengthAdjust="spacingAndGlyphs">288</text>
<line x1="120.8" y1="421.8" x2="120.8" y2="423.4" stroke="#2a2a2a" stroke-width="1"/>
<line x1="132.5" y1="421.8" x2="132.5" y2="424.4" stroke="#2a2a2a" stroke-width="1"/>
<text x="132.5" y="430.3" font-size="5.4" font-family="'Liberation Serif', 'Times New Roman', serif" font-weight="bold" text-anchor="middle" fill="#333" textLength="6.6" lengthAdjust="spacingAndGlyphs">286</text>
<line x1="144.2" y1="421.8" x2="144.2" y2="423.4" stroke="#2a2a2a" stroke-width="1"/>
<line x1="156" y1="421.8" x2="156" y2="424.4" stroke="#2a2a2a" stroke-width="1"/>
<text x="156" y="430.3" font-size="5.4" font-family="'Liberation Serif', 'Times New Roman', serif" font-weight="bold" text-anchor="middle" fill="#333" textLength="6.6" lengthAdjust="spacingAndGlyphs">284</text>
<line x1="167.8" y1="421.8" x2="167.8" y2="423.4" stroke="#2a2a2a" stroke-width="1"/>
<line x1="179.5" y1="421.8" x2="179.5" y2="424.4" stroke="#2a2a2a" stroke-width="1"/>
<text x="179.5" y="430.3" font-size="5.4" font-family="'Liberation Serif', 'Times New Roman', serif" font-weight="bold" text-anchor="middle" fill="#333" textLength="6.6" lengthAdjust="spacingAndGlyphs">282</text>
<text x="97.2" y="439.3" font-size="5.9" font-family="'Liberation Serif', 'Times New Roman', serif" font-weight="bold" text-anchor="middle" fill="#333" stroke="#333" stroke-width="0.15" letter-spacing="0.06">Binding Energy (<tspan font-style="italic">eV</tspan>)</text>
<text transform="translate(12.6,364.6) rotate(-90)" font-size="6.1" font-family="'Liberation Serif', 'Times New Roman', serif" font-weight="bold" text-anchor="middle" fill="#333">Counts/s</text>
<text x="18.8" y="311.3" font-size="7.5" font-family="'Liberation Sans', Arial, sans-serif" font-weight="normal" text-anchor="start" fill="#333" stroke="#333" stroke-width="0.15">(g)</text>
<text x="177.6" y="311.5" font-size="7.2" font-family="'Liberation Sans', Arial, sans-serif" font-weight="normal" text-anchor="end" fill="#333" stroke="#333" stroke-width="0.18">C 1s</text>
<text x="72" y="335" font-size="6.2" font-family="'Liberation Sans', Arial, sans-serif" font-weight="normal" text-anchor="start" fill="#383838" stroke="#383838" stroke-width="0.25" letter-spacing="0.15"><tspan>C-F</tspan><tspan dy="1.5" font-size="6.2">2</tspan></text>
<text x="53.3" y="408.2" font-size="6.2" font-family="'Liberation Sans', Arial, sans-serif" font-weight="normal" text-anchor="start" fill="#383838" stroke="#383838" stroke-width="0.25" letter-spacing="0.15"><tspan>C-F</tspan></text>
<text x="92.7" y="400" font-size="6.2" font-family="'Liberation Sans', Arial, sans-serif" font-weight="normal" text-anchor="start" fill="#383838" stroke="#383838" stroke-width="0.25" letter-spacing="0.15"><tspan>C-F</tspan><tspan dy="1.5" font-size="6.2">3</tspan></text>
<text x="117.1" y="418" font-size="6.2" font-family="'Liberation Sans', Arial, sans-serif" font-weight="normal" text-anchor="start" fill="#383838" stroke="#383838" stroke-width="0.25" letter-spacing="0.15"><tspan>C-S</tspan></text>
<text x="108.9" y="378" font-size="6.2" font-family="'Liberation Sans', Arial, sans-serif" font-weight="normal" text-anchor="start" fill="#383838" stroke="#383838" stroke-width="0.25" letter-spacing="0.15"><tspan>C-C/C-H</tspan></text>
<text x="155.9" y="333.5" font-size="6.2" font-family="'Liberation Sans', Arial, sans-serif" font-weight="normal" text-anchor="start" fill="#383838" stroke="#383838" stroke-width="0.25" letter-spacing="0.15"><tspan>C-O-C</tspan></text>
<line x1="70.3" y1="334.5" x2="64.2" y2="344" stroke="#333" stroke-width="0.5"/>
<path d="M70.3,334.5 L70,337.1 L68.1,335.9 Z" fill="#222"/>
<line x1="97.5" y1="402" x2="96" y2="407" stroke="#333" stroke-width="0.5"/>
<path d="M97.5,402 L97.9,404.6 L95.8,403.9 Z" fill="#222"/>
<line x1="129.4" y1="382.1" x2="135.9" y2="402.6" stroke="#333" stroke-width="0.5"/>
<path d="M129.4,382.1 L131.2,384 L129.1,384.7 Z" fill="#222"/>
<line x1="155.6" y1="332" x2="151.5" y2="339.3" stroke="#333" stroke-width="0.5"/>
<path d="M155.6,332 L155.4,334.6 L153.5,333.5 Z" fill="#222"/>
<g clip-path="url(#c34)">
<rect x="197.5" y="418.6" width="164.5" height="3.2" fill="#d8f4e0"/>
<path d="M197.5,418.2 L197.5,418 198.2,418 199,418 199.8,418 200.5,418 201.2,418 202,418 202.8,418 203.5,418 204.2,418 205,418 205.8,418 206.5,418 207.2,418 208,418 208.8,418 209.5,418 210.2,418 211,418 211.8,418 212.5,418 213.2,418 214,417.9 214.8,417.9 215.5,417.9 216.2,417.9 217,417.9 217.8,417.9 218.5,417.9 219.2,417.9 220,417.9 220.8,417.9 221.5,417.9 222.2,417.9 223,417.9 223.8,417.9 224.5,417.9 225.2,417.9 226,417.9 226.8,417.8 227.5,417.8 228.2,417.8 229,417.8 229.8,417.8 230.5,417.8 231.2,417.8 232,417.8 232.8,417.8 233.5,417.8 234.2,417.8 235,417.7 235.8,417.7 236.5,417.7 237.2,417.7 238,417.7 238.8,417.7 239.5,417.7 240.2,417.7 241,417.6 241.8,417.6 242.5,417.6 243.2,417.6 244,417.6 244.8,417.5 245.5,417.5 246.2,417.5 247,417.5 247.8,417.5 248.5,417.4 249.2,417.4 250,417.4 250.8,417.4 251.5,417.3 252.2,417.3 253,417.3 253.8,417.2 254.5,417.2 255.2,417.2 256,417.1 256.8,417.1 257.5,417 258.2,417 259,416.9 259.8,416.8 260.5,416.8 261.2,416.7 262,416.6 262.8,416.5 263.5,416.3 264.2,416.2 265,416 265.8,415.8 266.5,415.5 267.2,415.2 268,414.8 268.8,414.3 269.5,413.7 270.2,413.1 271,412.3 271.8,411.4 272.5,410.3 273.2,409.1 274,407.6 274.8,406 275.5,404.1 276.2,401.9 277,399.5 277.8,396.8 278.5,393.8 279.2,390.5 280,387 280.8,383.1 281.5,379 282.2,374.7 283,370.1 283.8,365.4 284.5,360.6 285.2,355.7 286,350.9 286.8,346.1 287.5,341.4 288.2,337 289,332.9 289.8,329.3 290.5,326.1 291.2,323.5 292,321.5 292.8,320.2 293.5,319.6 294.2,319.7 295,320.4 295.8,321.5 296.5,323.2 297.2,325.3 298,327.8 298.8,330.6 299.5,333.8 300.2,337.3 301,341 301.8,344.9 302.5,348.9 303.2,352.9 304,357 304.8,361.1 305.5,365.2 306.2,369.2 307,373 307.8,376.8 308.5,380.3 309.2,383.7 310,386.9 310.8,389.9 311.5,392.8 312.2,395.4 313,397.8 313.8,400 314.5,402 315.2,403.8 316,405.4 316.8,406.9 317.5,408.2 318.2,409.4 319,410.4 319.8,411.3 320.5,412.1 321.2,412.8 322,413.4 322.8,413.9 323.5,414.4 324.2,414.7 325,415.1 325.8,415.4 326.5,415.6 327.2,415.8 328,416 328.8,416.2 329.5,416.3 330.2,416.4 331,416.5 331.8,416.6 332.5,416.7 333.2,416.8 334,416.8 334.8,416.9 335.5,416.9 336.2,417 337,417 337.8,417.1 338.5,417.1 339.2,417.2 340,417.2 340.8,417.2 341.5,417.2 342.2,417.3 343,417.3 343.8,417.3 344.5,417.4 345.2,417.4 346,417.4 346.8,417.4 347.5,417.4 348.2,417.5 349,417.5 349.8,417.5 350.5,417.5 351.2,417.5 352,417.5 352.8,417.6 353.5,417.6 354.2,417.6 355,417.6 355.8,417.6 356.5,417.6 357.2,417.6 358,417.7 358.8,417.7 359.5,417.7 360.2,417.7 361,417.7 361.8,417.7 L361.8,418.2 Z" fill="url(#g28)"/>
<path d="M220.8,417.9 221.5,417.9 222.2,417.9 223,417.9 223.8,417.9 224.5,417.9 225.2,417.9 226,417.9 226.8,417.8 227.5,417.8 228.2,417.8 229,417.8 229.8,417.8 230.5,417.8 231.2,417.8 232,417.8 232.8,417.8 233.5,417.8 234.2,417.8 235,417.7 235.8,417.7 236.5,417.7 237.2,417.7 238,417.7 238.8,417.7 239.5,417.7 240.2,417.7 241,417.6 241.8,417.6 242.5,417.6 243.2,417.6 244,417.6 244.8,417.5 245.5,417.5 246.2,417.5 247,417.5 247.8,417.5 248.5,417.4 249.2,417.4 250,417.4 250.8,417.4 251.5,417.3 252.2,417.3 253,417.3 253.8,417.2 254.5,417.2 255.2,417.2 256,417.1 256.8,417.1 257.5,417 258.2,417 259,416.9 259.8,416.8 260.5,416.8 261.2,416.7 262,416.6 262.8,416.5 263.5,416.3 264.2,416.2 265,416 265.8,415.8 266.5,415.5 267.2,415.2 268,414.8 268.8,414.3 269.5,413.7 270.2,413.1 271,412.3 271.8,411.4 272.5,410.3 273.2,409.1 274,407.6 274.8,406 275.5,404.1 276.2,401.9 277,399.5 277.8,396.8 278.5,393.8 279.2,390.5 280,387 280.8,383.1 281.5,379 282.2,374.7 283,370.1 283.8,365.4 284.5,360.6 285.2,355.7 286,350.9 286.8,346.1 287.5,341.4 288.2,337 289,332.9 289.8,329.3 290.5,326.1 291.2,323.5 292,321.5 292.8,320.2 293.5,319.6 294.2,319.7 295,320.4" fill="none" stroke="#ff6080" stroke-width="0.6"/>
<path d="M197.5,418.2 L197.5,418 198.2,417.9 199,417.9 199.8,417.9 200.5,417.9 201.2,417.9 202,417.9 202.8,417.9 203.5,417.9 204.2,417.9 205,417.9 205.8,417.9 206.5,417.9 207.2,417.8 208,417.8 208.8,417.8 209.5,417.8 210.2,417.8 211,417.8 211.8,417.8 212.5,417.7 213.2,417.7 214,417.7 214.8,417.7 215.5,417.6 216.2,417.6 217,417.6 217.8,417.5 218.5,417.5 219.2,417.4 220,417.3 220.8,417.2 221.5,417.1 222.2,417 223,416.9 223.8,416.8 224.5,416.6 225.2,416.4 226,416.2 226.8,416 227.5,415.7 228.2,415.4 229,415.1 229.8,414.7 230.5,414.3 231.2,413.8 232,413.3 232.8,412.7 233.5,412.1 234.2,411.4 235,410.7 235.8,409.9 236.5,409.1 237.2,408.2 238,407.2 238.8,406.2 239.5,405.2 240.2,404.1 241,403 241.8,401.9 242.5,400.7 243.2,399.5 244,398.3 244.8,397.1 245.5,395.9 246.2,394.8 247,393.7 247.8,392.6 248.5,391.6 249.2,390.7 250,389.8 250.8,389.1 251.5,388.5 252.2,387.9 253,387.6 253.8,387.3 254.5,387.2 255.2,387.3 256,387.7 256.8,388.5 257.5,389.6 258.2,390.9 259,392.4 259.8,394.1 260.5,395.9 261.2,397.8 262,399.7 262.8,401.6 263.5,403.4 264.2,405.2 265,406.8 265.8,408.3 266.5,409.7 267.2,410.9 268,412 268.8,413 269.5,413.8 270.2,414.5 271,415.1 271.8,415.7 272.5,416.1 273.2,416.4 274,416.7 274.8,416.9 275.5,417.1 276.2,417.3 277,417.4 277.8,417.5 278.5,417.6 279.2,417.6 280,417.7 280.8,417.7 281.5,417.7 282.2,417.8 283,417.8 283.8,417.8 284.5,417.8 285.2,417.9 286,417.9 286.8,417.9 287.5,417.9 288.2,417.9 289,417.9 289.8,417.9 290.5,418 291.2,418 292,418 292.8,418 293.5,418 294.2,418 295,418 295.8,418 296.5,418 297.2,418 298,418 298.8,418 299.5,418 300.2,418 301,418 301.8,418.1 302.5,418.1 303.2,418.1 304,418.1 304.8,418.1 305.5,418.1 306.2,418.1 307,418.1 307.8,418.1 308.5,418.1 309.2,418.1 310,418.1 310.8,418.1 311.5,418.1 312.2,418.1 313,418.1 313.8,418.1 314.5,418.1 315.2,418.1 316,418.1 316.8,418.1 317.5,418.1 318.2,418.1 319,418.1 319.8,418.1 320.5,418.1 321.2,418.1 322,418.1 322.8,418.1 323.5,418.1 324.2,418.1 325,418.1 325.8,418.1 326.5,418.1 327.2,418.1 328,418.1 328.8,418.1 329.5,418.1 330.2,418.1 331,418.1 331.8,418.1 332.5,418.1 333.2,418.1 334,418.1 334.8,418.1 335.5,418.1 L335.5,418.2 Z" fill="url(#g29)"/>
<path d="M203.5,417.9 204.2,417.9 205,417.9 205.8,417.9 206.5,417.9 207.2,417.8 208,417.8 208.8,417.8 209.5,417.8 210.2,417.8 211,417.8 211.8,417.8 212.5,417.7 213.2,417.7 214,417.7 214.8,417.7 215.5,417.6 216.2,417.6 217,417.6 217.8,417.5 218.5,417.5 219.2,417.4 220,417.3 220.8,417.2 221.5,417.1 222.2,417 223,416.9 223.8,416.8 224.5,416.6 225.2,416.4 226,416.2 226.8,416 227.5,415.7 228.2,415.4 229,415.1 229.8,414.7 230.5,414.3 231.2,413.8 232,413.3 232.8,412.7 233.5,412.1 234.2,411.4 235,410.7 235.8,409.9 236.5,409.1 237.2,408.2 238,407.2 238.8,406.2 239.5,405.2 240.2,404.1 241,403 241.8,401.9 242.5,400.7 243.2,399.5 244,398.3 244.8,397.1 245.5,395.9 246.2,394.8 247,393.7 247.8,392.6 248.5,391.6 249.2,390.7 250,389.8 250.8,389.1 251.5,388.5 252.2,387.9 253,387.6 253.8,387.3 254.5,387.2 255.2,387.3 256,387.7 256.8,388.5 257.5,389.6 258.2,390.9 259,392.4 259.8,394.1 260.5,395.9 261.2,397.8 262,399.7 262.8,401.6 263.5,403.4 264.2,405.2 265,406.8 265.8,408.3 266.5,409.7 267.2,410.9 268,412 268.8,413 269.5,413.8 270.2,414.5 271,415.1 271.8,415.7 272.5,416.1 273.2,416.4 274,416.7 274.8,416.9 275.5,417.1 276.2,417.3 277,417.4 277.8,417.5 278.5,417.6 279.2,417.6 280,417.7 280.8,417.7 281.5,417.7 282.2,417.8 283,417.8 283.8,417.8 284.5,417.8 285.2,417.9 286,417.9 286.8,417.9" fill="none" stroke="#4848ff" stroke-width="0.5"/>
<path d="M229,418.2 L229,418.1 229.8,418.1 230.5,418.1 231.2,418.1 232,418.1 232.8,418.1 233.5,418.1 234.2,418.1 235,418.1 235.8,418.1 236.5,418.1 237.2,418.1 238,418.1 238.8,418.1 239.5,418.1 240.2,418.1 241,418.1 241.8,418.1 242.5,418.1 243.2,418.1 244,418.1 244.8,418.1 245.5,418.1 246.2,418.1 247,418.1 247.8,418 248.5,418 249.2,418 250,418 250.8,418 251.5,417.9 252.2,417.9 253,417.8 253.8,417.7 254.5,417.5 255.2,417.4 256,417.1 256.8,416.8 257.5,416.4 258.2,415.9 259,415.3 259.8,414.5 260.5,413.6 261.2,412.5 262,411.3 262.8,409.8 263.5,408.1 264.2,406.2 265,404.2 265.8,401.9 266.5,399.6 267.2,397.2 268,394.8 268.8,392.4 269.5,390.1 270.2,388 271,386.2 271.8,384.7 272.5,383.5 273.2,382.8 274,382.6 274.8,382.8 275.5,383.5 276.2,384.7 277,386.2 277.8,388 278.5,390.1 279.2,392.4 280,394.8 280.8,397.2 281.5,399.6 282.2,401.9 283,404.2 283.8,406.2 284.5,408.1 285.2,409.8 286,411.3 286.8,412.5 287.5,413.6 288.2,414.5 289,415.3 289.8,415.9 290.5,416.4 291.2,416.8 292,417.1 292.8,417.4 293.5,417.5 294.2,417.7 295,417.8 295.8,417.9 296.5,417.9 297.2,418 298,418 298.8,418 299.5,418 300.2,418 301,418.1 301.8,418.1 302.5,418.1 303.2,418.1 304,418.1 304.8,418.1 305.5,418.1 306.2,418.1 307,418.1 307.8,418.1 308.5,418.1 309.2,418.1 310,418.1 310.8,418.1 311.5,418.1 312.2,418.1 313,418.1 313.8,418.1 314.5,418.1 315.2,418.1 316,418.1 316.8,418.1 317.5,418.1 318.2,418.1 319,418.1 L319,418.2 Z" fill="url(#g30)"/>
<path d="M252.2,417.9 253,417.8 253.8,417.7 254.5,417.5 255.2,417.4 256,417.1 256.8,416.8 257.5,416.4 258.2,415.9 259,415.3 259.8,414.5 260.5,413.6 261.2,412.5 262,411.3 262.8,409.8 263.5,408.1 264.2,406.2 265,404.2 265.8,401.9 266.5,399.6 267.2,397.2 268,394.8 268.8,392.4 269.5,390.1 270.2,388 271,386.2 271.8,384.7 272.5,383.5 273.2,382.8 274,382.6 274.8,382.8 275.5,383.5 276.2,384.7 277,386.2 277.8,388 278.5,390.1 279.2,392.4 280,394.8 280.8,397.2 281.5,399.6 282.2,401.9 283,404.2 283.8,406.2 284.5,408.1 285.2,409.8 286,411.3 286.8,412.5 287.5,413.6 288.2,414.5 289,415.3 289.8,415.9 290.5,416.4 291.2,416.8 292,417.1 292.8,417.4 293.5,417.5 294.2,417.7 295,417.8 295.8,417.9" fill="none" stroke="#c040c0" stroke-width="0.5"/>
<path d="M269.5,418.2 L269.5,418.1 270.2,418.1 271,418.1 271.8,418 272.5,417.9 273.2,417.8 274,417.5 274.8,417.1 275.5,416.4 276.2,415.5 277,414.4 277.8,413 278.5,411.5 279.2,410 280,408.7 280.8,407.8 281.5,407.4 282.2,407.6 283,408.4 283.8,409.6 284.5,411.1 285.2,412.6 286,414 286.8,415.2 287.5,416.2 288.2,416.9 289,417.4 289.8,417.7 290.5,417.9 291.2,418 292,418.1 292.8,418.1 293.5,418.1 L293.5,418.2 Z" fill="url(#g31)"/>
<path d="M197.5,417.1 198.2,417.1 199,417.2 199.8,417.2 200.5,417.1 201.2,417.1 202,417.3 202.8,417.4 203.5,417.3 204.2,417.2 205,417.3 205.8,417.2 206.5,416.9 207.2,417 208,417.3 208.8,417.5 209.5,417.4 210.2,417.2 211,417.2 211.8,417.1 212.5,417.1 213.2,417.4 214,417.6 214.8,417.6 215.5,417.5 216.2,417.5 217,417.6 217.8,417.5 218.5,417.6 219.2,417.9 220,418.1 220.8,417.9 221.5,417.9 222.2,417.9 223,417.8 223.8,417.8 224.5,417.6 225.2,417.3 226,417.1 226.8,416.9 227.5,416.7 228.2,416.5 229,416.2 229.8,415.7 230.5,415.3 231.2,415.1 232,414.8 232.8,414.3 233.5,413.6 234.2,412.9 235,412.4 235.8,411.9 236.5,410.9 237.2,409.9 238,409.1 238.8,408.3 239.5,407.2 240.2,406 241,404.6 241.8,403.3 242.5,402.2 243.2,401 244,399.6 244.8,398 245.5,396.4 246.2,394.6 247,392.6 247.8,392.7 248.5,391.6 249.2,390.2 250,388.9 250.8,387.8 251.5,386.8 252.2,385.8 253,384.8 253.8,384 254.5,383.2 255.2,382.6 256,382.8 256.8,382.3 257.5,382.2 258.2,382.2 259,382.1 259.8,381.7 260.5,381.5 261.2,381.3 262,380.2 262.8,380.9 263.5,380.9 264.2,380.4 265,379.9 265.8,379.3 266.5,378.3 267.2,377.2 268,376.5 268.8,375.9 269.5,374.6 270.2,372.6 271,370.3 271.8,367.7 272.5,364.9 273.2,362.3 274,360 274.8,358.1 275.5,356.4 276.2,354.6 277,352.4 277.8,350 278.5,347.4 279.2,344.7 280,341.6 280.8,338.1 281.5,334.8 282.2,332 283,330 283.8,328.4 284.5,326.1 285.2,324 286,323.2 286.8,321 287.5,318.9 288.2,317.4 289,316.5 289.8,315.9 290.5,315.2 291.2,313.5 292,313.5 292.8,314.1 293.5,314.5 294.2,315.3 295,315.7 295.8,316.8 296.5,319.8 297.2,322.3 298,325.3 298.8,328.6 299.5,332.4 300.2,336.8 301,341.7 301.8,347.4 302.5,352.7 303.2,357.7 304,362.8 304.8,367.9 305.5,372.4 306.2,375.9 307,378.9 307.8,381.9 308.5,384.8 309.2,387.7 310,390.7 310.8,393.2 311.5,395.2 312.2,397.1 313,399.1 313.8,400.9 314.5,402.6 315.2,404.5 316,406.5 316.8,408.3 317.5,410 318.2,411.8 319,413.2 319.8,414.1 320.5,414.9 321.2,415.7 322,414.6 322.8,416.3 323.5,417.6 324.2,417.9 325,418.1 325.8,418.3 326.5,418.5 327.2,417.4 328,417.7 328.8,419 329.5,419.4 330.2,419.8 331,420.1 331.8,420.1 332.5,420 333.2,419.1 334,417.5 334.8,419.6 335.5,420.4 336.2,420.6 337,420.5 337.8,420.4 338.5,420.1 339.2,418.4 340,419.6 340.8,420.4 341.5,420.3 342.2,420.1 343,420.4 343.8,420.1 344.5,418.3 345.2,420.1 346,421 346.8,420.8 347.5,420.5 348.2,420.4 349,420.3 349.8,420.2 350.5,420.4 351.2,420.6 352,420.4 352.8,418.6 353.5,418.9 354.2,420.5 355,420.3 355.8,420.2 356.5,420.5 357.2,420.8 358,420.9 358.8,420.8 359.5,420.7 360.2,420.7 361,420.6 361.8,420.5" fill="none" stroke="#111" stroke-width="0.8" stroke-linejoin="round"/>
<path d="M197.5,417.2 198.2,417.2 199,417.2 199.8,417.2 200.5,417.2 201.2,417.2 202,417.2 202.8,417.2 203.5,417.2 204.2,417.2 205,417.2 205.8,417.2 206.5,417.2 207.2,417.3 208,417.3 208.8,417.3 209.5,417.3 210.2,417.3 211,417.3 211.8,417.3 212.5,417.4 213.2,417.4 214,417.5 214.8,417.5 215.5,417.6 216.2,417.6 217,417.6 217.8,417.7 218.5,417.7 219.2,417.7 220,417.8 220.8,417.8 221.5,417.8 222.2,417.7 223,417.7 223.8,417.6 224.5,417.6 225.2,417.5 226,417.3 226.8,417.2 227.5,417 228.2,416.8 229,416.5 229.8,416.2 230.5,415.9 231.2,415.5 232,415 232.8,414.5 233.5,414 234.2,413.3 235,412.6 235.8,411.8 236.5,411 237.2,410.1 238,409.1 238.8,408 239.5,407 240.2,405.8 241,404.6 241.8,403.4 242.5,402.2 243.2,400.9 244,399.5 244.8,398.1 245.5,396.8 246.2,395.4 247,394 247.8,392.7 248.5,391.4 249.2,390.2 250,389 250.8,387.9 251.5,386.8 252.2,385.8 253,385 253.8,384.2 254.5,383.6 255.2,383 256,382.7 256.8,382.5 257.5,382.3 258.2,382.1 259,382 259.8,381.8 260.5,381.6 261.2,381.5 262,381.3 262.8,381 263.5,380.8 264.2,380.5 265,379.9 265.8,379 266.5,377.9 267.2,377.1 268,376.4 268.8,375.6 269.5,374.4 270.2,372.5 271,370.1 271.8,367.5 272.5,364.9 273.2,362.4 274,360.2 274.8,358.3 275.5,356.4 276.2,354.4 277,352.4 277.8,350 278.5,347.5 279.2,344.8 280,341.7 280.8,338.1 281.5,334.7 282.2,331.8 283,329.8 283.8,328.4 284.5,326.9 285.2,325.2 286,323.2 286.8,321 287.5,318.9 288.2,317.5 289,316.6 289.8,315.9 290.5,315.3 291.2,314.8 292,314.2 292.8,314 293.5,314.4 294.2,315.1 295,316.3 295.8,317.8 296.5,319.9 297.2,322.4 298,325.3 298.8,328.6 299.5,332.4 300.2,336.5 301,341.4 301.8,347.2 302.5,352.5 303.2,358 304,363.2 304.8,368 305.5,372.2 306.2,375.8 307,379.1 307.8,382.1 308.5,385 309.2,387.7 310,390.4 310.8,392.9 311.5,395.1 312.2,397.2 313,399.1 313.8,401 314.5,402.8 315.2,404.6 316,406.5 316.8,408.4 317.5,410.2 318.2,411.8 319,413.3 319.8,414.4 320.5,415.2 321.2,415.9 322,416.5 322.8,417 323.5,417.4 324.2,417.7 325,418 325.8,418.3 326.5,418.5 327.2,418.7 328,418.9 328.8,419.1 329.5,419.2 330.2,419.4 331,419.5 331.8,419.6 332.5,419.7 333.2,419.8 334,419.9 334.8,420 335.5,420 336.2,420.1 337,420.1 337.8,420.2 338.5,420.2 339.2,420.2 340,420.3 340.8,420.3 341.5,420.3 342.2,420.3 343,420.3 343.8,420.4 344.5,420.4 345.2,420.4 346,420.4 346.8,420.4 347.5,420.5 348.2,420.5 349,420.5 349.8,420.5 350.5,420.5 351.2,420.5 352,420.5 352.8,420.5 353.5,420.5 354.2,420.6 355,420.6 355.8,420.6 356.5,420.6 357.2,420.6 358,420.6 358.8,420.6 359.5,420.6 360.2,420.6 361,420.6 361.8,420.6" fill="none" stroke="#8a10f8" stroke-width="1.5" stroke-linejoin="round"/>
</g>
<rect x="197.5" y="301.7" width="164.5" height="120.7" fill="none" stroke="#2a2a2a" stroke-width="1.4"/>
<line x1="197.5" y1="422.4" x2="197.5" y2="425" stroke="#2a2a2a" stroke-width="1"/>
<text x="197.5" y="430.9" font-size="5.4" font-family="'Liberation Serif', 'Times New Roman', serif" font-weight="bold" text-anchor="middle" fill="#333" textLength="6.6" lengthAdjust="spacingAndGlyphs">540</text>
<line x1="210.2" y1="422.4" x2="210.2" y2="424" stroke="#2a2a2a" stroke-width="1"/>
<line x1="222.8" y1="422.4" x2="222.8" y2="425" stroke="#2a2a2a" stroke-width="1"/>
<text x="222.8" y="430.9" font-size="5.4" font-family="'Liberation Serif', 'Times New Roman', serif" font-weight="bold" text-anchor="middle" fill="#333" textLength="6.6" lengthAdjust="spacingAndGlyphs">538</text>
<line x1="235.5" y1="422.4" x2="235.5" y2="424" stroke="#2a2a2a" stroke-width="1"/>
<line x1="248.1" y1="422.4" x2="248.1" y2="425" stroke="#2a2a2a" stroke-width="1"/>
<text x="248.1" y="430.9" font-size="5.4" font-family="'Liberation Serif', 'Times New Roman', serif" font-weight="bold" text-anchor="middle" fill="#333" textLength="6.6" lengthAdjust="spacingAndGlyphs">536</text>
<line x1="260.8" y1="422.4" x2="260.8" y2="424" stroke="#2a2a2a" stroke-width="1"/>
<line x1="273.4" y1="422.4" x2="273.4" y2="425" stroke="#2a2a2a" stroke-width="1"/>
<text x="273.4" y="430.9" font-size="5.4" font-family="'Liberation Serif', 'Times New Roman', serif" font-weight="bold" text-anchor="middle" fill="#333" textLength="6.6" lengthAdjust="spacingAndGlyphs">534</text>
<line x1="286.1" y1="422.4" x2="286.1" y2="424" stroke="#2a2a2a" stroke-width="1"/>
<line x1="298.7" y1="422.4" x2="298.7" y2="425" stroke="#2a2a2a" stroke-width="1"/>
<text x="298.7" y="430.9" font-size="5.4" font-family="'Liberation Serif', 'Times New Roman', serif" font-weight="bold" text-anchor="middle" fill="#333" textLength="6.6" lengthAdjust="spacingAndGlyphs">532</text>
<line x1="311.4" y1="422.4" x2="311.4" y2="424" stroke="#2a2a2a" stroke-width="1"/>
<line x1="324" y1="422.4" x2="324" y2="425" stroke="#2a2a2a" stroke-width="1"/>
<text x="324" y="430.9" font-size="5.4" font-family="'Liberation Serif', 'Times New Roman', serif" font-weight="bold" text-anchor="middle" fill="#333" textLength="6.6" lengthAdjust="spacingAndGlyphs">530</text>
<line x1="336.7" y1="422.4" x2="336.7" y2="424" stroke="#2a2a2a" stroke-width="1"/>
<line x1="349.3" y1="422.4" x2="349.3" y2="425" stroke="#2a2a2a" stroke-width="1"/>
<text x="349.3" y="430.9" font-size="5.4" font-family="'Liberation Serif', 'Times New Roman', serif" font-weight="bold" text-anchor="middle" fill="#333" textLength="6.6" lengthAdjust="spacingAndGlyphs">528</text>
<line x1="362" y1="422.4" x2="362" y2="424" stroke="#2a2a2a" stroke-width="1"/>
<text x="279.8" y="439.9" font-size="5.9" font-family="'Liberation Serif', 'Times New Roman', serif" font-weight="bold" text-anchor="middle" fill="#333" stroke="#333" stroke-width="0.15" letter-spacing="0.06">Binding Energy (<tspan font-style="italic">eV</tspan>)</text>
<text transform="translate(190.9,361.5) rotate(-90)" font-size="6.1" font-family="'Liberation Serif', 'Times New Roman', serif" font-weight="bold" text-anchor="middle" fill="#333">Counts/s</text>
<text x="200.9" y="311.5" font-size="7.5" font-family="'Liberation Sans', Arial, sans-serif" font-weight="normal" text-anchor="start" fill="#333" stroke="#333" stroke-width="0.15">(h)</text>
<text x="360.1" y="311.7" font-size="7.2" font-family="'Liberation Sans', Arial, sans-serif" font-weight="normal" text-anchor="end" fill="#333" stroke="#333" stroke-width="0.18">O 1s</text>
<text x="300.9" y="330" font-size="6.2" font-family="'Liberation Sans', Arial, sans-serif" font-weight="normal" text-anchor="start" fill="#383838" stroke="#383838" stroke-width="0.25" letter-spacing="0.15"><tspan>F-C-O/C-O-C</tspan></text>
<text x="240" y="368.8" font-size="6.2" font-family="'Liberation Sans', Arial, sans-serif" font-weight="normal" text-anchor="start" fill="#383838" stroke="#383838" stroke-width="0.25" letter-spacing="0.15"><tspan>S=O/S-O</tspan></text>
<text x="204.2" y="392" font-size="6.2" font-family="'Liberation Sans', Arial, sans-serif" font-weight="normal" text-anchor="start" fill="#383838" stroke="#383838" stroke-width="0.25" letter-spacing="0.15"><tspan>F</tspan><tspan dy="1.5" font-size="6.2">3</tspan><tspan dy="-1.5">-C-O/C-O-C</tspan></text>
<text x="315.8" y="393.7" font-size="6.2" font-family="'Liberation Sans', Arial, sans-serif" font-weight="normal" text-anchor="start" fill="#383838" stroke="#383838" stroke-width="0.25" letter-spacing="0.15"><tspan>O-H</tspan></text>
<line x1="262.7" y1="371.8" x2="270.9" y2="385.5" stroke="#333" stroke-width="0.5"/>
<path d="M262.7,371.8 L264.9,373.2 L263,374.4 Z" fill="#222"/>
<line x1="241.8" y1="393.6" x2="248.2" y2="399.1" stroke="#333" stroke-width="0.5"/>
<path d="M241.8,393.6 L244.3,394.3 L242.9,396 Z" fill="#222"/>
<line x1="314" y1="392.8" x2="283" y2="415.3" stroke="#333" stroke-width="0.5"/>
<path d="M314,392.8 L312.8,395.1 L311.4,393.3 Z" fill="#222"/>
<g clip-path="url(#c39)">
<path d="M378.3,420.3 L378.3,419.8 379.1,419.8 379.8,419.8 380.6,419.8 381.3,419.8 382.1,419.8 382.8,419.8 383.6,419.8 384.3,419.8 385.1,419.7 385.8,419.7 386.6,419.7 387.3,419.7 388.1,419.7 388.8,419.7 389.6,419.7 390.3,419.6 391.1,419.6 391.8,419.6 392.6,419.6 393.3,419.6 394.1,419.6 394.8,419.5 395.6,419.5 396.3,419.5 397.1,419.5 397.8,419.5 398.6,419.4 399.3,419.4 400.1,419.4 400.8,419.4 401.6,419.3 402.3,419.3 403.1,419.3 403.8,419.3 404.6,419.2 405.3,419.2 406.1,419.2 406.8,419.1 407.6,419.1 408.3,419.1 409.1,419 409.8,419 410.6,418.9 411.3,418.9 412.1,418.8 412.8,418.8 413.6,418.7 414.3,418.7 415.1,418.6 415.8,418.6 416.6,418.5 417.3,418.4 418.1,418.3 418.8,418.3 419.6,418.2 420.3,418.1 421.1,418 421.8,417.9 422.6,417.7 423.3,417.6 424.1,417.5 424.8,417.3 425.6,417.1 426.3,416.9 427.1,416.6 427.8,416.3 428.6,416 429.3,415.6 430.1,415.1 430.8,414.6 431.6,413.9 432.3,413.1 433.1,412.3 433.8,411.2 434.6,410 435.3,408.7 436.1,407.1 436.8,405.3 437.6,403.2 438.3,400.9 439.1,398.3 439.8,395.5 440.6,392.3 441.3,388.9 442.1,385.2 442.8,381.2 443.6,377 444.3,372.6 445.1,368.1 445.8,363.4 446.6,358.7 447.3,354 448.1,349.4 448.8,345.1 449.6,341 450.3,337.3 451.1,334.2 451.8,331.7 452.6,329.8 453.3,328.8 454.1,328.5 454.8,329.2 455.6,330.8 456.3,333.3 457.1,336.6 457.8,340.5 458.6,344.8 459.3,349.6 460.1,354.6 460.8,359.7 461.6,364.8 462.3,369.8 463.1,374.7 463.8,379.4 464.6,383.8 465.3,387.9 466.1,391.7 466.8,395.2 467.6,398.3 468.3,401.1 469.1,403.6 469.8,405.8 470.6,407.7 471.3,409.3 472.1,410.7 472.8,411.9 473.6,412.9 474.3,413.8 475.1,414.5 475.8,415.1 476.6,415.6 477.3,416 478.1,416.4 478.8,416.7 479.6,417 480.3,417.2 481.1,417.4 481.8,417.6 482.6,417.7 483.3,417.8 484.1,418 484.8,418.1 485.6,418.2 486.3,418.3 487.1,418.4 487.8,418.4 488.6,418.5 489.3,418.6 490.1,418.7 490.8,418.7 491.6,418.8 492.3,418.8 493.1,418.9 493.8,418.9 494.6,419 495.3,419 496.1,419.1 496.8,419.1 497.6,419.2 498.3,419.2 499.1,419.2 499.8,419.3 500.6,419.3 501.3,419.3 502.1,419.4 502.8,419.4 503.6,419.4 504.3,419.4 505.1,419.5 505.8,419.5 506.6,419.5 507.3,419.5 508.1,419.5 508.8,419.6 509.6,419.6 510.3,419.6 511.1,419.6 511.8,419.6 512.5,419.7 513.3,419.7 514,419.7 514.8,419.7 515.5,419.7 516.3,419.7 517,419.7 517.8,419.8 518.5,419.8 519.3,419.8 520,419.8 520.8,419.8 521.5,419.8 522.3,419.8 523,419.8 523.8,419.8 524.5,419.9 525.3,419.9 526,419.9 526.8,419.9 527.5,419.9 528.3,419.9 529,419.9 529.8,419.9 530.5,419.9 531.3,419.9 532,419.9 532.8,419.9 533.5,419.9 534.3,420 535,420 535.8,420 536.5,420 537.3,420 538,420 538.8,420 539.5,420 540.3,420 541,420 541.8,420 542.5,420 L542.5,420.3 Z" fill="url(#g32)"/>
<path d="M418.8,420.3 L418.8,420.2 419.6,420.2 420.3,420.2 421.1,420.2 421.8,420.2 422.6,420.2 423.3,420.2 424.1,420.2 424.8,420.1 425.6,420.1 426.3,420.1 427.1,420 427.8,420 428.6,419.9 429.3,419.8 430.1,419.7 430.8,419.6 431.6,419.5 432.3,419.4 433.1,419.2 433.8,419 434.6,418.8 435.3,418.6 436.1,418.4 436.8,418.1 437.6,417.8 438.3,417.5 439.1,417.2 439.8,416.9 440.6,416.5 441.3,416.2 442.1,415.8 442.8,415.4 443.6,415 444.3,414.7 445.1,414.3 445.8,414 446.6,413.7 447.3,413.4 448.1,413.1 448.8,412.9 449.6,412.7 450.3,412.6 451.1,412.5 451.8,412.5 452.6,412.5 453.3,412.6 454.1,412.7 454.8,412.9 455.6,413.1 456.3,413.4 457.1,413.7 457.8,414 458.6,414.3 459.3,414.7 460.1,415 460.8,415.4 461.6,415.8 462.3,416.2 463.1,416.5 463.8,416.9 464.6,417.2 465.3,417.5 466.1,417.8 466.8,418.1 467.6,418.4 468.3,418.6 469.1,418.8 469.8,419 470.6,419.2 471.3,419.4 472.1,419.5 472.8,419.6 473.6,419.7 474.3,419.8 475.1,419.9 475.8,420 476.6,420 477.3,420.1 478.1,420.1 478.8,420.1 479.6,420.2 480.3,420.2 481.1,420.2 481.8,420.2 482.6,420.2 483.3,420.2 484.1,420.2 484.8,420.2 L484.8,420.3 Z" fill="url(#g33)"/>
<path d="M427.8,420 428.6,419.9 429.3,419.8 430.1,419.7 430.8,419.6 431.6,419.5 432.3,419.4 433.1,419.2 433.8,419 434.6,418.8 435.3,418.6 436.1,418.4 436.8,418.1 437.6,417.8 438.3,417.5 439.1,417.2 439.8,416.9 440.6,416.5 441.3,416.2 442.1,415.8 442.8,415.4 443.6,415 444.3,414.7 445.1,414.3 445.8,414 446.6,413.7 447.3,413.4 448.1,413.1 448.8,412.9 449.6,412.7 450.3,412.6 451.1,412.5 451.8,412.5 452.6,412.5 453.3,412.6 454.1,412.7 454.8,412.9 455.6,413.1 456.3,413.4 457.1,413.7 457.8,414 458.6,414.3 459.3,414.7 460.1,415 460.8,415.4 461.6,415.8 462.3,416.2 463.1,416.5 463.8,416.9 464.6,417.2 465.3,417.5 466.1,417.8 466.8,418.1 467.6,418.4 468.3,418.6 469.1,418.8 469.8,419 470.6,419.2 471.3,419.4 472.1,419.5 472.8,419.6 473.6,419.7 474.3,419.8 475.1,419.9 475.8,420" fill="none" stroke="#2040ff" stroke-width="0.5"/>
<path d="M396.3,420.3 L396.3,420.2 397.1,420.2 397.8,420.2 398.6,420.2 399.3,420.2 400.1,420.2 400.8,420.2 401.6,420.2 402.3,420.2 403.1,420.2 403.8,420.2 404.6,420.2 405.3,420.2 406.1,420.2 406.8,420.2 407.6,420.2 408.3,420.2 409.1,420.2 409.8,420.2 410.6,420.2 411.3,420.2 412.1,420.2 412.8,420.2 413.6,420.2 414.3,420.2 415.1,420.2 415.8,420.2 416.6,420.2 417.3,420.1 418.1,420.1 418.8,420.1 419.6,420.1 420.3,420.1 421.1,420.1 421.8,420.1 422.6,420 423.3,420 424.1,420 424.8,420 425.6,420 426.3,419.9 427.1,419.9 427.8,419.9 428.6,419.8 429.3,419.8 430.1,419.8 430.8,419.7 431.6,419.7 432.3,419.6 433.1,419.6 433.8,419.5 434.6,419.5 435.3,419.4 436.1,419.4 436.8,419.3 437.6,419.2 438.3,419.2 439.1,419.1 439.8,419 440.6,418.9 441.3,418.9 442.1,418.8 442.8,418.7 443.6,418.6 444.3,418.5 445.1,418.4 445.8,418.4 446.6,418.3 447.3,418.2 448.1,418.1 448.8,418 449.6,417.9 450.3,417.8 451.1,417.8 451.8,417.7 452.6,417.6 453.3,417.5 454.1,417.5 454.8,417.4 455.6,417.3 456.3,417.3 457.1,417.2 457.8,417.2 458.6,417.2 459.3,417.1 460.1,417.1 460.8,417.1 461.6,417.1 462.3,417.1 463.1,417.1 463.8,417.1 464.6,417.2 465.3,417.2 466.1,417.2 466.8,417.3 467.6,417.3 468.3,417.4 469.1,417.4 469.8,417.5 470.6,417.6 471.3,417.6 472.1,417.7 472.8,417.8 473.6,417.9 474.3,418 475.1,418 475.8,418.1 476.6,418.2 477.3,418.3 478.1,418.4 478.8,418.5 479.6,418.6 480.3,418.6 481.1,418.7 481.8,418.8 482.6,418.9 483.3,419 484.1,419 484.8,419.1 485.6,419.2 486.3,419.3 487.1,419.3 487.8,419.4 488.6,419.4 489.3,419.5 490.1,419.5 490.8,419.6 491.6,419.6 492.3,419.7 493.1,419.7 493.8,419.8 494.6,419.8 495.3,419.8 496.1,419.9 496.8,419.9 497.6,419.9 498.3,420 499.1,420 499.8,420 500.6,420 501.3,420.1 502.1,420.1 502.8,420.1 503.6,420.1 504.3,420.1 505.1,420.1 505.8,420.1 506.6,420.1 507.3,420.2 508.1,420.2 508.8,420.2 509.6,420.2 510.3,420.2 511.1,420.2 511.8,420.2 512.5,420.2 513.3,420.2 514,420.2 514.8,420.2 515.5,420.2 516.3,420.2 517,420.2 517.8,420.2 518.5,420.2 519.3,420.2 520,420.2 520.8,420.2 521.5,420.2 522.3,420.2 523,420.2 523.8,420.2 524.5,420.2 525.3,420.2 526,420.2 526.8,420.2 L526.8,420.3 Z" fill="url(#g34)"/>
<path d="M424.8,420 425.6,420 426.3,419.9 427.1,419.9 427.8,419.9 428.6,419.8 429.3,419.8 430.1,419.8 430.8,419.7 431.6,419.7 432.3,419.6 433.1,419.6 433.8,419.5 434.6,419.5 435.3,419.4 436.1,419.4 436.8,419.3 437.6,419.2 438.3,419.2 439.1,419.1 439.8,419 440.6,418.9 441.3,418.9 442.1,418.8 442.8,418.7 443.6,418.6 444.3,418.5 445.1,418.4 445.8,418.4 446.6,418.3 447.3,418.2 448.1,418.1 448.8,418 449.6,417.9 450.3,417.8 451.1,417.8 451.8,417.7 452.6,417.6 453.3,417.5 454.1,417.5 454.8,417.4 455.6,417.3 456.3,417.3 457.1,417.2 457.8,417.2 458.6,417.2 459.3,417.1 460.1,417.1 460.8,417.1 461.6,417.1 462.3,417.1 463.1,417.1 463.8,417.1 464.6,417.2 465.3,417.2 466.1,417.2 466.8,417.3 467.6,417.3 468.3,417.4 469.1,417.4 469.8,417.5 470.6,417.6 471.3,417.6 472.1,417.7 472.8,417.8 473.6,417.9 474.3,418 475.1,418 475.8,418.1 476.6,418.2 477.3,418.3 478.1,418.4 478.8,418.5 479.6,418.6 480.3,418.6 481.1,418.7 481.8,418.8 482.6,418.9 483.3,419 484.1,419 484.8,419.1 485.6,419.2 486.3,419.3 487.1,419.3 487.8,419.4 488.6,419.4 489.3,419.5 490.1,419.5 490.8,419.6 491.6,419.6 492.3,419.7 493.1,419.7 493.8,419.8 494.6,419.8 495.3,419.8 496.1,419.9 496.8,419.9 497.6,419.9 498.3,420 499.1,420" fill="none" stroke="#206030" stroke-width="0.4"/>
<path d="M378.3,420 379.1,420 379.8,420 380.6,420 381.3,420 382.1,420 382.8,419.9 383.6,419.9 384.3,419.9 385.1,419.9 385.8,419.9 386.6,419.9 387.3,419.9 388.1,419.9 388.8,419.9 389.6,419.9 390.3,419.9 391.1,419.9 391.8,419.8 392.6,419.8 393.3,419.8 394.1,419.8 394.8,419.8 395.6,419.8 396.3,419.8 397.1,419.8 397.8,419.7 398.6,419.7 399.3,419.7 400.1,419.7 400.8,419.7 401.6,419.7 402.3,419.6 403.1,419.6 403.8,419.6 404.6,419.6 405.3,419.6 406.1,419.5 406.8,419.5 407.6,419.5 408.3,419.5 409.1,419.4 409.8,419.4 410.6,419.4 411.3,419.4 412.1,419.3 412.8,419.3 413.6,419.2 414.3,419.2 415.1,419.2 415.8,419.1 416.6,419.1 417.3,419 418.1,419 418.8,418.9 419.6,418.8 420.3,418.7 421.1,418.7 421.8,418.6 422.6,418.4 423.3,418.3 424.1,418.1 424.8,417.9 425.6,417.7 426.3,417.4 427.1,417.1 427.8,416.7 428.6,416.2 429.3,415.7 430.1,415 430.8,414.2 431.6,413.3 432.3,412.2 433.1,410.9 433.8,409.5 434.6,407.8 435.3,405.8 436.1,403.6 436.8,401.1 437.6,398.4 438.3,395.3 439.1,391.9 439.8,388.2 440.6,384.2 441.3,379.9 442.1,375.3 442.8,370.6 443.6,365.6 444.3,360.5 445.1,355.4 445.8,350.2 446.6,345.1 447.3,340.2 448.1,335.5 448.8,331.2 449.6,327.3 450.3,323.8 451.1,321 451.8,318.9 452.6,317.5 453.3,316.9 454.1,317.1 454.8,318 455.6,319.7 456.3,322 457.1,325 457.8,328.5 458.6,332.5 459.3,336.8 460.1,341.5 460.8,346.3 461.6,351.3 462.3,356.4 463.1,361.4 463.8,366.3 464.6,371.1 465.3,375.8 466.1,380.2 466.8,384.4 467.6,388.3 468.3,391.9 469.1,395.2 469.8,398.2 470.6,401 471.3,403.4 472.1,405.6 472.8,407.5 473.6,409.2 474.3,410.7 475.1,412 475.8,413.1 476.6,414 477.3,414.8 478.1,415.5 478.8,416.1 479.6,416.6 480.3,417 481.1,417.3 481.8,417.6 482.6,417.8 483.3,418 484.1,418.2 484.8,418.4 485.6,418.5 486.3,418.6 487.1,418.7 487.8,418.8 488.6,418.9 489.3,418.9 490.1,419 490.8,419 491.6,419.1 492.3,419.1 493.1,419.2 493.8,419.2 494.6,419.3 495.3,419.3 496.1,419.3 496.8,419.4 497.6,419.4 498.3,419.4 499.1,419.4 499.8,419.5 500.6,419.5 501.3,419.5 502.1,419.5 502.8,419.6 503.6,419.6 504.3,419.6 505.1,419.6 505.8,419.6 506.6,419.7 507.3,419.7 508.1,419.7 508.8,419.7 509.6,419.7 510.3,419.7 511.1,419.8 511.8,419.8 512.5,419.8 513.3,419.8 514,419.8 514.8,419.8 515.5,419.8 516.3,419.8 517,419.8 517.8,419.9 518.5,419.9 519.3,419.9 520,419.9 520.8,419.9 521.5,419.9 522.3,419.9 523,419.9 523.8,419.9 524.5,419.9 525.3,419.9 526,420 526.8,420 527.5,420 528.3,420 529,420 529.8,420 530.5,420 531.3,420 532,420 532.8,420 533.5,420 534.3,420 535,420 535.8,420 536.5,420 537.3,420 538,420 538.8,420 539.5,420.1 540.3,420.1 541,420.1 541.8,420.1 542.5,420.1" fill="none" stroke="#1a1a8c" stroke-width="1.6" stroke-linejoin="round"/>
</g>
<rect x="378.3" y="301.3" width="164.5" height="120.5" fill="none" stroke="#2a2a2a" stroke-width="1.4"/>
<line x1="378.3" y1="421.8" x2="378.3" y2="424.4" stroke="#2a2a2a" stroke-width="1"/>
<text x="378.3" y="430.3" font-size="5.4" font-family="'Liberation Serif', 'Times New Roman', serif" font-weight="bold" text-anchor="middle" fill="#333" textLength="6.6" lengthAdjust="spacingAndGlyphs">696</text>
<line x1="389.3" y1="421.8" x2="389.3" y2="423.4" stroke="#2a2a2a" stroke-width="1"/>
<line x1="400.2" y1="421.8" x2="400.2" y2="424.4" stroke="#2a2a2a" stroke-width="1"/>
<text x="400.2" y="430.3" font-size="5.4" font-family="'Liberation Serif', 'Times New Roman', serif" font-weight="bold" text-anchor="middle" fill="#333" textLength="6.6" lengthAdjust="spacingAndGlyphs">694</text>
<line x1="411.2" y1="421.8" x2="411.2" y2="423.4" stroke="#2a2a2a" stroke-width="1"/>
<line x1="422.2" y1="421.8" x2="422.2" y2="424.4" stroke="#2a2a2a" stroke-width="1"/>
<text x="422.2" y="430.3" font-size="5.4" font-family="'Liberation Serif', 'Times New Roman', serif" font-weight="bold" text-anchor="middle" fill="#333" textLength="6.6" lengthAdjust="spacingAndGlyphs">692</text>
<line x1="433.1" y1="421.8" x2="433.1" y2="423.4" stroke="#2a2a2a" stroke-width="1"/>
<line x1="444.1" y1="421.8" x2="444.1" y2="424.4" stroke="#2a2a2a" stroke-width="1"/>
<text x="444.1" y="430.3" font-size="5.4" font-family="'Liberation Serif', 'Times New Roman', serif" font-weight="bold" text-anchor="middle" fill="#333" textLength="6.6" lengthAdjust="spacingAndGlyphs">690</text>
<line x1="455.1" y1="421.8" x2="455.1" y2="423.4" stroke="#2a2a2a" stroke-width="1"/>
<line x1="466" y1="421.8" x2="466" y2="424.4" stroke="#2a2a2a" stroke-width="1"/>
<text x="466" y="430.3" font-size="5.4" font-family="'Liberation Serif', 'Times New Roman', serif" font-weight="bold" text-anchor="middle" fill="#333" textLength="6.6" lengthAdjust="spacingAndGlyphs">688</text>
<line x1="477" y1="421.8" x2="477" y2="423.4" stroke="#2a2a2a" stroke-width="1"/>
<line x1="488" y1="421.8" x2="488" y2="424.4" stroke="#2a2a2a" stroke-width="1"/>
<text x="488" y="430.3" font-size="5.4" font-family="'Liberation Serif', 'Times New Roman', serif" font-weight="bold" text-anchor="middle" fill="#333" textLength="6.6" lengthAdjust="spacingAndGlyphs">686</text>
<line x1="498.9" y1="421.8" x2="498.9" y2="423.4" stroke="#2a2a2a" stroke-width="1"/>
<line x1="509.9" y1="421.8" x2="509.9" y2="424.4" stroke="#2a2a2a" stroke-width="1"/>
<text x="509.9" y="430.3" font-size="5.4" font-family="'Liberation Serif', 'Times New Roman', serif" font-weight="bold" text-anchor="middle" fill="#333" textLength="6.6" lengthAdjust="spacingAndGlyphs">684</text>
<line x1="520.9" y1="421.8" x2="520.9" y2="423.4" stroke="#2a2a2a" stroke-width="1"/>
<line x1="531.8" y1="421.8" x2="531.8" y2="424.4" stroke="#2a2a2a" stroke-width="1"/>
<text x="531.8" y="430.3" font-size="5.4" font-family="'Liberation Serif', 'Times New Roman', serif" font-weight="bold" text-anchor="middle" fill="#333" textLength="6.6" lengthAdjust="spacingAndGlyphs">682</text>
<line x1="542.8" y1="421.8" x2="542.8" y2="423.4" stroke="#2a2a2a" stroke-width="1"/>
<text x="460.5" y="439.3" font-size="5.9" font-family="'Liberation Serif', 'Times New Roman', serif" font-weight="bold" text-anchor="middle" fill="#333" stroke="#333" stroke-width="0.15" letter-spacing="0.06">Binding Energy (<tspan font-style="italic">eV</tspan>)</text>
<text transform="translate(373.6,363.6) rotate(-90)" font-size="6.1" font-family="'Liberation Serif', 'Times New Roman', serif" font-weight="bold" text-anchor="middle" fill="#333">Counts/s</text>
<text x="382.1" y="311.1" font-size="7.5" font-family="'Liberation Sans', Arial, sans-serif" font-weight="normal" text-anchor="start" fill="#333" stroke="#333" stroke-width="0.15">(i)</text>
<text x="540.9" y="311.3" font-size="7.2" font-family="'Liberation Sans', Arial, sans-serif" font-weight="normal" text-anchor="end" fill="#333" stroke="#333" stroke-width="0.18">F 1s</text>
<text x="463.7" y="331.5" font-size="6.2" font-family="'Liberation Sans', Arial, sans-serif" font-weight="normal" text-anchor="start" fill="#383838" stroke="#383838" stroke-width="0.25" letter-spacing="0.15"><tspan>F</tspan><tspan dy="1.5" font-size="6.2">2</tspan><tspan dy="-1.5">-C</tspan></text>
<text x="474.5" y="400" font-size="6.2" font-family="'Liberation Sans', Arial, sans-serif" font-weight="normal" text-anchor="start" fill="#383838" stroke="#383838" stroke-width="0.25" letter-spacing="0.15"><tspan>F-C</tspan></text>
<text x="480.9" y="411" font-size="6.2" font-family="'Liberation Sans', Arial, sans-serif" font-weight="normal" text-anchor="start" fill="#383838" stroke="#383838" stroke-width="0.25" letter-spacing="0.15"><tspan>F</tspan><tspan dy="1.5" font-size="6.2">3</tspan><tspan dy="-1.5">-C</tspan></text>
<line x1="462.3" y1="331" x2="454.3" y2="339.3" stroke="#333" stroke-width="0.5"/>
<path d="M462.3,331 L461.5,333.5 L459.9,331.9 Z" fill="#222"/>
<line x1="472.7" y1="400.9" x2="456.4" y2="414.5" stroke="#333" stroke-width="0.5"/>
<path d="M472.7,400.9 L471.6,403.3 L470.2,401.6 Z" fill="#222"/>
<line x1="480" y1="411.8" x2="472.7" y2="418.2" stroke="#333" stroke-width="0.5"/>
<path d="M480,411.8 L479,414.2 L477.5,412.5 Z" fill="#222"/>
</svg></body></html>
